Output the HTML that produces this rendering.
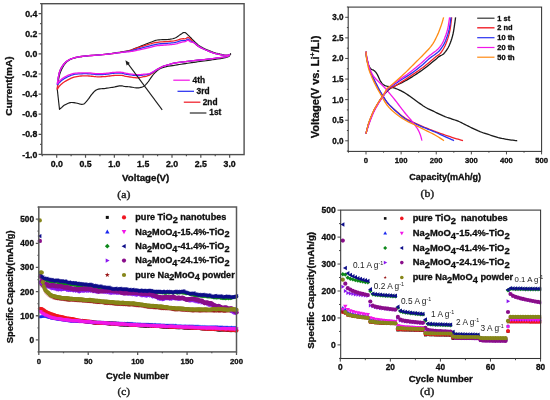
<!DOCTYPE html>
<html lang="en"><head><meta charset="utf-8"><title>Electrochemical performance</title>
<style>html,body{margin:0;padding:0;background:#fff;}body{width:550px;height:400px;overflow:hidden;}svg{display:block;}</style>
</head><body>
<svg width="550" height="400" viewBox="0 0 550 400">
<defs><filter id="soft" x="0" y="0" width="550" height="400" filterUnits="userSpaceOnUse"><feGaussianBlur stdDeviation="0.38"/></filter></defs>
<rect width="550" height="400" fill="#ffffff"/>
<g filter="url(#soft)">
<g id="panel-a">
<rect x="41.8" y="3.7" width="202.3" height="150.9" fill="none" stroke="#505050" stroke-width="1.4"/>
<path d="M56.7 154.6v3.2M85.53 154.6v3.2M114.35 154.6v3.2M143.18 154.6v3.2M172 154.6v3.2M200.82 154.6v3.2M229.65 154.6v3.2" stroke="#505050" stroke-width="1.19" fill="none"/>
<path d="M42.29 154.6v1.7M71.11 154.6v1.7M99.94 154.6v1.7M128.76 154.6v1.7M157.59 154.6v1.7M186.41 154.6v1.7M215.24 154.6v1.7" stroke="#505050" stroke-width="1.19" fill="none"/>
<path d="M41.8 13.61h-3.2M41.8 33.73h-3.2M41.8 53.85h-3.2M41.8 73.97h-3.2M41.8 94.09h-3.2M41.8 114.21h-3.2M41.8 134.33h-3.2M41.8 154.45h-3.2" stroke="#505050" stroke-width="1.19" fill="none"/>
<path d="M41.8 3.55h-1.7M41.8 23.67h-1.7M41.8 43.79h-1.7M41.8 63.91h-1.7M41.8 84.03h-1.7M41.8 104.15h-1.7M41.8 124.27h-1.7M41.8 144.39h-1.7" stroke="#505050" stroke-width="1.19" fill="none"/>
<text transform="translate(56.7 166.7) scale(1.03 1)" font-size="8.5" font-weight="bold" text-anchor="middle" fill="#0a0a0a" font-family='"Liberation Sans", Arial, sans-serif'  stroke="#0a0a0a" stroke-width="0.28">0.0</text>
<text transform="translate(85.53 166.7) scale(1.03 1)" font-size="8.5" font-weight="bold" text-anchor="middle" fill="#0a0a0a" font-family='"Liberation Sans", Arial, sans-serif'  stroke="#0a0a0a" stroke-width="0.28">0.5</text>
<text transform="translate(114.35 166.7) scale(1.03 1)" font-size="8.5" font-weight="bold" text-anchor="middle" fill="#0a0a0a" font-family='"Liberation Sans", Arial, sans-serif'  stroke="#0a0a0a" stroke-width="0.28">1.0</text>
<text transform="translate(143.18 166.7) scale(1.03 1)" font-size="8.5" font-weight="bold" text-anchor="middle" fill="#0a0a0a" font-family='"Liberation Sans", Arial, sans-serif'  stroke="#0a0a0a" stroke-width="0.28">1.5</text>
<text transform="translate(172 166.7) scale(1.03 1)" font-size="8.5" font-weight="bold" text-anchor="middle" fill="#0a0a0a" font-family='"Liberation Sans", Arial, sans-serif'  stroke="#0a0a0a" stroke-width="0.28">2.0</text>
<text transform="translate(200.82 166.7) scale(1.03 1)" font-size="8.5" font-weight="bold" text-anchor="middle" fill="#0a0a0a" font-family='"Liberation Sans", Arial, sans-serif'  stroke="#0a0a0a" stroke-width="0.28">2.5</text>
<text transform="translate(229.65 166.7) scale(1.03 1)" font-size="8.5" font-weight="bold" text-anchor="middle" fill="#0a0a0a" font-family='"Liberation Sans", Arial, sans-serif'  stroke="#0a0a0a" stroke-width="0.28">3.0</text>
<text transform="translate(37.3 16.71) scale(1.03 1)" font-size="8.5" font-weight="bold" text-anchor="end" fill="#0a0a0a" font-family='"Liberation Sans", Arial, sans-serif'  stroke="#0a0a0a" stroke-width="0.28">0.4</text>
<text transform="translate(37.3 36.83) scale(1.03 1)" font-size="8.5" font-weight="bold" text-anchor="end" fill="#0a0a0a" font-family='"Liberation Sans", Arial, sans-serif'  stroke="#0a0a0a" stroke-width="0.28">0.2</text>
<text transform="translate(37.3 56.95) scale(1.03 1)" font-size="8.5" font-weight="bold" text-anchor="end" fill="#0a0a0a" font-family='"Liberation Sans", Arial, sans-serif'  stroke="#0a0a0a" stroke-width="0.28">0.0</text>
<text transform="translate(37.3 77.07) scale(1.03 1)" font-size="8.5" font-weight="bold" text-anchor="end" fill="#0a0a0a" font-family='"Liberation Sans", Arial, sans-serif'  stroke="#0a0a0a" stroke-width="0.28">-0.2</text>
<text transform="translate(37.3 97.19) scale(1.03 1)" font-size="8.5" font-weight="bold" text-anchor="end" fill="#0a0a0a" font-family='"Liberation Sans", Arial, sans-serif'  stroke="#0a0a0a" stroke-width="0.28">-0.4</text>
<text transform="translate(37.3 117.31) scale(1.03 1)" font-size="8.5" font-weight="bold" text-anchor="end" fill="#0a0a0a" font-family='"Liberation Sans", Arial, sans-serif'  stroke="#0a0a0a" stroke-width="0.28">-0.6</text>
<text transform="translate(37.3 137.43) scale(1.03 1)" font-size="8.5" font-weight="bold" text-anchor="end" fill="#0a0a0a" font-family='"Liberation Sans", Arial, sans-serif'  stroke="#0a0a0a" stroke-width="0.28">-0.8</text>
<text transform="translate(37.3 157.55) scale(1.03 1)" font-size="8.5" font-weight="bold" text-anchor="end" fill="#0a0a0a" font-family='"Liberation Sans", Arial, sans-serif'  stroke="#0a0a0a" stroke-width="0.28">-1.0</text>
<text transform="translate(12.1 86) rotate(-90) scale(1.04 1)" font-size="9.7" font-weight="bold" text-anchor="middle" fill="#0a0a0a" stroke="#0a0a0a" stroke-width="0.28" font-family='"Liberation Sans", Arial, sans-serif'>Current(mA)</text>
<text transform="translate(145.7 181) scale(1.0 1)" font-size="9.7" font-weight="bold" text-anchor="middle" fill="#0a0a0a" font-family='"Liberation Sans", Arial, sans-serif'  stroke="#0a0a0a" stroke-width="0.28">Voltage(V)</text>
<text transform="translate(123.8 197.5) scale(1.11 1)" font-size="10.6" font-weight="normal" text-anchor="middle" fill="#222" font-family='"Liberation Serif", "DejaVu Serif", serif'  stroke="#222" stroke-width="0.4">(a)</text>
<path d="M57.2 89.5 L57.33 88.45 L57.51 86.98 L57.73 85.25 L57.97 83.41 L58.23 81.61 L58.5 80 L58.77 78.58 L59.04 77.21 L59.33 75.88 L59.66 74.58 L60.04 73.29 L60.5 72 L61.05 70.67 L61.69 69.3 L62.38 67.94 L63.09 66.64 L63.81 65.44 L64.5 64.4 L65.16 63.53 L65.83 62.79 L66.49 62.16 L67.15 61.6 L67.82 61.09 L68.5 60.6 L69.15 60.15 L69.77 59.76 L70.39 59.42 L71.06 59.11 L71.82 58.81 L72.7 58.5 L73.72 58.19 L74.84 57.88 L76.05 57.59 L77.33 57.31 L78.65 57.04 L80 56.8 L81.31 56.59 L82.6 56.4 L83.92 56.24 L85.38 56.07 L87.05 55.9 L89 55.7 L91.32 55.48 L93.95 55.26 L96.79 55.03 L99.74 54.77 L102.67 54.5 L105.5 54.2 L108.32 53.85 L111.25 53.47 L114.17 53.06 L116.97 52.64 L119.55 52.25 L121.8 51.9 L123.64 51.61 L125.16 51.36 L126.45 51.13 L127.62 50.9 L128.77 50.63 L130 50.3 L131.23 49.93 L132.37 49.54 L133.48 49.11 L134.66 48.64 L135.97 48.11 L137.5 47.5 L139.35 46.77 L141.48 45.9 L143.75 44.98 L146.02 44.06 L148.15 43.21 L150 42.5 L151.51 41.92 L152.78 41.41 L153.91 40.97 L155 40.59 L156.16 40.27 L157.5 40 L159.05 39.81 L160.74 39.72 L162.5 39.69 L164.26 39.67 L165.95 39.62 L167.5 39.5 L168.91 39.34 L170.23 39.17 L171.48 38.98 L172.68 38.73 L173.85 38.41 L175 38 L176.16 37.44 L177.3 36.73 L178.42 35.94 L179.47 35.16 L180.44 34.46 L181.3 33.9 L182.01 33.47 L182.59 33.1 L183.09 32.8 L183.54 32.59 L184 32.49 L184.5 32.5 L185 32.62 L185.46 32.83 L185.93 33.14 L186.44 33.56 L187.05 34.11 L187.8 34.8 L188.74 35.69 L189.82 36.79 L191.01 38.02 L192.23 39.29 L193.45 40.51 L194.6 41.6 L195.62 42.56 L196.54 43.44 L197.44 44.28 L198.43 45.1 L199.58 45.93 L201 46.8 L202.73 47.73 L204.71 48.71 L206.87 49.69 L209.11 50.65 L211.35 51.53 L213.5 52.3 L215.68 52.97 L217.97 53.59 L220.27 54.13 L222.45 54.59 L224.4 54.95 L226 55.2 L227.23 55.31 L228.16 55.27 L228.86 55.14 L229.4 54.96 L229.82 54.76 L230.2 54.6 L230.48 54.44 L230.6 54.26 L230.61 54.06 L230.57 53.87 L230.51 53.71 L230.5 53.6 L229.98 54.88 L229.79 55.27 L229.51 55.74 L229.02 56.24 L228.22 56.74 L227 57.2 L225.21 57.64 L222.93 58.1 L220.33 58.56 L217.6 59 L214.93 59.42 L212.5 59.8 L210.3 60.13 L208.19 60.43 L206.12 60.7 L204.09 60.96 L202.06 61.22 L200 61.5 L197.92 61.79 L195.83 62.09 L193.75 62.39 L191.67 62.69 L189.58 62.99 L187.5 63.3 L185.42 63.61 L183.33 63.91 L181.25 64.21 L179.17 64.53 L177.08 64.85 L175 65.2 L172.84 65.56 L170.59 65.91 L168.34 66.29 L166.19 66.69 L164.21 67.12 L162.5 67.6 L161.1 68.13 L159.94 68.71 L158.97 69.33 L158.11 69.97 L157.31 70.63 L156.5 71.3 L155.72 71.96 L155.04 72.61 L154.41 73.28 L153.8 73.99 L153.17 74.75 L152.5 75.6 L151.78 76.57 L151.03 77.66 L150.27 78.8 L149.5 79.94 L148.74 81.03 L148 82 L147.3 82.87 L146.64 83.69 L145.98 84.45 L145.31 85.14 L144.57 85.76 L143.75 86.3 L142.84 86.75 L141.86 87.13 L140.83 87.43 L139.75 87.66 L138.64 87.82 L137.5 87.9 L136.29 87.88 L135 87.74 L133.67 87.53 L132.36 87.29 L131.12 87.06 L130 86.9 L129.02 86.8 L128.14 86.73 L127.33 86.68 L126.56 86.63 L125.79 86.58 L125 86.5 L124.21 86.38 L123.45 86.21 L122.7 86.04 L121.93 85.9 L121.1 85.8 L120.2 85.8 L119.22 85.9 L118.19 86.09 L117.11 86.32 L115.98 86.59 L114.81 86.86 L113.6 87.1 L112.34 87.32 L111.01 87.54 L109.65 87.76 L108.26 87.98 L106.87 88.19 L105.5 88.4 L104.1 88.56 L102.65 88.67 L101.2 88.78 L99.79 88.92 L98.48 89.15 L97.3 89.5 L96.29 89.98 L95.42 90.55 L94.64 91.21 L93.91 91.94 L93.18 92.74 L92.4 93.6 L91.58 94.58 L90.76 95.71 L89.93 96.9 L89.11 98.09 L88.3 99.22 L87.5 100.2 L86.74 101.09 L86.03 101.95 L85.33 102.74 L84.59 103.43 L83.8 103.96 L82.9 104.3 L81.87 104.39 L80.73 104.23 L79.52 103.93 L78.3 103.57 L77.11 103.23 L76 103 L74.98 102.85 L74.01 102.69 L73.08 102.56 L72.16 102.49 L71.24 102.49 L70.3 102.6 L69.31 102.85 L68.27 103.22 L67.23 103.67 L66.23 104.16 L65.31 104.65 L64.5 105.1 L63.83 105.53 L63.26 105.96 L62.76 106.4 L62.32 106.83 L61.91 107.23 L61.5 107.6 L61.09 107.95 L60.69 108.29 L60.31 108.61 L59.98 108.89 L59.71 109.12 L59.5 109.3 L57.3 89.5" fill="none" stroke="#1a1a1a" stroke-width="1.15" stroke-linejoin="round" stroke-linecap="butt" />
<path d="M57.2 89.5 L57.35 87.95 L57.54 85.74 L57.78 83.16 L58.04 80.48 L58.32 78 L58.6 76 L58.86 74.51 L59.12 73.3 L59.39 72.29 L59.69 71.38 L60.06 70.48 L60.5 69.5 L61.05 68.43 L61.68 67.33 L62.37 66.24 L63.09 65.2 L63.81 64.24 L64.5 63.4 L65.16 62.68 L65.83 62.07 L66.49 61.54 L67.15 61.06 L67.82 60.62 L68.5 60.2 L69.15 59.8 L69.77 59.46 L70.39 59.15 L71.06 58.86 L71.82 58.58 L72.7 58.3 L73.72 58.01 L74.84 57.72 L76.05 57.44 L77.33 57.18 L78.65 56.93 L80 56.7 L81.31 56.5 L82.6 56.33 L83.92 56.18 L85.38 56.03 L87.05 55.88 L89 55.7 L91.32 55.51 L93.95 55.32 L96.79 55.12 L99.74 54.91 L102.67 54.67 L105.5 54.4 L108.32 54.08 L111.25 53.73 L114.17 53.35 L116.97 52.96 L119.55 52.58 L121.8 52.23 L123.64 51.91 L125.16 51.6 L126.45 51.31 L127.62 51.02 L128.77 50.71 L130 50.37 L131.23 50.02 L132.37 49.67 L133.48 49.31 L134.66 48.92 L135.97 48.48 L137.5 47.98 L139.35 47.38 L141.48 46.69 L143.75 45.95 L146.02 45.22 L148.15 44.55 L150 44 L151.51 43.57 L152.78 43.23 L153.91 42.95 L155 42.72 L156.16 42.5 L157.5 42.3 L159.05 42.11 L160.74 41.97 L162.5 41.84 L164.26 41.73 L165.95 41.62 L167.5 41.5 L168.91 41.38 L170.23 41.27 L171.48 41.16 L172.68 41.04 L173.85 40.89 L175 40.7 L176.14 40.44 L177.27 40.11 L178.36 39.76 L179.41 39.42 L180.39 39.12 L181.3 38.9 L182.13 38.79 L182.89 38.76 L183.58 38.77 L184.23 38.79 L184.83 38.78 L185.4 38.7 L185.92 38.51 L186.38 38.23 L186.79 37.93 L187.19 37.64 L187.58 37.45 L188 37.4 L188.42 37.5 L188.83 37.7 L189.24 37.99 L189.66 38.35 L190.11 38.76 L190.6 39.2 L191.12 39.69 L191.64 40.24 L192.2 40.84 L192.8 41.47 L193.46 42.13 L194.2 42.8 L194.96 43.48 L195.72 44.17 L196.54 44.89 L197.49 45.63 L198.62 46.4 L200 47.2 L201.7 48.07 L203.67 49.02 L205.83 50 L208.09 50.96 L210.34 51.84 L212.5 52.6 L214.67 53.26 L216.96 53.86 L219.24 54.39 L221.42 54.83 L223.37 55.17 L225 55.4 L226.28 55.47 L227.29 55.37 L228.08 55.17 L228.7 54.94 L229.19 54.73 L229.6 54.6 L229.39 54.82 L229.2 55.12 L228.92 55.48 L228.46 55.86 L227.68 56.24 L226.5 56.6 L224.78 56.94 L222.59 57.29 L220.09 57.64 L217.46 57.98 L214.87 58.3 L212.5 58.6 L210.33 58.87 L208.22 59.11 L206.16 59.34 L204.11 59.56 L202.07 59.78 L200 60 L197.92 60.22 L195.83 60.43 L193.75 60.63 L191.67 60.84 L189.58 61.06 L187.5 61.3 L185.4 61.54 L183.29 61.78 L181.17 62.03 L179.07 62.31 L177.01 62.63 L175 63 L173 63.45 L171 63.96 L169.03 64.51 L167.14 65.08 L165.38 65.65 L163.8 66.2 L162.45 66.71 L161.31 67.19 L160.31 67.66 L159.35 68.17 L158.38 68.74 L157.3 69.4 L156.12 70.21 L154.89 71.17 L153.63 72.18 L152.39 73.17 L151.17 74.07 L150 74.8 L148.9 75.33 L147.84 75.74 L146.81 76.04 L145.79 76.29 L144.78 76.51 L143.75 76.74 L142.72 76.99 L141.71 77.23 L140.7 77.44 L139.68 77.62 L138.61 77.74 L137.5 77.8 L136.29 77.77 L135 77.67 L133.67 77.52 L132.36 77.34 L131.12 77.15 L130 77 L129 76.87 L128.08 76.73 L127.23 76.6 L126.44 76.47 L125.7 76.33 L125 76.2 L124.42 76.06 L123.99 75.9 L123.6 75.74 L123.17 75.6 L122.6 75.48 L121.8 75.4 L120.72 75.35 L119.43 75.33 L118.01 75.34 L116.51 75.37 L115.02 75.42 L113.6 75.5 L112.25 75.62 L110.9 75.79 L109.55 75.99 L108.2 76.19 L106.85 76.36 L105.5 76.5 L104.14 76.6 L102.78 76.69 L101.41 76.76 L100.04 76.81 L98.67 76.82 L97.3 76.8 L95.92 76.72 L94.53 76.59 L93.14 76.42 L91.75 76.25 L90.37 76.1 L89 76 L87.65 75.93 L86.32 75.88 L85 75.85 L83.68 75.85 L82.35 75.9 L81 76 L79.63 76.15 L78.25 76.33 L76.86 76.56 L75.47 76.85 L74.08 77.2 L72.7 77.64 L71.28 78.19 L69.82 78.86 L68.36 79.59 L66.96 80.36 L65.65 81.11 L64.5 81.8 L63.52 82.44 L62.66 83.05 L61.91 83.65 L61.24 84.25 L60.61 84.85 L60 85.48 L59.4 86.18 L58.84 86.94 L58.32 87.72 L57.86 88.45 L57.48 89.06 L57.2 89.5" fill="none" stroke="#f0202a" stroke-width="1.3" stroke-linejoin="round" stroke-linecap="butt" />
<path d="M57.2 85 L57.35 83.99 L57.54 82.57 L57.78 80.91 L58.04 79.15 L58.32 77.46 L58.6 76 L58.86 74.77 L59.12 73.63 L59.39 72.57 L59.69 71.54 L60.06 70.53 L60.5 69.5 L61.05 68.43 L61.68 67.33 L62.37 66.24 L63.09 65.2 L63.81 64.24 L64.5 63.4 L65.16 62.68 L65.83 62.07 L66.49 61.54 L67.15 61.06 L67.82 60.62 L68.5 60.2 L69.15 59.8 L69.77 59.46 L70.39 59.15 L71.06 58.86 L71.82 58.58 L72.7 58.3 L73.72 58.01 L74.84 57.72 L76.05 57.44 L77.33 57.18 L78.65 56.93 L80 56.7 L81.31 56.5 L82.6 56.33 L83.92 56.18 L85.38 56.03 L87.05 55.88 L89 55.7 L91.32 55.51 L93.95 55.32 L96.79 55.12 L99.74 54.9 L102.67 54.67 L105.5 54.4 L108.32 54.08 L111.25 53.72 L114.17 53.34 L116.97 52.96 L119.55 52.6 L121.8 52.28 L123.64 52.03 L125.16 51.82 L126.45 51.64 L127.62 51.45 L128.77 51.25 L130 51.02 L131.23 50.76 L132.37 50.5 L133.48 50.23 L134.66 49.92 L135.97 49.57 L137.5 49.17 L139.35 48.68 L141.48 48.1 L143.75 47.48 L146.02 46.86 L148.15 46.28 L150 45.8 L151.51 45.41 L152.78 45.08 L153.91 44.79 L155 44.54 L156.16 44.31 L157.5 44.1 L159.05 43.91 L160.74 43.77 L162.5 43.64 L164.26 43.53 L165.95 43.42 L167.5 43.3 L168.91 43.18 L170.23 43.07 L171.48 42.96 L172.68 42.84 L173.85 42.69 L175 42.5 L176.14 42.24 L177.27 41.91 L178.36 41.56 L179.41 41.22 L180.39 40.92 L181.3 40.7 L182.13 40.59 L182.89 40.56 L183.58 40.57 L184.23 40.59 L184.83 40.58 L185.4 40.5 L185.92 40.31 L186.38 40.03 L186.79 39.73 L187.19 39.44 L187.58 39.25 L188 39.2 L188.42 39.32 L188.83 39.57 L189.24 39.91 L189.66 40.29 L190.11 40.66 L190.6 41 L191.12 41.27 L191.64 41.5 L192.2 41.74 L192.8 42.01 L193.46 42.35 L194.2 42.8 L194.96 43.37 L195.72 44.04 L196.54 44.77 L197.49 45.56 L198.62 46.38 L200 47.2 L201.7 48.07 L203.67 49.02 L205.83 50 L208.09 50.96 L210.34 51.84 L212.5 52.6 L214.67 53.26 L216.96 53.86 L219.24 54.39 L221.42 54.83 L223.37 55.17 L225 55.4 L226.28 55.47 L227.29 55.37 L228.08 55.17 L228.7 54.94 L229.19 54.73 L229.6 54.6 L229.39 54.82 L229.2 55.12 L228.92 55.48 L228.46 55.86 L227.68 56.24 L226.5 56.6 L224.78 56.94 L222.59 57.29 L220.09 57.64 L217.46 57.98 L214.87 58.3 L212.5 58.6 L210.33 58.87 L208.22 59.11 L206.16 59.34 L204.11 59.56 L202.07 59.78 L200 60 L197.92 60.22 L195.83 60.43 L193.75 60.63 L191.67 60.84 L189.58 61.06 L187.5 61.3 L185.4 61.54 L183.29 61.78 L181.17 62.03 L179.07 62.31 L177.01 62.63 L175 63 L173 63.45 L171 63.96 L169.03 64.51 L167.14 65.08 L165.38 65.65 L163.8 66.2 L162.45 66.72 L161.31 67.23 L160.31 67.73 L159.35 68.25 L158.38 68.8 L157.3 69.4 L156.12 70.09 L154.89 70.86 L153.63 71.67 L152.39 72.45 L151.17 73.15 L150 73.7 L148.9 74.1 L147.84 74.37 L146.81 74.57 L145.79 74.71 L144.78 74.84 L143.75 74.98 L142.72 75.14 L141.71 75.29 L140.7 75.42 L139.68 75.52 L138.61 75.59 L137.5 75.6 L136.29 75.55 L135 75.44 L133.67 75.29 L132.36 75.12 L131.12 74.95 L130 74.8 L129 74.67 L128.08 74.53 L127.23 74.4 L126.44 74.27 L125.7 74.13 L125 74 L124.42 73.86 L123.99 73.7 L123.6 73.54 L123.17 73.4 L122.6 73.28 L121.8 73.2 L120.72 73.15 L119.43 73.13 L118.01 73.14 L116.51 73.17 L115.02 73.22 L113.6 73.3 L112.25 73.42 L110.9 73.59 L109.55 73.79 L108.2 73.99 L106.85 74.16 L105.5 74.3 L104.14 74.4 L102.78 74.49 L101.41 74.56 L100.04 74.61 L98.67 74.62 L97.3 74.6 L95.92 74.52 L94.53 74.39 L93.14 74.22 L91.75 74.05 L90.37 73.9 L89 73.8 L87.65 73.74 L86.32 73.7 L85 73.69 L83.68 73.7 L82.35 73.73 L81 73.8 L79.63 73.87 L78.25 73.95 L76.86 74.06 L75.47 74.21 L74.08 74.45 L72.7 74.78 L71.28 75.24 L69.82 75.83 L68.36 76.48 L66.96 77.18 L65.65 77.86 L64.5 78.5 L63.52 79.1 L62.66 79.69 L61.91 80.27 L61.24 80.85 L60.61 81.41 L60 81.96 L59.4 82.53 L58.84 83.12 L58.32 83.7 L57.86 84.23 L57.48 84.67 L57.2 85" fill="none" stroke="#2a32f0" stroke-width="1.3" stroke-linejoin="round" stroke-linecap="butt" />
<path d="M57.2 84.2 L57.35 83.29 L57.54 82.01 L57.78 80.51 L58.04 78.91 L58.32 77.36 L58.6 76 L58.86 74.81 L59.12 73.69 L59.39 72.62 L59.69 71.57 L60.06 70.54 L60.5 69.5 L61.05 68.43 L61.68 67.33 L62.37 66.24 L63.09 65.2 L63.81 64.24 L64.5 63.4 L65.16 62.68 L65.83 62.07 L66.49 61.54 L67.15 61.06 L67.82 60.62 L68.5 60.2 L69.15 59.8 L69.77 59.46 L70.39 59.15 L71.06 58.86 L71.82 58.58 L72.7 58.3 L73.72 58.01 L74.84 57.72 L76.05 57.44 L77.33 57.18 L78.65 56.93 L80 56.7 L81.31 56.5 L82.6 56.33 L83.92 56.18 L85.38 56.03 L87.05 55.88 L89 55.7 L91.32 55.51 L93.95 55.32 L96.79 55.12 L99.74 54.9 L102.67 54.66 L105.5 54.4 L108.32 54.08 L111.25 53.72 L114.17 53.33 L116.97 52.95 L119.55 52.61 L121.8 52.34 L123.64 52.14 L125.16 52.01 L126.45 51.92 L127.62 51.84 L128.77 51.74 L130 51.6 L131.23 51.42 L132.37 51.24 L133.48 51.04 L134.66 50.81 L135.97 50.55 L137.5 50.23 L139.35 49.83 L141.48 49.35 L143.75 48.83 L146.02 48.31 L148.15 47.82 L150 47.4 L151.51 47.04 L152.78 46.72 L153.91 46.42 L155 46.16 L156.16 45.92 L157.5 45.7 L159.05 45.51 L160.74 45.37 L162.5 45.24 L164.26 45.13 L165.95 45.02 L167.5 44.9 L168.91 44.78 L170.23 44.67 L171.48 44.56 L172.68 44.44 L173.85 44.29 L175 44.1 L176.14 43.85 L177.27 43.54 L178.36 43.2 L179.41 42.86 L180.39 42.55 L181.3 42.3 L182.13 42.11 L182.89 41.98 L183.58 41.87 L184.23 41.77 L184.83 41.65 L185.4 41.5 L185.92 41.28 L186.38 40.99 L186.79 40.69 L187.19 40.42 L187.58 40.24 L188 40.2 L188.42 40.33 L188.83 40.61 L189.24 40.97 L189.66 41.36 L190.11 41.72 L190.6 42 L191.12 42.15 L191.64 42.21 L192.2 42.24 L192.8 42.3 L193.46 42.47 L194.2 42.8 L194.96 43.31 L195.72 43.96 L196.54 44.71 L197.49 45.53 L198.62 46.37 L200 47.2 L201.7 48.07 L203.67 49.02 L205.83 50 L208.09 50.96 L210.34 51.84 L212.5 52.6 L214.67 53.26 L216.96 53.86 L219.24 54.39 L221.42 54.83 L223.37 55.17 L225 55.4 L226.28 55.47 L227.29 55.37 L228.08 55.17 L228.7 54.94 L229.19 54.73 L229.6 54.6 L229.39 54.82 L229.2 55.12 L228.92 55.48 L228.46 55.86 L227.68 56.24 L226.5 56.6 L224.78 56.94 L222.59 57.29 L220.09 57.64 L217.46 57.98 L214.87 58.3 L212.5 58.6 L210.33 58.87 L208.22 59.11 L206.16 59.34 L204.11 59.56 L202.07 59.78 L200 60 L197.92 60.22 L195.83 60.43 L193.75 60.63 L191.67 60.84 L189.58 61.06 L187.5 61.3 L185.4 61.54 L183.29 61.78 L181.17 62.03 L179.07 62.31 L177.01 62.63 L175 63 L173 63.45 L171 63.96 L169.03 64.51 L167.14 65.08 L165.38 65.65 L163.8 66.2 L162.45 66.73 L161.31 67.24 L160.31 67.76 L159.35 68.29 L158.38 68.83 L157.3 69.4 L156.12 70.04 L154.89 70.74 L153.63 71.46 L152.39 72.15 L151.17 72.77 L150 73.25 L148.9 73.59 L147.84 73.82 L146.81 73.97 L145.79 74.07 L144.78 74.16 L143.75 74.26 L142.72 74.38 L141.71 74.49 L140.7 74.59 L139.68 74.67 L138.61 74.71 L137.5 74.7 L136.29 74.64 L135 74.53 L133.67 74.38 L132.36 74.21 L131.12 74.05 L130 73.9 L129 73.77 L128.08 73.63 L127.23 73.5 L126.44 73.37 L125.7 73.23 L125 73.1 L124.42 72.96 L123.99 72.8 L123.6 72.64 L123.17 72.5 L122.6 72.38 L121.8 72.3 L120.72 72.25 L119.43 72.23 L118.01 72.24 L116.51 72.27 L115.02 72.32 L113.6 72.4 L112.25 72.52 L110.9 72.69 L109.55 72.89 L108.2 73.09 L106.85 73.26 L105.5 73.4 L104.14 73.5 L102.78 73.59 L101.41 73.66 L100.04 73.71 L98.67 73.72 L97.3 73.7 L95.92 73.62 L94.53 73.49 L93.14 73.32 L91.75 73.15 L90.37 73 L89 72.9 L87.65 72.85 L86.32 72.81 L85 72.81 L83.68 72.82 L82.35 72.85 L81 72.9 L79.63 72.94 L78.25 72.98 L76.86 73.03 L75.47 73.14 L74.08 73.32 L72.7 73.61 L71.28 74.04 L69.82 74.59 L68.36 75.21 L66.96 75.88 L65.65 76.54 L64.5 77.15 L63.52 77.72 L62.66 78.27 L61.91 78.83 L61.24 79.38 L60.61 79.94 L60 80.52 L59.4 81.16 L58.84 81.86 L58.32 82.57 L57.86 83.23 L57.48 83.8 L57.2 84.2" fill="none" stroke="#f218e8" stroke-width="1.3" stroke-linejoin="round" stroke-linecap="butt" />
<path d="M162.2 109.8L127 62.4" stroke="#1c1c1c" stroke-width="1.1" fill="none"/>
<polygon points="125.4,60.3 129.9,63.1 126.6,65.5" fill="#1c1c1c"/>
<path d="M173.3 80.2H189.8" stroke="#f218e8" stroke-width="1.25"/>
<text transform="translate(192.5 82.6) scale(0.98 1)" font-size="8.5" font-weight="bold" text-anchor="start" fill="#0a0a0a" font-family='"Liberation Sans", Arial, sans-serif'  stroke="#0a0a0a" stroke-width="0.28">4th</text>
<path d="M177.5 91.3H194" stroke="#2a32f0" stroke-width="1.25"/>
<text transform="translate(196.6 93.6) scale(0.98 1)" font-size="8.5" font-weight="bold" text-anchor="start" fill="#0a0a0a" font-family='"Liberation Sans", Arial, sans-serif'  stroke="#0a0a0a" stroke-width="0.28">3rd</text>
<path d="M183.8 102.2H200.4" stroke="#f0202a" stroke-width="1.25"/>
<text transform="translate(202.7 104.5) scale(0.98 1)" font-size="8.5" font-weight="bold" text-anchor="start" fill="#0a0a0a" font-family='"Liberation Sans", Arial, sans-serif'  stroke="#0a0a0a" stroke-width="0.28">2nd</text>
<path d="M189.8 113H206.4" stroke="#333" stroke-width="1.25"/>
<text transform="translate(209.3 115.4) scale(0.98 1)" font-size="8.5" font-weight="bold" text-anchor="start" fill="#0a0a0a" font-family='"Liberation Sans", Arial, sans-serif'  stroke="#0a0a0a" stroke-width="0.28">1st</text>
</g>
<g id="panel-b">
<rect x="348.2" y="7.1" width="193.4" height="144.3" fill="none" stroke="#333333" stroke-width="1.05"/>
<path d="M366 151.4v3M401.12 151.4v3M436.24 151.4v3M471.36 151.4v3M506.48 151.4v3M541.6 151.4v3" stroke="#333333" stroke-width="0.8925" fill="none"/>
<path d="M348.44 151.4v1.3M383.56 151.4v1.3M418.68 151.4v1.3M453.8 151.4v1.3M488.92 151.4v1.3M524.04 151.4v1.3" stroke="#333333" stroke-width="0.8925" fill="none"/>
<path d="M348.2 140.8h-3M348.2 120.22h-3M348.2 99.63h-3M348.2 79.05h-3M348.2 58.46h-3M348.2 37.88h-3M348.2 17.29h-3" stroke="#333333" stroke-width="0.8925" fill="none"/>
<path d="M348.2 151.09h-1.3M348.2 130.51h-1.3M348.2 109.92h-1.3M348.2 89.34h-1.3M348.2 68.75h-1.3M348.2 48.17h-1.3M348.2 27.58h-1.3M348.2 7h-1.3" stroke="#333333" stroke-width="0.8925" fill="none"/>
<text transform="translate(366 163) scale(0.96 1)" font-size="8.0" font-weight="bold" text-anchor="middle" fill="#0a0a0a" font-family='"Liberation Sans", Arial, sans-serif'  stroke="#0a0a0a" stroke-width="0.28">0</text>
<text transform="translate(401.12 163) scale(0.96 1)" font-size="8.0" font-weight="bold" text-anchor="middle" fill="#0a0a0a" font-family='"Liberation Sans", Arial, sans-serif'  stroke="#0a0a0a" stroke-width="0.28">100</text>
<text transform="translate(436.24 163) scale(0.96 1)" font-size="8.0" font-weight="bold" text-anchor="middle" fill="#0a0a0a" font-family='"Liberation Sans", Arial, sans-serif'  stroke="#0a0a0a" stroke-width="0.28">200</text>
<text transform="translate(471.36 163) scale(0.96 1)" font-size="8.0" font-weight="bold" text-anchor="middle" fill="#0a0a0a" font-family='"Liberation Sans", Arial, sans-serif'  stroke="#0a0a0a" stroke-width="0.28">300</text>
<text transform="translate(506.48 163) scale(0.96 1)" font-size="8.0" font-weight="bold" text-anchor="middle" fill="#0a0a0a" font-family='"Liberation Sans", Arial, sans-serif'  stroke="#0a0a0a" stroke-width="0.28">400</text>
<text transform="translate(541.6 163) scale(0.96 1)" font-size="8.0" font-weight="bold" text-anchor="middle" fill="#0a0a0a" font-family='"Liberation Sans", Arial, sans-serif'  stroke="#0a0a0a" stroke-width="0.28">500</text>
<text transform="translate(343.6 143.7) scale(0.99 1)" font-size="8.2" font-weight="bold" text-anchor="end" fill="#0a0a0a" font-family='"Liberation Sans", Arial, sans-serif'  stroke="#0a0a0a" stroke-width="0.28">0.0</text>
<text transform="translate(343.6 123.12) scale(0.99 1)" font-size="8.2" font-weight="bold" text-anchor="end" fill="#0a0a0a" font-family='"Liberation Sans", Arial, sans-serif'  stroke="#0a0a0a" stroke-width="0.28">0.5</text>
<text transform="translate(343.6 102.53) scale(0.99 1)" font-size="8.2" font-weight="bold" text-anchor="end" fill="#0a0a0a" font-family='"Liberation Sans", Arial, sans-serif'  stroke="#0a0a0a" stroke-width="0.28">1.0</text>
<text transform="translate(343.6 81.95) scale(0.99 1)" font-size="8.2" font-weight="bold" text-anchor="end" fill="#0a0a0a" font-family='"Liberation Sans", Arial, sans-serif'  stroke="#0a0a0a" stroke-width="0.28">1.5</text>
<text transform="translate(343.6 61.36) scale(0.99 1)" font-size="8.2" font-weight="bold" text-anchor="end" fill="#0a0a0a" font-family='"Liberation Sans", Arial, sans-serif'  stroke="#0a0a0a" stroke-width="0.28">2.0</text>
<text transform="translate(343.6 40.77) scale(0.99 1)" font-size="8.2" font-weight="bold" text-anchor="end" fill="#0a0a0a" font-family='"Liberation Sans", Arial, sans-serif'  stroke="#0a0a0a" stroke-width="0.28">2.5</text>
<text transform="translate(343.6 20.19) scale(0.99 1)" font-size="8.2" font-weight="bold" text-anchor="end" fill="#0a0a0a" font-family='"Liberation Sans", Arial, sans-serif'  stroke="#0a0a0a" stroke-width="0.28">3.0</text>
<text transform="translate(319.2 87) rotate(-90) scale(1.012 1)" font-size="11" font-weight="bold" text-anchor="middle" fill="#0a0a0a" stroke="#0a0a0a" stroke-width="0.28" font-family='"Liberation Sans", Arial, sans-serif'>Voltage(V vs. Li<tspan font-size="7" dy="-3.8">+</tspan><tspan dy="3.8">/Li)</tspan></text>
<text transform="translate(445.2 179.6) scale(1.04 1)" font-size="8.7" font-weight="bold" text-anchor="middle" fill="#0a0a0a" font-family='"Liberation Sans", Arial, sans-serif'  stroke="#0a0a0a" stroke-width="0.28">Capacity(mAh/g)</text>
<text transform="translate(427.4 196.5) scale(1.1 1)" font-size="10.6" font-weight="normal" text-anchor="middle" fill="#222" font-family='"Liberation Serif", "DejaVu Serif", serif'  stroke="#222" stroke-width="0.4">(b)</text>
<path d="M366 51.6 L366.06 52.3 L366.13 53.27 L366.21 54.43 L366.32 55.66 L366.45 56.88 L366.6 58 L366.77 59.03 L366.95 60.07 L367.15 61.09 L367.39 62.09 L367.66 63.06 L368 64 L368.41 64.93 L368.88 65.87 L369.4 66.78 L369.94 67.63 L370.48 68.38 L371 69 L371.5 69.43 L372 69.69 L372.5 69.84 L373 69.98 L373.5 70.17 L374 70.5 L374.49 70.92 L374.96 71.35 L375.44 71.84 L375.93 72.43 L376.44 73.13 L377 74 L377.61 75.12 L378.26 76.5 L378.94 77.99 L379.63 79.49 L380.32 80.87 L381 82 L381.64 82.88 L382.26 83.61 L382.88 84.21 L383.52 84.73 L384.22 85.18 L385 85.6 L385.88 85.95 L386.85 86.21 L387.88 86.4 L388.93 86.57 L389.98 86.76 L391 87 L391.98 87.28 L392.93 87.55 L393.88 87.84 L394.85 88.16 L395.88 88.54 L397 89 L398.19 89.52 L399.44 90.07 L400.75 90.69 L402.11 91.37 L403.53 92.14 L405 93 L406.55 93.99 L408.19 95.11 L409.88 96.31 L411.59 97.56 L413.31 98.8 L415 100 L416.67 101.19 L418.33 102.41 L420 103.62 L421.67 104.81 L423.33 105.95 L425 107 L426.67 107.95 L428.33 108.83 L430 109.65 L431.67 110.44 L433.33 111.21 L435 112 L436.67 112.8 L438.33 113.61 L440 114.4 L441.67 115.17 L443.33 115.91 L445 116.6 L446.72 117.25 L448.52 117.87 L450.31 118.46 L452.04 119.01 L453.62 119.53 L455 120 L456.06 120.38 L456.85 120.66 L457.5 120.9 L458.15 121.16 L458.94 121.51 L460 122 L461.38 122.66 L462.96 123.46 L464.69 124.34 L466.48 125.25 L468.28 126.16 L470 127 L471.67 127.8 L473.33 128.61 L475 129.4 L476.67 130.17 L478.33 130.91 L480 131.6 L481.67 132.24 L483.33 132.84 L485 133.4 L486.67 133.94 L488.33 134.47 L490 135 L491.67 135.54 L493.33 136.07 L495 136.6 L496.67 137.1 L498.33 137.57 L500 138 L501.7 138.38 L503.44 138.72 L505.18 139.03 L506.87 139.3 L508.5 139.56 L510 139.8 L511.45 140.02 L512.87 140.23 L514.23 140.41 L515.44 140.57 L516.45 140.7 L517.2 140.8" fill="none" stroke="#1a1a1a" stroke-width="1.3" stroke-linejoin="round" stroke-linecap="butt" />
<path d="M366 51.6 L366.06 52.19 L366.13 53.01 L366.22 53.99 L366.33 55.03 L366.46 56.06 L366.6 57 L366.75 57.8 L366.9 58.51 L367.07 59.21 L367.27 59.98 L367.51 60.88 L367.8 62 L368.14 63.37 L368.5 64.93 L368.91 66.62 L369.37 68.41 L369.89 70.22 L370.5 72 L371.2 73.78 L371.99 75.59 L372.84 77.44 L373.74 79.3 L374.67 81.16 L375.6 83 L376.55 84.86 L377.53 86.74 L378.54 88.62 L379.57 90.48 L380.59 92.28 L381.6 94 L382.58 95.63 L383.53 97.2 L384.48 98.72 L385.46 100.19 L386.49 101.61 L387.6 103 L388.79 104.34 L390.03 105.61 L391.33 106.84 L392.68 108.06 L394.07 109.27 L395.5 110.5 L396.98 111.78 L398.53 113.09 L400.12 114.41 L401.74 115.69 L403.37 116.89 L405 118 L406.64 118.98 L408.3 119.87 L409.97 120.69 L411.65 121.46 L413.33 122.22 L415 123 L416.67 123.79 L418.33 124.56 L420 125.32 L421.67 126.06 L423.33 126.79 L425 127.5 L426.67 128.19 L428.33 128.86 L430 129.51 L431.67 130.14 L433.33 130.77 L435 131.4 L436.67 132.02 L438.33 132.63 L440 133.24 L441.67 133.83 L443.33 134.42 L445 135 L446.69 135.58 L448.41 136.16 L450.12 136.73 L451.81 137.29 L453.45 137.81 L455 138.3 L456.54 138.77 L458.11 139.23 L459.62 139.66 L461 140.04 L462.15 140.36 L463 140.6" fill="none" stroke="#f0202a" stroke-width="1.3" stroke-linejoin="round" stroke-linecap="butt" />
<path d="M366 51.6 L366.06 52.19 L366.13 53.01 L366.22 53.99 L366.33 55.03 L366.46 56.06 L366.6 57 L366.75 57.81 L366.91 58.55 L367.08 59.27 L367.28 60.05 L367.52 60.94 L367.8 62 L368.11 63.23 L368.43 64.59 L368.78 66.06 L369.2 67.63 L369.69 69.28 L370.3 71 L371.04 72.84 L371.89 74.81 L372.83 76.88 L373.82 78.96 L374.82 81.02 L375.8 83 L376.77 84.91 L377.76 86.81 L378.77 88.69 L379.78 90.52 L380.79 92.29 L381.8 94 L382.78 95.63 L383.73 97.19 L384.68 98.69 L385.66 100.15 L386.69 101.58 L387.8 103 L388.99 104.39 L390.23 105.74 L391.52 107.06 L392.86 108.37 L394.26 109.68 L395.7 111 L397.21 112.37 L398.8 113.79 L400.44 115.21 L402.11 116.59 L403.77 117.86 L405.4 119 L407 119.97 L408.59 120.79 L410.18 121.53 L411.77 122.21 L413.38 122.88 L415 123.6 L416.64 124.35 L418.3 125.1 L419.98 125.84 L421.65 126.57 L423.33 127.29 L425 128 L426.67 128.68 L428.33 129.34 L430 129.99 L431.67 130.64 L433.33 131.3 L435 132 L436.68 132.74 L438.37 133.51 L440.06 134.3 L441.74 135.09 L443.39 135.86 L445 136.6 L446.66 137.35 L448.41 138.13 L450.12 138.89 L451.7 139.59 L453.03 140.17 L454 140.6" fill="none" stroke="#2a32f0" stroke-width="1.3" stroke-linejoin="round" stroke-linecap="butt" />
<path d="M366 51.6 L366.07 52.18 L366.16 52.98 L366.27 53.93 L366.4 54.96 L366.54 56 L366.7 57 L366.87 57.95 L367.04 58.9 L367.24 59.87 L367.46 60.87 L367.71 61.91 L368 63 L368.32 64.16 L368.67 65.39 L369.05 66.66 L369.47 67.94 L369.95 69.23 L370.5 70.5 L371.07 71.72 L371.65 72.91 L372.28 74.09 L373.02 75.31 L373.91 76.61 L375 78 L376.35 79.5 L377.93 81.07 L379.66 82.72 L381.46 84.43 L383.27 86.19 L385 88 L386.67 89.87 L388.33 91.81 L390 93.81 L391.67 95.85 L393.33 97.92 L395 100 L396.71 102.18 L398.48 104.48 L400.25 106.81 L401.96 109.07 L403.56 111.17 L405 113 L406.23 114.5 L407.3 115.74 L408.25 116.81 L409.15 117.81 L410.05 118.84 L411 120 L412.03 121.3 L413.11 122.67 L414.19 124.06 L415.22 125.44 L416.17 126.77 L417 128 L417.69 129.11 L418.26 130.13 L418.75 131.09 L419.19 132.03 L419.59 132.99 L420 134 L420.41 135.14 L420.81 136.4 L421.19 137.68 L421.52 138.87 L421.79 139.88 L422 140.6" fill="none" stroke="#f218e8" stroke-width="1.3" stroke-linejoin="round" stroke-linecap="butt" />
<path d="M366 51.6 L366.04 52.19 L366.09 53.01 L366.15 53.99 L366.22 55.03 L366.31 56.06 L366.4 57 L366.49 57.81 L366.59 58.55 L366.69 59.27 L366.81 60.05 L366.98 60.94 L367.2 62 L367.45 63.22 L367.7 64.56 L368 66 L368.36 67.56 L368.82 69.22 L369.4 71 L370.13 72.96 L371 75.11 L371.96 77.38 L372.98 79.67 L374 81.9 L375 84 L375.98 85.96 L376.97 87.85 L377.98 89.69 L378.99 91.48 L380 93.25 L381 95 L381.98 96.75 L382.93 98.48 L383.88 100.19 L384.85 101.85 L385.88 103.46 L387 105 L388.19 106.46 L389.44 107.85 L390.75 109.19 L392.11 110.48 L393.53 111.75 L395 113 L396.55 114.25 L398.19 115.48 L399.88 116.69 L401.59 117.85 L403.31 118.96 L405 120 L406.67 120.95 L408.33 121.81 L410 122.62 L411.67 123.41 L413.33 124.19 L415 125 L416.67 125.83 L418.33 126.67 L420 127.5 L421.67 128.33 L423.33 129.17 L425 130 L426.68 130.83 L428.37 131.64 L430.06 132.46 L431.74 133.29 L433.39 134.13 L435 135 L436.66 135.96 L438.41 137.03 L440.12 138.11 L441.7 139.13 L443.03 139.98 L444 140.6" fill="none" stroke="#ff8a12" stroke-width="1.3" stroke-linejoin="round" stroke-linecap="butt" />
<path d="M366 133.6 L366.15 133 L366.36 132.16 L366.61 131.17 L366.89 130.1 L367.18 129.02 L367.46 128 L367.73 127.07 L367.98 126.18 L368.24 125.28 L368.54 124.31 L368.9 123.24 L369.34 122 L369.87 120.55 L370.48 118.93 L371.15 117.19 L371.86 115.41 L372.6 113.66 L373.35 112 L374.13 110.42 L374.94 108.87 L375.79 107.34 L376.65 105.85 L377.51 104.4 L378.35 103 L379.18 101.65 L379.99 100.33 L380.81 99.06 L381.64 97.83 L382.48 96.65 L383.35 95.5 L384.25 94.38 L385.17 93.3 L386.11 92.25 L387.07 91.26 L388.03 90.34 L389 89.5 L389.93 88.79 L390.83 88.2 L391.73 87.69 L392.69 87.19 L393.76 86.64 L395 86 L396.44 85.27 L398.04 84.48 L399.75 83.66 L401.52 82.8 L403.29 81.91 L405 81 L406.67 80.07 L408.33 79.11 L410 78.12 L411.67 77.11 L413.33 76.07 L415 75 L416.67 73.9 L418.33 72.78 L420 71.62 L421.67 70.44 L423.33 69.24 L425 68 L426.74 66.67 L428.56 65.24 L430.38 63.77 L432.11 62.36 L433.68 61.08 L435 60 L436 59.16 L436.74 58.52 L437.31 58 L437.81 57.55 L438.34 57.1 L439 56.6 L439.78 56.1 L440.59 55.67 L441.44 55.25 L442.3 54.77 L443.16 54.17 L444 53.4 L444.84 52.46 L445.7 51.41 L446.56 50.25 L447.41 48.96 L448.22 47.55 L449 46 L449.74 44.32 L450.46 42.51 L451.15 40.57 L451.81 38.51 L452.43 36.32 L453 34 L453.54 31.31 L454.07 28.19 L454.55 24.95 L454.98 21.87 L455.33 19.26 L455.6 17.4" fill="none" stroke="#1a1a1a" stroke-width="1.3" stroke-linejoin="round" stroke-linecap="butt" />
<path d="M366 133.6 L366.15 133 L366.35 132.16 L366.59 131.17 L366.86 130.1 L367.14 129.02 L367.42 128 L367.67 127.07 L367.91 126.18 L368.17 125.28 L368.46 124.31 L368.81 123.24 L369.24 122 L369.77 120.55 L370.38 118.93 L371.05 117.19 L371.76 115.41 L372.5 113.66 L373.25 112 L374.03 110.42 L374.84 108.87 L375.69 107.34 L376.55 105.85 L377.41 104.4 L378.25 103 L379.07 101.66 L379.89 100.37 L380.7 99.12 L381.53 97.9 L382.37 96.7 L383.25 95.5 L384.19 94.25 L385.18 92.96 L386.19 91.68 L387.19 90.49 L388.13 89.44 L389 88.6 L389.7 88.08 L390.24 87.84 L390.73 87.74 L391.29 87.66 L392.01 87.46 L393 87 L394.32 86.26 L395.89 85.35 L397.62 84.31 L399.44 83.21 L401.26 82.09 L403 81 L404.67 79.94 L406.33 78.86 L408 77.76 L409.67 76.65 L411.33 75.53 L413 74.4 L414.68 73.26 L416.37 72.11 L418.06 70.95 L419.74 69.78 L421.39 68.59 L423 67.4 L424.62 66.14 L426.26 64.81 L427.88 63.48 L429.41 62.19 L430.8 61.01 L432 60 L432.94 59.21 L433.67 58.6 L434.25 58.09 L434.78 57.64 L435.33 57.16 L436 56.6 L436.78 56.01 L437.6 55.45 L438.45 54.87 L439.31 54.22 L440.17 53.45 L441 52.5 L441.82 51.38 L442.65 50.12 L443.47 48.74 L444.28 47.26 L445.06 45.67 L445.8 44 L446.51 42.23 L447.2 40.36 L447.87 38.38 L448.5 36.32 L449.08 34.19 L449.6 32 L450.07 29.55 L450.5 26.79 L450.89 23.95 L451.22 21.28 L451.49 19.02 L451.7 17.4" fill="none" stroke="#f0202a" stroke-width="1.3" stroke-linejoin="round" stroke-linecap="butt" />
<path d="M366 133.6 L366.15 133 L366.36 132.16 L366.6 131.17 L366.88 130.1 L367.16 129.02 L367.44 128 L367.7 127.07 L367.95 126.18 L368.2 125.28 L368.5 124.31 L368.85 123.24 L369.29 122 L369.82 120.55 L370.43 118.93 L371.1 117.19 L371.81 115.41 L372.55 113.66 L373.3 112 L374.08 110.42 L374.89 108.87 L375.74 107.34 L376.6 105.85 L377.46 104.4 L378.3 103 L379.13 101.66 L379.94 100.39 L380.76 99.16 L381.58 97.94 L382.43 96.73 L383.3 95.5 L384.24 94.19 L385.25 92.8 L386.28 91.41 L387.27 90.09 L388.2 88.93 L389 88 L389.59 87.39 L389.98 87.07 L390.29 86.91 L390.66 86.76 L391.18 86.5 L392 86 L393.14 85.24 L394.52 84.31 L396.06 83.27 L397.7 82.18 L399.37 81.07 L401 80 L402.61 78.97 L404.26 77.94 L405.94 76.9 L407.63 75.84 L409.32 74.74 L411 73.6 L412.68 72.41 L414.37 71.17 L416.06 69.9 L417.74 68.61 L419.39 67.3 L421 66 L422.6 64.64 L424.22 63.2 L425.81 61.75 L427.33 60.36 L428.74 59.08 L430 58 L431.06 57.15 L431.96 56.5 L432.75 55.97 L433.48 55.5 L434.21 55 L435 54.4 L435.83 53.75 L436.67 53.13 L437.5 52.47 L438.33 51.76 L439.17 50.95 L440 50 L440.84 48.92 L441.7 47.75 L442.56 46.48 L443.41 45.1 L444.22 43.61 L445 42 L445.75 40.24 L446.48 38.32 L447.19 36.29 L447.85 34.19 L448.46 32.08 L449 30 L449.47 27.79 L449.89 25.38 L450.25 22.95 L450.56 20.69 L450.81 18.78 L451 17.4" fill="none" stroke="#2a32f0" stroke-width="1.3" stroke-linejoin="round" stroke-linecap="butt" />
<path d="M366 133.6 L366.17 133 L366.41 132.16 L366.7 131.17 L367.01 130.1 L367.33 129.02 L367.65 128 L367.95 127.07 L368.24 126.18 L368.54 125.28 L368.87 124.31 L369.26 123.24 L369.73 122 L370.27 120.55 L370.89 118.93 L371.55 117.19 L372.26 115.41 L373 113.66 L373.75 112 L374.53 110.42 L375.34 108.87 L376.19 107.34 L377.05 105.85 L377.91 104.4 L378.75 103 L379.59 101.66 L380.44 100.39 L381.3 99.16 L382.14 97.94 L382.96 96.73 L383.75 95.5 L384.52 94.19 L385.27 92.8 L386 91.41 L386.7 90.09 L387.37 88.93 L388 88 L388.51 87.39 L388.91 87.07 L389.27 86.91 L389.68 86.76 L390.23 86.5 L391 86 L392.02 85.24 L393.22 84.33 L394.56 83.31 L396 82.22 L397.49 81.1 L399 80 L400.55 78.9 L402.19 77.78 L403.88 76.62 L405.59 75.44 L407.31 74.24 L409 73 L410.68 71.72 L412.37 70.41 L414.06 69.06 L415.74 67.7 L417.39 66.34 L419 65 L420.6 63.62 L422.22 62.19 L423.81 60.75 L425.33 59.37 L426.74 58.1 L428 57 L429.06 56.1 L429.96 55.37 L430.75 54.75 L431.48 54.19 L432.21 53.62 L433 53 L433.83 52.37 L434.67 51.78 L435.5 51.19 L436.33 50.56 L437.17 49.84 L438 49 L438.84 48.06 L439.69 47.07 L440.54 46 L441.38 44.81 L442.2 43.49 L443 42 L443.79 40.3 L444.59 38.39 L445.38 36.35 L446.12 34.23 L446.8 32.09 L447.4 30 L447.92 27.79 L448.38 25.38 L448.77 22.95 L449.11 20.69 L449.39 18.78 L449.6 17.4" fill="none" stroke="#f218e8" stroke-width="1.3" stroke-linejoin="round" stroke-linecap="butt" />
<path d="M366 133.6 L366.14 133 L366.32 132.16 L366.54 131.17 L366.79 130.1 L367.05 129.02 L367.3 128 L367.53 127.07 L367.75 126.18 L367.98 125.28 L368.25 124.31 L368.58 123.24 L369 122 L369.52 120.55 L370.13 118.93 L370.79 117.19 L371.51 115.41 L372.25 113.66 L373 112 L373.78 110.42 L374.59 108.87 L375.44 107.34 L376.3 105.85 L377.16 104.4 L378 103 L378.84 101.66 L379.7 100.37 L380.56 99.12 L381.41 97.91 L382.22 96.7 L383 95.5 L383.76 94.23 L384.52 92.89 L385.25 91.56 L385.93 90.33 L386.52 89.28 L387 88.5 L387.27 88.1 L387.33 88.06 L387.31 88.19 L387.33 88.33 L387.52 88.33 L388 88 L388.78 87.35 L389.78 86.52 L390.94 85.53 L392.22 84.43 L393.59 83.24 L395 82 L396.49 80.69 L398.11 79.26 L399.81 77.75 L401.56 76.19 L403.3 74.59 L405 73 L406.67 71.39 L408.33 69.74 L410 68.06 L411.67 66.37 L413.33 64.68 L415 63 L416.7 61.31 L418.44 59.59 L420.19 57.88 L421.89 56.19 L423.51 54.55 L425 53 L426.36 51.56 L427.63 50.22 L428.81 48.94 L429.93 47.67 L430.98 46.37 L432 45 L432.96 43.57 L433.85 42.11 L434.69 40.62 L435.48 39.11 L436.25 37.57 L437 36 L437.74 34.37 L438.46 32.69 L439.15 30.97 L439.81 29.27 L440.43 27.6 L441 26 L441.54 24.39 L442.07 22.71 L442.55 21.07 L442.98 19.58 L443.33 18.32 L443.6 17.4" fill="none" stroke="#ff8a12" stroke-width="1.3" stroke-linejoin="round" stroke-linecap="butt" />
<path d="M477.2 18.2H494.5" stroke="#333" stroke-width="1.2"/>
<text transform="translate(497.3 20.8) scale(1.08 1)" font-size="6.9" font-weight="bold" text-anchor="start" fill="#0a0a0a" font-family='"Liberation Sans", Arial, sans-serif'  stroke="#0a0a0a" stroke-width="0.28">1 st</text>
<path d="M477.2 27.8H494.5" stroke="#f0202a" stroke-width="1.4"/>
<text transform="translate(497.3 30.4) scale(1.08 1)" font-size="6.9" font-weight="bold" text-anchor="start" fill="#0a0a0a" font-family='"Liberation Sans", Arial, sans-serif'  stroke="#0a0a0a" stroke-width="0.28">2 nd</text>
<path d="M477.2 37.7H494.5" stroke="#2a32f0" stroke-width="1.2"/>
<text transform="translate(497.3 40.3) scale(1.08 1)" font-size="6.9" font-weight="bold" text-anchor="start" fill="#0a0a0a" font-family='"Liberation Sans", Arial, sans-serif'  stroke="#0a0a0a" stroke-width="0.28">10 th</text>
<path d="M477.2 47.5H494.5" stroke="#f218e8" stroke-width="1.2"/>
<text transform="translate(497.3 50.1) scale(1.08 1)" font-size="6.9" font-weight="bold" text-anchor="start" fill="#0a0a0a" font-family='"Liberation Sans", Arial, sans-serif'  stroke="#0a0a0a" stroke-width="0.28">20 th</text>
<path d="M477.2 57.2H494.5" stroke="#ff8a12" stroke-width="1.2"/>
<text transform="translate(497.3 59.8) scale(1.08 1)" font-size="6.9" font-weight="bold" text-anchor="start" fill="#0a0a0a" font-family='"Liberation Sans", Arial, sans-serif'  stroke="#0a0a0a" stroke-width="0.28">50 th</text>
</g>
<g id="panel-c">
<g fill="#111111"><rect x="38.4" y="308.1" width="2.7" height="2.7"/><rect x="39.4" y="308.4" width="2.7" height="2.7"/><rect x="40.4" y="308.6" width="2.7" height="2.7"/><rect x="41.4" y="309.4" width="2.7" height="2.7"/><rect x="42.4" y="310" width="2.7" height="2.7"/><rect x="43.4" y="310.6" width="2.7" height="2.7"/><rect x="44.4" y="311.3" width="2.7" height="2.7"/><rect x="45.3" y="311.8" width="2.7" height="2.7"/><rect x="46.3" y="312.4" width="2.7" height="2.7"/><rect x="47.3" y="312.9" width="2.7" height="2.7"/><rect x="48.3" y="313.3" width="2.7" height="2.7"/><rect x="49.3" y="313.7" width="2.7" height="2.7"/><rect x="50.3" y="314" width="2.7" height="2.7"/><rect x="51.3" y="314.2" width="2.7" height="2.7"/><rect x="52.3" y="314.6" width="2.7" height="2.7"/><rect x="53.3" y="314.9" width="2.7" height="2.7"/><rect x="54.2" y="315.1" width="2.7" height="2.7"/><rect x="55.2" y="315.2" width="2.7" height="2.7"/><rect x="56.2" y="315.5" width="2.7" height="2.7"/><rect x="57.2" y="315.8" width="2.7" height="2.7"/><rect x="58.2" y="315.9" width="2.7" height="2.7"/><rect x="59.2" y="316.3" width="2.7" height="2.7"/><rect x="60.2" y="316.4" width="2.7" height="2.7"/><rect x="61.2" y="316.7" width="2.7" height="2.7"/><rect x="62.2" y="317" width="2.7" height="2.7"/><rect x="63.1" y="317.3" width="2.7" height="2.7"/><rect x="64.1" y="317.5" width="2.7" height="2.7"/><rect x="65.1" y="317.6" width="2.7" height="2.7"/><rect x="66.1" y="317.9" width="2.7" height="2.7"/><rect x="67.1" y="318.1" width="2.7" height="2.7"/><rect x="68.1" y="318.2" width="2.7" height="2.7"/><rect x="69.1" y="318.4" width="2.7" height="2.7"/><rect x="70.1" y="318.5" width="2.7" height="2.7"/><rect x="71" y="318.8" width="2.7" height="2.7"/><rect x="72" y="319.1" width="2.7" height="2.7"/><rect x="73" y="319.3" width="2.7" height="2.7"/><rect x="74" y="319.3" width="2.7" height="2.7"/><rect x="75" y="319.5" width="2.7" height="2.7"/><rect x="76" y="319.7" width="2.7" height="2.7"/><rect x="77" y="319.8" width="2.7" height="2.7"/><rect x="78" y="319.9" width="2.7" height="2.7"/><rect x="79" y="320" width="2.7" height="2.7"/><rect x="79.9" y="320.1" width="2.7" height="2.7"/><rect x="80.9" y="320.1" width="2.7" height="2.7"/><rect x="81.9" y="320.3" width="2.7" height="2.7"/><rect x="82.9" y="320.4" width="2.7" height="2.7"/><rect x="83.9" y="320.5" width="2.7" height="2.7"/><rect x="84.9" y="320.6" width="2.7" height="2.7"/><rect x="85.9" y="320.6" width="2.7" height="2.7"/><rect x="86.9" y="320.9" width="2.7" height="2.7"/><rect x="87.9" y="320.9" width="2.7" height="2.7"/><rect x="88.8" y="321.1" width="2.7" height="2.7"/><rect x="89.8" y="321.3" width="2.7" height="2.7"/><rect x="90.8" y="321.3" width="2.7" height="2.7"/><rect x="91.8" y="321.6" width="2.7" height="2.7"/><rect x="92.8" y="321.7" width="2.7" height="2.7"/><rect x="93.8" y="321.9" width="2.7" height="2.7"/><rect x="94.8" y="321.9" width="2.7" height="2.7"/><rect x="95.8" y="321.9" width="2.7" height="2.7"/><rect x="96.8" y="321.9" width="2.7" height="2.7"/><rect x="97.7" y="321.9" width="2.7" height="2.7"/><rect x="98.7" y="322" width="2.7" height="2.7"/><rect x="99.7" y="322" width="2.7" height="2.7"/><rect x="100.7" y="322.1" width="2.7" height="2.7"/><rect x="101.7" y="322.2" width="2.7" height="2.7"/><rect x="102.7" y="322.3" width="2.7" height="2.7"/><rect x="103.7" y="322.3" width="2.7" height="2.7"/><rect x="104.7" y="322.2" width="2.7" height="2.7"/><rect x="105.6" y="322.4" width="2.7" height="2.7"/><rect x="106.6" y="322.4" width="2.7" height="2.7"/><rect x="107.6" y="322.7" width="2.7" height="2.7"/><rect x="108.6" y="322.7" width="2.7" height="2.7"/><rect x="109.6" y="322.7" width="2.7" height="2.7"/><rect x="110.6" y="322.6" width="2.7" height="2.7"/><rect x="111.6" y="322.7" width="2.7" height="2.7"/><rect x="112.6" y="322.8" width="2.7" height="2.7"/><rect x="113.6" y="323" width="2.7" height="2.7"/><rect x="114.5" y="323" width="2.7" height="2.7"/><rect x="115.5" y="323.2" width="2.7" height="2.7"/><rect x="116.5" y="323.3" width="2.7" height="2.7"/><rect x="117.5" y="323.4" width="2.7" height="2.7"/><rect x="118.5" y="323.5" width="2.7" height="2.7"/><rect x="119.5" y="323.7" width="2.7" height="2.7"/><rect x="120.5" y="323.5" width="2.7" height="2.7"/><rect x="121.5" y="323.7" width="2.7" height="2.7"/><rect x="122.5" y="323.7" width="2.7" height="2.7"/><rect x="123.4" y="323.8" width="2.7" height="2.7"/><rect x="124.4" y="323.7" width="2.7" height="2.7"/><rect x="125.4" y="323.8" width="2.7" height="2.7"/><rect x="126.4" y="323.9" width="2.7" height="2.7"/><rect x="127.4" y="323.9" width="2.7" height="2.7"/><rect x="128.4" y="323.8" width="2.7" height="2.7"/><rect x="129.4" y="323.8" width="2.7" height="2.7"/><rect x="130.4" y="323.8" width="2.7" height="2.7"/><rect x="131.3" y="323.9" width="2.7" height="2.7"/><rect x="132.3" y="324" width="2.7" height="2.7"/><rect x="133.3" y="324.1" width="2.7" height="2.7"/><rect x="134.3" y="324.1" width="2.7" height="2.7"/><rect x="135.3" y="324" width="2.7" height="2.7"/><rect x="136.3" y="324.2" width="2.7" height="2.7"/><rect x="137.3" y="324.4" width="2.7" height="2.7"/><rect x="138.3" y="324.5" width="2.7" height="2.7"/><rect x="139.3" y="324.6" width="2.7" height="2.7"/><rect x="140.2" y="324.6" width="2.7" height="2.7"/><rect x="141.2" y="324.6" width="2.7" height="2.7"/><rect x="142.2" y="324.7" width="2.7" height="2.7"/><rect x="143.2" y="324.9" width="2.7" height="2.7"/><rect x="144.2" y="324.9" width="2.7" height="2.7"/><rect x="145.2" y="324.9" width="2.7" height="2.7"/><rect x="146.2" y="324.9" width="2.7" height="2.7"/><rect x="147.2" y="324.8" width="2.7" height="2.7"/><rect x="148.2" y="324.8" width="2.7" height="2.7"/><rect x="149.1" y="324.8" width="2.7" height="2.7"/><rect x="150.1" y="324.9" width="2.7" height="2.7"/><rect x="151.1" y="324.9" width="2.7" height="2.7"/><rect x="152.1" y="325.1" width="2.7" height="2.7"/><rect x="153.1" y="325" width="2.7" height="2.7"/><rect x="154.1" y="325" width="2.7" height="2.7"/><rect x="155.1" y="325" width="2.7" height="2.7"/><rect x="156.1" y="325" width="2.7" height="2.7"/><rect x="157" y="325.2" width="2.7" height="2.7"/><rect x="158" y="325.3" width="2.7" height="2.7"/><rect x="159" y="325.5" width="2.7" height="2.7"/><rect x="160" y="325.5" width="2.7" height="2.7"/><rect x="161" y="325.6" width="2.7" height="2.7"/><rect x="162" y="325.8" width="2.7" height="2.7"/><rect x="163" y="325.8" width="2.7" height="2.7"/><rect x="164" y="325.9" width="2.7" height="2.7"/><rect x="165" y="325.9" width="2.7" height="2.7"/><rect x="165.9" y="326" width="2.7" height="2.7"/><rect x="166.9" y="326.2" width="2.7" height="2.7"/><rect x="167.9" y="326.2" width="2.7" height="2.7"/><rect x="168.9" y="326.3" width="2.7" height="2.7"/><rect x="169.9" y="326.2" width="2.7" height="2.7"/><rect x="170.9" y="326.3" width="2.7" height="2.7"/><rect x="171.9" y="326.2" width="2.7" height="2.7"/><rect x="172.9" y="326.2" width="2.7" height="2.7"/><rect x="173.9" y="326.3" width="2.7" height="2.7"/><rect x="174.8" y="326.4" width="2.7" height="2.7"/><rect x="175.8" y="326.4" width="2.7" height="2.7"/><rect x="176.8" y="326.4" width="2.7" height="2.7"/><rect x="177.8" y="326.5" width="2.7" height="2.7"/><rect x="178.8" y="326.4" width="2.7" height="2.7"/><rect x="179.8" y="326.3" width="2.7" height="2.7"/><rect x="180.8" y="326.4" width="2.7" height="2.7"/><rect x="181.8" y="326.5" width="2.7" height="2.7"/><rect x="182.7" y="326.7" width="2.7" height="2.7"/><rect x="183.7" y="326.8" width="2.7" height="2.7"/><rect x="184.7" y="326.8" width="2.7" height="2.7"/><rect x="185.7" y="326.9" width="2.7" height="2.7"/><rect x="186.7" y="326.8" width="2.7" height="2.7"/><rect x="187.7" y="326.9" width="2.7" height="2.7"/><rect x="188.7" y="327.1" width="2.7" height="2.7"/><rect x="189.7" y="326.9" width="2.7" height="2.7"/><rect x="190.7" y="327" width="2.7" height="2.7"/><rect x="191.6" y="327.1" width="2.7" height="2.7"/><rect x="192.6" y="327.1" width="2.7" height="2.7"/><rect x="193.6" y="327.3" width="2.7" height="2.7"/><rect x="194.6" y="327.3" width="2.7" height="2.7"/><rect x="195.6" y="327.1" width="2.7" height="2.7"/><rect x="196.6" y="327.1" width="2.7" height="2.7"/><rect x="197.6" y="327.1" width="2.7" height="2.7"/><rect x="198.6" y="327.3" width="2.7" height="2.7"/><rect x="199.6" y="327.4" width="2.7" height="2.7"/><rect x="200.5" y="327.6" width="2.7" height="2.7"/><rect x="201.5" y="327.5" width="2.7" height="2.7"/><rect x="202.5" y="327.6" width="2.7" height="2.7"/><rect x="203.5" y="327.6" width="2.7" height="2.7"/><rect x="204.5" y="327.7" width="2.7" height="2.7"/><rect x="205.5" y="327.8" width="2.7" height="2.7"/><rect x="206.5" y="327.8" width="2.7" height="2.7"/><rect x="207.5" y="327.7" width="2.7" height="2.7"/><rect x="208.5" y="327.7" width="2.7" height="2.7"/><rect x="209.4" y="327.8" width="2.7" height="2.7"/><rect x="210.4" y="327.8" width="2.7" height="2.7"/><rect x="211.4" y="327.9" width="2.7" height="2.7"/><rect x="212.4" y="328.1" width="2.7" height="2.7"/><rect x="213.4" y="328.1" width="2.7" height="2.7"/><rect x="214.4" y="328.3" width="2.7" height="2.7"/><rect x="215.4" y="328.5" width="2.7" height="2.7"/><rect x="216.4" y="328.6" width="2.7" height="2.7"/><rect x="217.3" y="328.7" width="2.7" height="2.7"/><rect x="218.3" y="328.8" width="2.7" height="2.7"/><rect x="219.3" y="328.7" width="2.7" height="2.7"/><rect x="220.3" y="328.6" width="2.7" height="2.7"/><rect x="221.3" y="328.7" width="2.7" height="2.7"/><rect x="222.3" y="328.6" width="2.7" height="2.7"/><rect x="223.3" y="328.6" width="2.7" height="2.7"/><rect x="224.3" y="328.6" width="2.7" height="2.7"/><rect x="225.3" y="328.8" width="2.7" height="2.7"/><rect x="226.2" y="329" width="2.7" height="2.7"/><rect x="227.2" y="329.1" width="2.7" height="2.7"/><rect x="228.2" y="329.3" width="2.7" height="2.7"/><rect x="229.2" y="329.4" width="2.7" height="2.7"/><rect x="230.2" y="329.4" width="2.7" height="2.7"/><rect x="231.2" y="329.3" width="2.7" height="2.7"/><rect x="232.2" y="329.3" width="2.7" height="2.7"/><rect x="233.2" y="329.4" width="2.7" height="2.7"/><rect x="234.2" y="329.4" width="2.7" height="2.7"/><rect x="235.1" y="329.4" width="2.7" height="2.7"/></g>
<g fill="#f01820"><circle cx="39.8" cy="308.7" r="2"/><circle cx="40.8" cy="309" r="2"/><circle cx="41.8" cy="309.1" r="2"/><circle cx="42.8" cy="309.7" r="2"/><circle cx="43.7" cy="310.3" r="2"/><circle cx="44.7" cy="311" r="2"/><circle cx="45.7" cy="311.7" r="2"/><circle cx="46.7" cy="312.2" r="2"/><circle cx="47.7" cy="312.8" r="2"/><circle cx="48.7" cy="313.2" r="2"/><circle cx="49.7" cy="313.5" r="2"/><circle cx="50.7" cy="313.9" r="2"/><circle cx="51.7" cy="314.4" r="2"/><circle cx="52.6" cy="314.6" r="2"/><circle cx="53.6" cy="314.9" r="2"/><circle cx="54.6" cy="315.3" r="2"/><circle cx="55.6" cy="315.7" r="2"/><circle cx="56.6" cy="316.1" r="2"/><circle cx="57.6" cy="316.2" r="2"/><circle cx="58.6" cy="316.4" r="2"/><circle cx="59.6" cy="316.7" r="2"/><circle cx="60.5" cy="316.8" r="2"/><circle cx="61.5" cy="316.9" r="2"/><circle cx="62.5" cy="317.2" r="2"/><circle cx="63.5" cy="317.5" r="2"/><circle cx="64.5" cy="317.7" r="2"/><circle cx="65.5" cy="318" r="2"/><circle cx="66.5" cy="318.4" r="2"/><circle cx="67.5" cy="318.4" r="2"/><circle cx="68.5" cy="318.6" r="2"/><circle cx="69.4" cy="318.8" r="2"/><circle cx="70.4" cy="318.8" r="2"/><circle cx="71.4" cy="319.1" r="2"/><circle cx="72.4" cy="319.1" r="2"/><circle cx="73.4" cy="319.3" r="2"/><circle cx="74.4" cy="319.6" r="2"/><circle cx="75.4" cy="319.8" r="2"/><circle cx="76.4" cy="320.1" r="2"/><circle cx="77.4" cy="320.3" r="2"/><circle cx="78.3" cy="320.4" r="2"/><circle cx="79.3" cy="320.6" r="2"/><circle cx="80.3" cy="320.7" r="2"/><circle cx="81.3" cy="320.9" r="2"/><circle cx="82.3" cy="320.8" r="2"/><circle cx="83.3" cy="321" r="2"/><circle cx="84.3" cy="321.1" r="2"/><circle cx="85.3" cy="321.2" r="2"/><circle cx="86.2" cy="321.2" r="2"/><circle cx="87.2" cy="321.4" r="2"/><circle cx="88.2" cy="321.4" r="2"/><circle cx="89.2" cy="321.6" r="2"/><circle cx="90.2" cy="321.7" r="2"/><circle cx="91.2" cy="321.8" r="2"/><circle cx="92.2" cy="322.1" r="2"/><circle cx="93.2" cy="322.2" r="2"/><circle cx="94.2" cy="322.4" r="2"/><circle cx="95.1" cy="322.6" r="2"/><circle cx="96.1" cy="322.5" r="2"/><circle cx="97.1" cy="322.7" r="2"/><circle cx="98.1" cy="322.7" r="2"/><circle cx="99.1" cy="322.7" r="2"/><circle cx="100.1" cy="322.7" r="2"/><circle cx="101.1" cy="322.8" r="2"/><circle cx="102.1" cy="322.9" r="2"/><circle cx="103.1" cy="322.9" r="2"/><circle cx="104" cy="322.9" r="2"/><circle cx="105" cy="323.1" r="2"/><circle cx="106" cy="323.1" r="2"/><circle cx="107" cy="323.2" r="2"/><circle cx="108" cy="323.3" r="2"/><circle cx="109" cy="323.3" r="2"/><circle cx="110" cy="323.3" r="2"/><circle cx="111" cy="323.4" r="2"/><circle cx="111.9" cy="323.4" r="2"/><circle cx="112.9" cy="323.3" r="2"/><circle cx="113.9" cy="323.5" r="2"/><circle cx="114.9" cy="323.5" r="2"/><circle cx="115.9" cy="323.6" r="2"/><circle cx="116.9" cy="323.7" r="2"/><circle cx="117.9" cy="323.7" r="2"/><circle cx="118.9" cy="323.8" r="2"/><circle cx="119.9" cy="323.9" r="2"/><circle cx="120.8" cy="324" r="2"/><circle cx="121.8" cy="323.9" r="2"/><circle cx="122.8" cy="323.9" r="2"/><circle cx="123.8" cy="323.9" r="2"/><circle cx="124.8" cy="323.9" r="2"/><circle cx="125.8" cy="324.1" r="2"/><circle cx="126.8" cy="324.2" r="2"/><circle cx="127.8" cy="324.2" r="2"/><circle cx="128.8" cy="324.2" r="2"/><circle cx="129.7" cy="324.4" r="2"/><circle cx="130.7" cy="324.6" r="2"/><circle cx="131.7" cy="324.7" r="2"/><circle cx="132.7" cy="324.8" r="2"/><circle cx="133.7" cy="324.9" r="2"/><circle cx="134.7" cy="325" r="2"/><circle cx="135.7" cy="325" r="2"/><circle cx="136.7" cy="324.9" r="2"/><circle cx="137.7" cy="324.8" r="2"/><circle cx="138.6" cy="325" r="2"/><circle cx="139.6" cy="325" r="2"/><circle cx="140.6" cy="325" r="2"/><circle cx="141.6" cy="325.2" r="2"/><circle cx="142.6" cy="325.1" r="2"/><circle cx="143.6" cy="325" r="2"/><circle cx="144.6" cy="325.2" r="2"/><circle cx="145.6" cy="325.1" r="2"/><circle cx="146.5" cy="325.3" r="2"/><circle cx="147.5" cy="325.3" r="2"/><circle cx="148.5" cy="325.3" r="2"/><circle cx="149.5" cy="325.3" r="2"/><circle cx="150.5" cy="325.5" r="2"/><circle cx="151.5" cy="325.6" r="2"/><circle cx="152.5" cy="325.6" r="2"/><circle cx="153.5" cy="325.7" r="2"/><circle cx="154.5" cy="325.9" r="2"/><circle cx="155.4" cy="325.9" r="2"/><circle cx="156.4" cy="325.9" r="2"/><circle cx="157.4" cy="326.1" r="2"/><circle cx="158.4" cy="326" r="2"/><circle cx="159.4" cy="326.1" r="2"/><circle cx="160.4" cy="326.2" r="2"/><circle cx="161.4" cy="326.3" r="2"/><circle cx="162.4" cy="326.2" r="2"/><circle cx="163.4" cy="326.3" r="2"/><circle cx="164.3" cy="326.4" r="2"/><circle cx="165.3" cy="326.3" r="2"/><circle cx="166.3" cy="326.2" r="2"/><circle cx="167.3" cy="326.2" r="2"/><circle cx="168.3" cy="326.4" r="2"/><circle cx="169.3" cy="326.5" r="2"/><circle cx="170.3" cy="326.7" r="2"/><circle cx="171.3" cy="326.6" r="2"/><circle cx="172.2" cy="326.7" r="2"/><circle cx="173.2" cy="326.8" r="2"/><circle cx="174.2" cy="326.9" r="2"/><circle cx="175.2" cy="326.8" r="2"/><circle cx="176.2" cy="326.7" r="2"/><circle cx="177.2" cy="326.9" r="2"/><circle cx="178.2" cy="327" r="2"/><circle cx="179.2" cy="326.9" r="2"/><circle cx="180.2" cy="326.9" r="2"/><circle cx="181.1" cy="327" r="2"/><circle cx="182.1" cy="327.1" r="2"/><circle cx="183.1" cy="327.3" r="2"/><circle cx="184.1" cy="327.3" r="2"/><circle cx="185.1" cy="327.3" r="2"/><circle cx="186.1" cy="327.5" r="2"/><circle cx="187.1" cy="327.3" r="2"/><circle cx="188.1" cy="327.3" r="2"/><circle cx="189.1" cy="327.3" r="2"/><circle cx="190" cy="327.5" r="2"/><circle cx="191" cy="327.5" r="2"/><circle cx="192" cy="327.7" r="2"/><circle cx="193" cy="327.6" r="2"/><circle cx="194" cy="327.7" r="2"/><circle cx="195" cy="327.8" r="2"/><circle cx="196" cy="327.8" r="2"/><circle cx="197" cy="327.7" r="2"/><circle cx="197.9" cy="327.9" r="2"/><circle cx="198.9" cy="328" r="2"/><circle cx="199.9" cy="328.1" r="2"/><circle cx="200.9" cy="328.2" r="2"/><circle cx="201.9" cy="328.3" r="2"/><circle cx="202.9" cy="328.4" r="2"/><circle cx="203.9" cy="328.5" r="2"/><circle cx="204.9" cy="328.6" r="2"/><circle cx="205.9" cy="328.6" r="2"/><circle cx="206.8" cy="328.7" r="2"/><circle cx="207.8" cy="328.6" r="2"/><circle cx="208.8" cy="328.7" r="2"/><circle cx="209.8" cy="328.7" r="2"/><circle cx="210.8" cy="328.8" r="2"/><circle cx="211.8" cy="328.9" r="2"/><circle cx="212.8" cy="329" r="2"/><circle cx="213.8" cy="329.1" r="2"/><circle cx="214.8" cy="329.2" r="2"/><circle cx="215.7" cy="329.1" r="2"/><circle cx="216.7" cy="329.1" r="2"/><circle cx="217.7" cy="329.2" r="2"/><circle cx="218.7" cy="329.2" r="2"/><circle cx="219.7" cy="329.1" r="2"/><circle cx="220.7" cy="329.3" r="2"/><circle cx="221.7" cy="329.2" r="2"/><circle cx="222.7" cy="329.3" r="2"/><circle cx="223.6" cy="329.4" r="2"/><circle cx="224.6" cy="329.4" r="2"/><circle cx="225.6" cy="329.5" r="2"/><circle cx="226.6" cy="329.6" r="2"/><circle cx="227.6" cy="329.6" r="2"/><circle cx="228.6" cy="329.5" r="2"/><circle cx="229.6" cy="329.7" r="2"/><circle cx="230.6" cy="329.7" r="2"/><circle cx="231.6" cy="329.7" r="2"/><circle cx="232.5" cy="329.8" r="2"/><circle cx="233.5" cy="330" r="2"/><circle cx="234.5" cy="330.1" r="2"/><circle cx="235.5" cy="330.3" r="2"/><circle cx="236.5" cy="330.4" r="2"/></g>
<g fill="#1a28f0"><polygon points="39.8,315 37.9,318.3 41.7,318.3"/><polygon points="40.8,314.8 38.9,318.1 42.6,318.1"/><polygon points="41.8,314.5 39.9,317.8 43.6,317.8"/><polygon points="42.8,314.2 40.9,317.5 44.6,317.5"/><polygon points="43.7,314.1 41.9,317.4 45.6,317.4"/><polygon points="44.7,313.8 42.9,317.2 46.6,317.2"/><polygon points="45.7,314.1 43.8,317.4 47.6,317.4"/><polygon points="46.7,314.5 44.8,317.8 48.6,317.8"/><polygon points="47.7,314.9 45.8,318.2 49.6,318.2"/><polygon points="48.7,315.3 46.8,318.6 50.6,318.6"/><polygon points="49.7,315.6 47.8,318.9 51.5,318.9"/><polygon points="50.7,315.8 48.8,319.1 52.5,319.1"/><polygon points="51.7,316.1 49.8,319.4 53.5,319.4"/><polygon points="52.6,316.3 50.8,319.6 54.5,319.6"/><polygon points="53.6,316.5 51.8,319.8 55.5,319.8"/><polygon points="54.6,316.6 52.7,319.9 56.5,319.9"/><polygon points="55.6,316.6 53.7,320 57.5,320"/><polygon points="56.6,316.8 54.7,320.2 58.5,320.2"/><polygon points="57.6,317.1 55.7,320.4 59.5,320.4"/><polygon points="58.6,317.2 56.7,320.5 60.4,320.5"/><polygon points="59.6,317.4 57.7,320.7 61.4,320.7"/><polygon points="60.5,317.5 58.7,320.9 62.4,320.9"/><polygon points="61.5,317.8 59.7,321.1 63.4,321.1"/><polygon points="62.5,317.9 60.7,321.2 64.4,321.2"/><polygon points="63.5,318 61.6,321.3 65.4,321.3"/><polygon points="64.5,318.1 62.6,321.4 66.4,321.4"/><polygon points="65.5,318.2 63.6,321.6 67.4,321.6"/><polygon points="66.5,318.3 64.6,321.7 68.3,321.7"/><polygon points="67.5,318.5 65.6,321.9 69.3,321.9"/><polygon points="68.5,318.7 66.6,322 70.3,322"/><polygon points="69.4,318.8 67.6,322.2 71.3,322.2"/><polygon points="70.4,318.9 68.6,322.2 72.3,322.2"/><polygon points="71.4,319.1 69.6,322.4 73.3,322.4"/><polygon points="72.4,319.2 70.5,322.5 74.3,322.5"/><polygon points="73.4,319.2 71.5,322.5 75.3,322.5"/><polygon points="74.4,319.3 72.5,322.6 76.3,322.6"/><polygon points="75.4,319.3 73.5,322.6 77.2,322.6"/><polygon points="76.4,319.3 74.5,322.6 78.2,322.6"/><polygon points="77.4,319.2 75.5,322.6 79.2,322.6"/><polygon points="78.3,319.3 76.5,322.6 80.2,322.6"/><polygon points="79.3,319.3 77.5,322.6 81.2,322.6"/><polygon points="80.3,319.3 78.4,322.6 82.2,322.6"/><polygon points="81.3,319.4 79.4,322.7 83.2,322.7"/><polygon points="82.3,319.5 80.4,322.8 84.2,322.8"/><polygon points="83.3,319.5 81.4,322.8 85.2,322.8"/><polygon points="84.3,319.6 82.4,323 86.1,323"/><polygon points="85.3,319.7 83.4,323 87.1,323"/><polygon points="86.2,319.7 84.4,323 88.1,323"/><polygon points="87.2,319.9 85.4,323.2 89.1,323.2"/><polygon points="88.2,319.9 86.4,323.2 90.1,323.2"/><polygon points="89.2,319.8 87.3,323.2 91.1,323.2"/><polygon points="90.2,319.9 88.3,323.2 92.1,323.2"/><polygon points="91.2,319.9 89.3,323.3 93.1,323.3"/><polygon points="92.2,320 90.3,323.3 94,323.3"/><polygon points="93.2,320.2 91.3,323.5 95,323.5"/><polygon points="94.2,320.2 92.3,323.5 96,323.5"/><polygon points="95.1,320.3 93.3,323.6 97,323.6"/><polygon points="96.1,320.3 94.3,323.6 98,323.6"/><polygon points="97.1,320.3 95.3,323.6 99,323.6"/><polygon points="98.1,320.3 96.2,323.6 100,323.6"/><polygon points="99.1,320.3 97.2,323.7 101,323.7"/><polygon points="100.1,320.3 98.2,323.7 102,323.7"/><polygon points="101.1,320.4 99.2,323.7 102.9,323.7"/><polygon points="102.1,320.4 100.2,323.8 103.9,323.8"/><polygon points="103.1,320.6 101.2,323.9 104.9,323.9"/><polygon points="104,320.8 102.2,324.1 105.9,324.1"/><polygon points="105,320.9 103.2,324.2 106.9,324.2"/><polygon points="106,320.9 104.1,324.2 107.9,324.2"/><polygon points="107,321 105.1,324.3 108.9,324.3"/><polygon points="108,320.9 106.1,324.2 109.9,324.2"/><polygon points="109,320.9 107.1,324.2 110.9,324.2"/><polygon points="110,320.9 108.1,324.2 111.8,324.2"/><polygon points="111,321 109.1,324.3 112.8,324.3"/><polygon points="111.9,321 110.1,324.3 113.8,324.3"/><polygon points="112.9,321 111.1,324.3 114.8,324.3"/><polygon points="113.9,321.2 112.1,324.5 115.8,324.5"/><polygon points="114.9,321.1 113,324.5 116.8,324.5"/><polygon points="115.9,321.1 114,324.5 117.8,324.5"/><polygon points="116.9,321.2 115,324.5 118.8,324.5"/><polygon points="117.9,321.2 116,324.6 119.8,324.6"/><polygon points="118.9,321.3 117,324.6 120.7,324.6"/><polygon points="119.9,321.4 118,324.7 121.7,324.7"/><polygon points="120.8,321.4 119,324.7 122.7,324.7"/><polygon points="121.8,321.5 120,324.8 123.7,324.8"/><polygon points="122.8,321.6 121,324.9 124.7,324.9"/><polygon points="123.8,321.7 121.9,325 125.7,325"/><polygon points="124.8,321.6 122.9,324.9 126.7,324.9"/><polygon points="125.8,321.7 123.9,325 127.7,325"/><polygon points="126.8,321.7 124.9,325 128.6,325"/><polygon points="127.8,321.6 125.9,324.9 129.6,324.9"/><polygon points="128.8,321.7 126.9,325 130.6,325"/><polygon points="129.7,321.8 127.9,325.1 131.6,325.1"/><polygon points="130.7,321.8 128.9,325.1 132.6,325.1"/><polygon points="131.7,321.8 129.8,325.1 133.6,325.1"/><polygon points="132.7,321.8 130.8,325.1 134.6,325.1"/><polygon points="133.7,321.9 131.8,325.2 135.6,325.2"/><polygon points="134.7,321.9 132.8,325.2 136.6,325.2"/><polygon points="135.7,322.1 133.8,325.4 137.5,325.4"/><polygon points="136.7,322.2 134.8,325.5 138.5,325.5"/><polygon points="137.7,322.2 135.8,325.6 139.5,325.6"/><polygon points="138.6,322.2 136.8,325.5 140.5,325.5"/><polygon points="139.6,322.3 137.8,325.6 141.5,325.6"/><polygon points="140.6,322.3 138.7,325.6 142.5,325.6"/><polygon points="141.6,322.4 139.7,325.7 143.5,325.7"/><polygon points="142.6,322.5 140.7,325.9 144.5,325.9"/><polygon points="143.6,322.6 141.7,325.9 145.5,325.9"/><polygon points="144.6,322.5 142.7,325.8 146.4,325.8"/><polygon points="145.6,322.5 143.7,325.8 147.4,325.8"/><polygon points="146.5,322.5 144.7,325.8 148.4,325.8"/><polygon points="147.5,322.6 145.7,325.9 149.4,325.9"/><polygon points="148.5,322.6 146.7,325.9 150.4,325.9"/><polygon points="149.5,322.7 147.6,326 151.4,326"/><polygon points="150.5,322.7 148.6,326 152.4,326"/><polygon points="151.5,322.8 149.6,326.2 153.4,326.2"/><polygon points="152.5,322.8 150.6,326.1 154.3,326.1"/><polygon points="153.5,322.9 151.6,326.2 155.3,326.2"/><polygon points="154.5,322.8 152.6,326.1 156.3,326.1"/><polygon points="155.4,322.8 153.6,326.1 157.3,326.1"/><polygon points="156.4,323 154.6,326.3 158.3,326.3"/><polygon points="157.4,323 155.6,326.3 159.3,326.3"/><polygon points="158.4,323 156.5,326.3 160.3,326.3"/><polygon points="159.4,323 157.5,326.3 161.3,326.3"/><polygon points="160.4,323.1 158.5,326.4 162.3,326.4"/><polygon points="161.4,323.2 159.5,326.5 163.2,326.5"/><polygon points="162.4,323.3 160.5,326.6 164.2,326.6"/><polygon points="163.4,323.2 161.5,326.5 165.2,326.5"/><polygon points="164.3,323.3 162.5,326.7 166.2,326.7"/><polygon points="165.3,323.4 163.5,326.7 167.2,326.7"/><polygon points="166.3,323.5 164.4,326.8 168.2,326.8"/><polygon points="167.3,323.5 165.4,326.8 169.2,326.8"/><polygon points="168.3,323.4 166.4,326.7 170.2,326.7"/><polygon points="169.3,323.6 167.4,326.9 171.2,326.9"/><polygon points="170.3,323.5 168.4,326.8 172.1,326.8"/><polygon points="171.3,323.6 169.4,326.9 173.1,326.9"/><polygon points="172.2,323.5 170.4,326.8 174.1,326.8"/><polygon points="173.2,323.5 171.4,326.9 175.1,326.9"/><polygon points="174.2,323.7 172.4,327 176.1,327"/><polygon points="175.2,323.6 173.3,327 177.1,327"/><polygon points="176.2,323.7 174.3,327 178.1,327"/><polygon points="177.2,323.9 175.3,327.2 179.1,327.2"/><polygon points="178.2,324 176.3,327.3 180,327.3"/><polygon points="179.2,324 177.3,327.3 181,327.3"/><polygon points="180.2,324 178.3,327.3 182,327.3"/><polygon points="181.1,324.1 179.3,327.4 183,327.4"/><polygon points="182.1,324.2 180.3,327.5 184,327.5"/><polygon points="183.1,324.2 181.3,327.5 185,327.5"/><polygon points="184.1,324.2 182.2,327.5 186,327.5"/><polygon points="185.1,324.1 183.2,327.5 187,327.5"/><polygon points="186.1,324.3 184.2,327.6 188,327.6"/><polygon points="187.1,324.2 185.2,327.5 188.9,327.5"/><polygon points="188.1,324.2 186.2,327.5 189.9,327.5"/><polygon points="189.1,324.3 187.2,327.6 190.9,327.6"/><polygon points="190,324.2 188.2,327.5 191.9,327.5"/><polygon points="191,324.2 189.2,327.6 192.9,327.6"/><polygon points="192,324.2 190.1,327.5 193.9,327.5"/><polygon points="193,324.3 191.1,327.6 194.9,327.6"/><polygon points="194,324.4 192.1,327.7 195.9,327.7"/><polygon points="195,324.5 193.1,327.8 196.9,327.8"/><polygon points="196,324.4 194.1,327.7 197.8,327.7"/><polygon points="197,324.4 195.1,327.8 198.8,327.8"/><polygon points="197.9,324.5 196.1,327.9 199.8,327.9"/><polygon points="198.9,324.6 197.1,327.9 200.8,327.9"/><polygon points="199.9,324.7 198.1,328 201.8,328"/><polygon points="200.9,324.8 199,328.1 202.8,328.1"/><polygon points="201.9,324.9 200,328.2 203.8,328.2"/><polygon points="202.9,324.8 201,328.1 204.8,328.1"/><polygon points="203.9,324.9 202,328.2 205.7,328.2"/><polygon points="204.9,324.8 203,328.1 206.7,328.1"/><polygon points="205.9,324.9 204,328.2 207.7,328.2"/><polygon points="206.8,324.9 205,328.3 208.7,328.3"/><polygon points="207.8,325 206,328.3 209.7,328.3"/><polygon points="208.8,325 207,328.4 210.7,328.4"/><polygon points="209.8,325.1 207.9,328.4 211.7,328.4"/><polygon points="210.8,325 208.9,328.3 212.7,328.3"/><polygon points="211.8,324.9 209.9,328.3 213.7,328.3"/><polygon points="212.8,324.9 210.9,328.2 214.6,328.2"/><polygon points="213.8,325 211.9,328.3 215.6,328.3"/><polygon points="214.8,325 212.9,328.3 216.6,328.3"/><polygon points="215.7,324.9 213.9,328.3 217.6,328.3"/><polygon points="216.7,325 214.9,328.3 218.6,328.3"/><polygon points="217.7,325.1 215.8,328.4 219.6,328.4"/><polygon points="218.7,325.2 216.8,328.6 220.6,328.6"/><polygon points="219.7,325.2 217.8,328.6 221.6,328.6"/><polygon points="220.7,325.3 218.8,328.6 222.6,328.6"/><polygon points="221.7,325.3 219.8,328.6 223.5,328.6"/><polygon points="222.7,325.3 220.8,328.6 224.5,328.6"/><polygon points="223.6,325.4 221.8,328.7 225.5,328.7"/><polygon points="224.6,325.6 222.8,328.9 226.5,328.9"/><polygon points="225.6,325.5 223.8,328.8 227.5,328.8"/><polygon points="226.6,325.6 224.7,328.9 228.5,328.9"/><polygon points="227.6,325.6 225.7,328.9 229.5,328.9"/><polygon points="228.6,325.7 226.7,329 230.5,329"/><polygon points="229.6,325.7 227.7,329 231.5,329"/><polygon points="230.6,325.7 228.7,329 232.4,329"/><polygon points="231.6,325.6 229.7,328.9 233.4,328.9"/><polygon points="232.5,325.7 230.7,329 234.4,329"/><polygon points="233.5,325.7 231.7,329 235.4,329"/><polygon points="234.5,325.8 232.7,329.1 236.4,329.1"/><polygon points="235.5,325.8 233.6,329.1 237.4,329.1"/><polygon points="236.5,325.9 234.6,329.2 238.4,329.2"/></g>
<g fill="#f218e8"><polygon points="39.8,313.8 37.7,310.1 41.9,310.1"/><polygon points="40.8,314.3 38.7,310.6 42.9,310.6"/><polygon points="41.8,315.2 39.7,311.5 43.9,311.5"/><polygon points="42.8,315.7 40.7,312 44.8,312"/><polygon points="43.7,316.3 41.7,312.6 45.8,312.6"/><polygon points="44.7,317.1 42.6,313.4 46.8,313.4"/><polygon points="45.7,317.3 43.6,313.6 47.8,313.6"/><polygon points="46.7,317.6 44.6,313.9 48.8,313.9"/><polygon points="47.7,318.1 45.6,314.4 49.8,314.4"/><polygon points="48.7,318.7 46.6,315 50.8,315"/><polygon points="49.7,319.1 47.6,315.4 51.8,315.4"/><polygon points="50.7,319.5 48.6,315.8 52.8,315.8"/><polygon points="51.7,319.8 49.6,316 53.7,316"/><polygon points="52.6,320.1 50.5,316.4 54.7,316.4"/><polygon points="53.6,320.3 51.5,316.6 55.7,316.6"/><polygon points="54.6,320.5 52.5,316.8 56.7,316.8"/><polygon points="55.6,320.6 53.5,316.9 57.7,316.9"/><polygon points="56.6,320.7 54.5,317 58.7,317"/><polygon points="57.6,320.8 55.5,317.1 59.7,317.1"/><polygon points="58.6,321.1 56.5,317.3 60.7,317.3"/><polygon points="59.6,321.2 57.5,317.5 61.6,317.5"/><polygon points="60.5,321.3 58.5,317.6 62.6,317.6"/><polygon points="61.5,321.5 59.4,317.8 63.6,317.8"/><polygon points="62.5,321.7 60.4,318 64.6,318"/><polygon points="63.5,321.9 61.4,318.2 65.6,318.2"/><polygon points="64.5,322 62.4,318.3 66.6,318.3"/><polygon points="65.5,322 63.4,318.3 67.6,318.3"/><polygon points="66.5,322.2 64.4,318.5 68.6,318.5"/><polygon points="67.5,322.3 65.4,318.6 69.6,318.6"/><polygon points="68.5,322.4 66.4,318.7 70.5,318.7"/><polygon points="69.4,322.4 67.4,318.7 71.5,318.7"/><polygon points="70.4,322.7 68.3,318.9 72.5,318.9"/><polygon points="71.4,322.8 69.3,319.1 73.5,319.1"/><polygon points="72.4,323 70.3,319.3 74.5,319.3"/><polygon points="73.4,323 71.3,319.3 75.5,319.3"/><polygon points="74.4,323.1 72.3,319.4 76.5,319.4"/><polygon points="75.4,323 73.3,319.3 77.5,319.3"/><polygon points="76.4,323 74.3,319.3 78.5,319.3"/><polygon points="77.4,323 75.3,319.3 79.4,319.3"/><polygon points="78.3,323.3 76.2,319.6 80.4,319.6"/><polygon points="79.3,323.5 77.2,319.8 81.4,319.8"/><polygon points="80.3,323.5 78.2,319.8 82.4,319.8"/><polygon points="81.3,323.5 79.2,319.8 83.4,319.8"/><polygon points="82.3,323.6 80.2,319.9 84.4,319.9"/><polygon points="83.3,323.7 81.2,320 85.4,320"/><polygon points="84.3,323.9 82.2,320.2 86.4,320.2"/><polygon points="85.3,324 83.2,320.3 87.3,320.3"/><polygon points="86.2,323.9 84.2,320.2 88.3,320.2"/><polygon points="87.2,323.9 85.1,320.2 89.3,320.2"/><polygon points="88.2,323.9 86.1,320.2 90.3,320.2"/><polygon points="89.2,323.9 87.1,320.2 91.3,320.2"/><polygon points="90.2,324.2 88.1,320.5 92.3,320.5"/><polygon points="91.2,324.4 89.1,320.7 93.3,320.7"/><polygon points="92.2,324.6 90.1,320.9 94.3,320.9"/><polygon points="93.2,324.6 91.1,320.9 95.3,320.9"/><polygon points="94.2,324.6 92.1,320.9 96.2,320.9"/><polygon points="95.1,324.6 93.1,320.9 97.2,320.9"/><polygon points="96.1,324.6 94,320.9 98.2,320.9"/><polygon points="97.1,324.7 95,321 99.2,321"/><polygon points="98.1,324.7 96,321 100.2,321"/><polygon points="99.1,324.8 97,321.1 101.2,321.1"/><polygon points="100.1,324.9 98,321.2 102.2,321.2"/><polygon points="101.1,325.1 99,321.4 103.2,321.4"/><polygon points="102.1,325.1 100,321.4 104.2,321.4"/><polygon points="103.1,325.3 101,321.5 105.1,321.5"/><polygon points="104,325.2 102,321.5 106.1,321.5"/><polygon points="105,325.2 102.9,321.5 107.1,321.5"/><polygon points="106,325.4 103.9,321.7 108.1,321.7"/><polygon points="107,325.5 104.9,321.8 109.1,321.8"/><polygon points="108,325.7 105.9,322 110.1,322"/><polygon points="109,325.6 106.9,321.9 111.1,321.9"/><polygon points="110,325.6 107.9,321.9 112.1,321.9"/><polygon points="111,325.8 108.9,322.1 113.1,322.1"/><polygon points="111.9,326 109.9,322.3 114,322.3"/><polygon points="112.9,326 110.8,322.3 115,322.3"/><polygon points="113.9,326 111.8,322.3 116,322.3"/><polygon points="114.9,326 112.8,322.3 117,322.3"/><polygon points="115.9,326.2 113.8,322.5 118,322.5"/><polygon points="116.9,326.2 114.8,322.5 119,322.5"/><polygon points="117.9,326.3 115.8,322.6 120,322.6"/><polygon points="118.9,326.4 116.8,322.7 121,322.7"/><polygon points="119.9,326.4 117.8,322.7 121.9,322.7"/><polygon points="120.8,326.3 118.8,322.6 122.9,322.6"/><polygon points="121.8,326.3 119.7,322.6 123.9,322.6"/><polygon points="122.8,326.3 120.7,322.6 124.9,322.6"/><polygon points="123.8,326.4 121.7,322.7 125.9,322.7"/><polygon points="124.8,326.5 122.7,322.8 126.9,322.8"/><polygon points="125.8,326.7 123.7,323 127.9,323"/><polygon points="126.8,326.6 124.7,322.9 128.9,322.9"/><polygon points="127.8,326.6 125.7,322.9 129.9,322.9"/><polygon points="128.8,326.7 126.7,323 130.8,323"/><polygon points="129.7,326.9 127.7,323.2 131.8,323.2"/><polygon points="130.7,327 128.6,323.3 132.8,323.3"/><polygon points="131.7,327 129.6,323.2 133.8,323.2"/><polygon points="132.7,327 130.6,323.3 134.8,323.3"/><polygon points="133.7,327.1 131.6,323.4 135.8,323.4"/><polygon points="134.7,327.1 132.6,323.4 136.8,323.4"/><polygon points="135.7,327 133.6,323.3 137.8,323.3"/><polygon points="136.7,327.2 134.6,323.5 138.8,323.5"/><polygon points="137.7,327.4 135.6,323.7 139.7,323.7"/><polygon points="138.6,327.4 136.5,323.7 140.7,323.7"/><polygon points="139.6,327.5 137.5,323.8 141.7,323.8"/><polygon points="140.6,327.4 138.5,323.7 142.7,323.7"/><polygon points="141.6,327.5 139.5,323.8 143.7,323.8"/><polygon points="142.6,327.5 140.5,323.8 144.7,323.8"/><polygon points="143.6,327.4 141.5,323.7 145.7,323.7"/><polygon points="144.6,327.5 142.5,323.8 146.7,323.8"/><polygon points="145.6,327.6 143.5,323.9 147.6,323.9"/><polygon points="146.5,327.5 144.5,323.8 148.6,323.8"/><polygon points="147.5,327.7 145.4,324 149.6,324"/><polygon points="148.5,327.6 146.4,323.9 150.6,323.9"/><polygon points="149.5,327.8 147.4,324.1 151.6,324.1"/><polygon points="150.5,327.9 148.4,324.2 152.6,324.2"/><polygon points="151.5,327.8 149.4,324.1 153.6,324.1"/><polygon points="152.5,327.9 150.4,324.2 154.6,324.2"/><polygon points="153.5,327.8 151.4,324.1 155.6,324.1"/><polygon points="154.5,327.9 152.4,324.2 156.5,324.2"/><polygon points="155.4,328.1 153.4,324.4 157.5,324.4"/><polygon points="156.4,328.2 154.3,324.5 158.5,324.5"/><polygon points="157.4,328.2 155.3,324.5 159.5,324.5"/><polygon points="158.4,328.2 156.3,324.5 160.5,324.5"/><polygon points="159.4,328.1 157.3,324.4 161.5,324.4"/><polygon points="160.4,328.3 158.3,324.6 162.5,324.6"/><polygon points="161.4,328.3 159.3,324.6 163.5,324.6"/><polygon points="162.4,328.5 160.3,324.8 164.5,324.8"/><polygon points="163.4,328.3 161.3,324.6 165.4,324.6"/><polygon points="164.3,328.5 162.2,324.8 166.4,324.8"/><polygon points="165.3,328.7 163.2,324.9 167.4,324.9"/><polygon points="166.3,328.8 164.2,325.1 168.4,325.1"/><polygon points="167.3,328.8 165.2,325.1 169.4,325.1"/><polygon points="168.3,328.6 166.2,324.9 170.4,324.9"/><polygon points="169.3,328.6 167.2,324.9 171.4,324.9"/><polygon points="170.3,328.6 168.2,324.8 172.4,324.8"/><polygon points="171.3,328.5 169.2,324.8 173.3,324.8"/><polygon points="172.2,328.5 170.2,324.8 174.3,324.8"/><polygon points="173.2,328.6 171.1,324.9 175.3,324.9"/><polygon points="174.2,328.8 172.1,325.1 176.3,325.1"/><polygon points="175.2,328.7 173.1,325 177.3,325"/><polygon points="176.2,328.7 174.1,325 178.3,325"/><polygon points="177.2,329 175.1,325.3 179.3,325.3"/><polygon points="178.2,329 176.1,325.3 180.3,325.3"/><polygon points="179.2,329 177.1,325.3 181.3,325.3"/><polygon points="180.2,329.1 178.1,325.4 182.2,325.4"/><polygon points="181.1,329.2 179.1,325.5 183.2,325.5"/><polygon points="182.1,329.3 180,325.6 184.2,325.6"/><polygon points="183.1,329.5 181,325.8 185.2,325.8"/><polygon points="184.1,329.5 182,325.8 186.2,325.8"/><polygon points="185.1,329.5 183,325.8 187.2,325.8"/><polygon points="186.1,329.4 184,325.6 188.2,325.6"/><polygon points="187.1,329.5 185,325.8 189.2,325.8"/><polygon points="188.1,329.4 186,325.7 190.2,325.7"/><polygon points="189.1,329.5 187,325.8 191.1,325.8"/><polygon points="190,329.6 188,325.9 192.1,325.9"/><polygon points="191,329.5 188.9,325.8 193.1,325.8"/><polygon points="192,329.4 189.9,325.7 194.1,325.7"/><polygon points="193,329.5 190.9,325.8 195.1,325.8"/><polygon points="194,329.7 191.9,326 196.1,326"/><polygon points="195,329.8 192.9,326.1 197.1,326.1"/><polygon points="196,329.8 193.9,326.1 198.1,326.1"/><polygon points="197,329.7 194.9,326 199,326"/><polygon points="197.9,329.9 195.9,326.1 200,326.1"/><polygon points="198.9,329.9 196.8,326.2 201,326.2"/><polygon points="199.9,329.8 197.8,326.1 202,326.1"/><polygon points="200.9,330 198.8,326.3 203,326.3"/><polygon points="201.9,330 199.8,326.3 204,326.3"/><polygon points="202.9,330 200.8,326.3 205,326.3"/><polygon points="203.9,329.9 201.8,326.2 206,326.2"/><polygon points="204.9,330.1 202.8,326.4 207,326.4"/><polygon points="205.9,330.3 203.8,326.6 207.9,326.6"/><polygon points="206.8,330.4 204.8,326.7 208.9,326.7"/><polygon points="207.8,330.2 205.7,326.5 209.9,326.5"/><polygon points="208.8,330.3 206.7,326.6 210.9,326.6"/><polygon points="209.8,330.3 207.7,326.5 211.9,326.5"/><polygon points="210.8,330.2 208.7,326.5 212.9,326.5"/><polygon points="211.8,330.3 209.7,326.6 213.9,326.6"/><polygon points="212.8,330.4 210.7,326.7 214.9,326.7"/><polygon points="213.8,330.3 211.7,326.6 215.9,326.6"/><polygon points="214.8,330.3 212.7,326.6 216.8,326.6"/><polygon points="215.7,330.4 213.7,326.7 217.8,326.7"/><polygon points="216.7,330.4 214.6,326.7 218.8,326.7"/><polygon points="217.7,330.5 215.6,326.8 219.8,326.8"/><polygon points="218.7,330.6 216.6,326.9 220.8,326.9"/><polygon points="219.7,330.8 217.6,327.1 221.8,327.1"/><polygon points="220.7,330.7 218.6,327 222.8,327"/><polygon points="221.7,330.6 219.6,326.9 223.8,326.9"/><polygon points="222.7,330.6 220.6,326.9 224.8,326.9"/><polygon points="223.6,330.6 221.6,326.8 225.7,326.8"/><polygon points="224.6,330.8 222.5,327.1 226.7,327.1"/><polygon points="225.6,330.9 223.5,327.2 227.7,327.2"/><polygon points="226.6,330.9 224.5,327.2 228.7,327.2"/><polygon points="227.6,330.8 225.5,327.1 229.7,327.1"/><polygon points="228.6,330.7 226.5,327 230.7,327"/><polygon points="229.6,330.9 227.5,327.2 231.7,327.2"/><polygon points="230.6,331 228.5,327.3 232.7,327.3"/><polygon points="231.6,331.1 229.5,327.3 233.6,327.3"/><polygon points="232.5,331.1 230.5,327.4 234.6,327.4"/><polygon points="233.5,331 231.4,327.3 235.6,327.3"/><polygon points="234.5,331.2 232.4,327.4 236.6,327.4"/><polygon points="235.5,331.1 233.4,327.4 237.6,327.4"/><polygon points="236.5,331.1 234.4,327.4 238.6,327.4"/></g>
<g fill="#10881a"><polygon points="39.8,274.6 41.8,276.6 39.8,278.7 37.7,276.6"/><polygon points="40.8,275.1 42.8,277.1 40.8,279.1 38.7,277.1"/><polygon points="41.8,275.2 43.8,277.3 41.8,279.3 39.7,277.3"/><polygon points="42.8,276.1 44.8,278.1 42.8,280.2 40.7,278.1"/><polygon points="43.7,276.9 45.8,279 43.7,281 41.7,279"/><polygon points="44.7,277.4 46.8,279.5 44.7,281.5 42.7,279.5"/><polygon points="45.7,277.6 47.8,279.6 45.7,281.7 43.7,279.6"/><polygon points="46.7,278.3 48.7,280.4 46.7,282.4 44.7,280.4"/><polygon points="47.7,278.9 49.7,280.9 47.7,283 45.7,280.9"/><polygon points="48.7,279 50.7,281.1 48.7,283.1 46.6,281.1"/><polygon points="49.7,279.4 51.7,281.4 49.7,283.4 47.6,281.4"/><polygon points="50.7,279.8 52.7,281.8 50.7,283.8 48.6,281.8"/><polygon points="51.7,280.1 53.7,282.2 51.7,284.2 49.6,282.2"/><polygon points="52.6,280.1 54.7,282.1 52.6,284.2 50.6,282.1"/><polygon points="53.6,280.2 55.7,282.3 53.6,284.3 51.6,282.3"/><polygon points="54.6,279.9 56.7,282 54.6,284 52.6,282"/><polygon points="55.6,279.8 57.6,281.9 55.6,283.9 53.6,281.9"/><polygon points="56.6,279.7 58.6,281.8 56.6,283.8 54.6,281.8"/><polygon points="57.6,280.2 59.6,282.3 57.6,284.3 55.5,282.3"/><polygon points="58.6,280.8 60.6,282.8 58.6,284.8 56.5,282.8"/><polygon points="59.6,281.2 61.6,283.2 59.6,285.2 57.5,283.2"/><polygon points="60.5,281.2 62.6,283.2 60.5,285.3 58.5,283.2"/><polygon points="61.5,281.1 63.6,283.1 61.5,285.2 59.5,283.1"/><polygon points="62.5,281.3 64.6,283.3 62.5,285.4 60.5,283.3"/><polygon points="63.5,281.6 65.6,283.6 63.5,285.7 61.5,283.6"/><polygon points="64.5,281.7 66.5,283.8 64.5,285.8 62.5,283.8"/><polygon points="65.5,281.7 67.5,283.8 65.5,285.8 63.4,283.8"/><polygon points="66.5,281.7 68.5,283.8 66.5,285.8 64.4,283.8"/><polygon points="67.5,281.7 69.5,283.7 67.5,285.8 65.4,283.7"/><polygon points="68.5,281.7 70.5,283.7 68.5,285.7 66.4,283.7"/><polygon points="69.4,281.8 71.5,283.8 69.4,285.9 67.4,283.8"/><polygon points="70.4,282.3 72.5,284.3 70.4,286.4 68.4,284.3"/><polygon points="71.4,282.2 73.5,284.2 71.4,286.2 69.4,284.2"/><polygon points="72.4,282.5 74.4,284.6 72.4,286.6 70.4,284.6"/><polygon points="73.4,282.6 75.4,284.6 73.4,286.7 71.4,284.6"/><polygon points="74.4,282.8 76.4,284.9 74.4,286.9 72.3,284.9"/><polygon points="75.4,282.8 77.4,284.8 75.4,286.9 73.3,284.8"/><polygon points="76.4,283.2 78.4,285.2 76.4,287.2 74.3,285.2"/><polygon points="77.4,283.4 79.4,285.5 77.4,287.5 75.3,285.5"/><polygon points="78.3,283.7 80.4,285.7 78.3,287.7 76.3,285.7"/><polygon points="79.3,283.9 81.4,286 79.3,288 77.3,286"/><polygon points="80.3,283.6 82.4,285.7 80.3,287.7 78.3,285.7"/><polygon points="81.3,283.7 83.3,285.7 81.3,287.8 79.3,285.7"/><polygon points="82.3,283.9 84.3,286 82.3,288 80.3,286"/><polygon points="83.3,284.1 85.3,286.2 83.3,288.2 81.2,286.2"/><polygon points="84.3,283.8 86.3,285.9 84.3,287.9 82.2,285.9"/><polygon points="85.3,284 87.3,286.1 85.3,288.1 83.2,286.1"/><polygon points="86.2,284.4 88.3,286.4 86.2,288.5 84.2,286.4"/><polygon points="87.2,284.3 89.3,286.3 87.2,288.4 85.2,286.3"/><polygon points="88.2,284.4 90.3,286.4 88.2,288.4 86.2,286.4"/><polygon points="89.2,284.2 91.3,286.2 89.2,288.3 87.2,286.2"/><polygon points="90.2,284.8 92.2,286.9 90.2,288.9 88.2,286.9"/><polygon points="91.2,285.1 93.2,287.1 91.2,289.1 89.2,287.1"/><polygon points="92.2,285 94.2,287.1 92.2,289.1 90.1,287.1"/><polygon points="93.2,285 95.2,287.1 93.2,289.1 91.1,287.1"/><polygon points="94.2,285.1 96.2,287.1 94.2,289.1 92.1,287.1"/><polygon points="95.1,285.7 97.2,287.8 95.1,289.8 93.1,287.8"/><polygon points="96.1,286.1 98.2,288.2 96.1,290.2 94.1,288.2"/><polygon points="97.1,286.6 99.2,288.6 97.1,290.6 95.1,288.6"/><polygon points="98.1,286.9 100.2,288.9 98.1,291 96.1,288.9"/><polygon points="99.1,286.5 101.1,288.6 99.1,290.6 97.1,288.6"/><polygon points="100.1,286.6 102.1,288.7 100.1,290.7 98,288.7"/><polygon points="101.1,286.5 103.1,288.5 101.1,290.6 99,288.5"/><polygon points="102.1,286.8 104.1,288.9 102.1,290.9 100,288.9"/><polygon points="103.1,286.7 105.1,288.8 103.1,290.8 101,288.8"/><polygon points="104,287 106.1,289.1 104,291.1 102,289.1"/><polygon points="105,287.4 107.1,289.4 105,291.5 103,289.4"/><polygon points="106,287.3 108.1,289.4 106,291.4 104,289.4"/><polygon points="107,287.2 109,289.3 107,291.3 105,289.3"/><polygon points="108,287.8 110,289.8 108,291.9 106,289.8"/><polygon points="109,287.9 111,289.9 109,291.9 106.9,289.9"/><polygon points="110,287.9 112,290 110,292 107.9,290"/><polygon points="111,288.2 113,290.2 111,292.3 108.9,290.2"/><polygon points="111.9,288.2 114,290.3 111.9,292.3 109.9,290.3"/><polygon points="112.9,288.4 115,290.5 112.9,292.5 110.9,290.5"/><polygon points="113.9,288.5 116,290.6 113.9,292.6 111.9,290.6"/><polygon points="114.9,288.6 117,290.6 114.9,292.6 112.9,290.6"/><polygon points="115.9,288.3 117.9,290.4 115.9,292.4 113.9,290.4"/><polygon points="116.9,288.1 118.9,290.2 116.9,292.2 114.9,290.2"/><polygon points="117.9,288.3 119.9,290.3 117.9,292.4 115.8,290.3"/><polygon points="118.9,288.6 120.9,290.7 118.9,292.7 116.8,290.7"/><polygon points="119.9,288.7 121.9,290.7 119.9,292.7 117.8,290.7"/><polygon points="120.8,288.5 122.9,290.5 120.8,292.5 118.8,290.5"/><polygon points="121.8,288.7 123.9,290.7 121.8,292.8 119.8,290.7"/><polygon points="122.8,288.8 124.9,290.8 122.8,292.9 120.8,290.8"/><polygon points="123.8,288.9 125.9,291 123.8,293 121.8,291"/><polygon points="124.8,288.7 126.8,290.7 124.8,292.7 122.8,290.7"/><polygon points="125.8,288.6 127.8,290.7 125.8,292.7 123.7,290.7"/><polygon points="126.8,289 128.8,291 126.8,293.1 124.7,291"/><polygon points="127.8,289.3 129.8,291.3 127.8,293.3 125.7,291.3"/><polygon points="128.8,289.3 130.8,291.3 128.8,293.3 126.7,291.3"/><polygon points="129.7,289.2 131.8,291.2 129.7,293.2 127.7,291.2"/><polygon points="130.7,289 132.8,291.1 130.7,293.1 128.7,291.1"/><polygon points="131.7,289.4 133.8,291.4 131.7,293.4 129.7,291.4"/><polygon points="132.7,289.6 134.7,291.6 132.7,293.7 130.7,291.6"/><polygon points="133.7,289.4 135.7,291.4 133.7,293.4 131.7,291.4"/><polygon points="134.7,289.4 136.7,291.5 134.7,293.5 132.6,291.5"/><polygon points="135.7,289.6 137.7,291.6 135.7,293.7 133.6,291.6"/><polygon points="136.7,289.7 138.7,291.7 136.7,293.8 134.6,291.7"/><polygon points="137.7,289.3 139.7,291.3 137.7,293.4 135.6,291.3"/><polygon points="138.6,289.5 140.7,291.6 138.6,293.6 136.6,291.6"/><polygon points="139.6,289.5 141.7,291.5 139.6,293.6 137.6,291.5"/><polygon points="140.6,289.6 142.7,291.7 140.6,293.7 138.6,291.7"/><polygon points="141.6,289.7 143.6,291.8 141.6,293.8 139.6,291.8"/><polygon points="142.6,289.5 144.6,291.5 142.6,293.6 140.6,291.5"/><polygon points="143.6,289.2 145.6,291.3 143.6,293.3 141.5,291.3"/><polygon points="144.6,289.5 146.6,291.6 144.6,293.6 142.5,291.6"/><polygon points="145.6,289.9 147.6,291.9 145.6,293.9 143.5,291.9"/><polygon points="146.5,289.7 148.6,291.8 146.5,293.8 144.5,291.8"/><polygon points="147.5,290 149.6,292.1 147.5,294.1 145.5,292.1"/><polygon points="148.5,290.4 150.6,292.4 148.5,294.5 146.5,292.4"/><polygon points="149.5,290 151.6,292.1 149.5,294.1 147.5,292.1"/><polygon points="150.5,290.1 152.5,292.2 150.5,294.2 148.5,292.2"/><polygon points="151.5,289.9 153.5,292 151.5,294 149.4,292"/><polygon points="152.5,290.1 154.5,292.1 152.5,294.2 150.4,292.1"/><polygon points="153.5,289.9 155.5,291.9 153.5,293.9 151.4,291.9"/><polygon points="154.5,290 156.5,292.1 154.5,294.1 152.4,292.1"/><polygon points="155.4,290.4 157.5,292.4 155.4,294.4 153.4,292.4"/><polygon points="156.4,290.7 158.5,292.8 156.4,294.8 154.4,292.8"/><polygon points="157.4,290.6 159.5,292.6 157.4,294.7 155.4,292.6"/><polygon points="158.4,290.5 160.4,292.5 158.4,294.6 156.4,292.5"/><polygon points="159.4,290.2 161.4,292.2 159.4,294.3 157.4,292.2"/><polygon points="160.4,290.6 162.4,292.6 160.4,294.6 158.3,292.6"/><polygon points="161.4,290.5 163.4,292.5 161.4,294.5 159.3,292.5"/><polygon points="162.4,290.6 164.4,292.6 162.4,294.6 160.3,292.6"/><polygon points="163.4,290.6 165.4,292.6 163.4,294.6 161.3,292.6"/><polygon points="164.3,290.8 166.4,292.8 164.3,294.9 162.3,292.8"/><polygon points="165.3,290.9 167.4,292.9 165.3,295 163.3,292.9"/><polygon points="166.3,290.8 168.4,292.8 166.3,294.9 164.3,292.8"/><polygon points="167.3,290.4 169.3,292.5 167.3,294.5 165.3,292.5"/><polygon points="168.3,290.8 170.3,292.8 168.3,294.8 166.3,292.8"/><polygon points="169.3,290.7 171.3,292.8 169.3,294.8 167.2,292.8"/><polygon points="170.3,290.5 172.3,292.5 170.3,294.6 168.2,292.5"/><polygon points="171.3,290.2 173.3,292.2 171.3,294.3 169.2,292.2"/><polygon points="172.2,290.6 174.3,292.6 172.2,294.6 170.2,292.6"/><polygon points="173.2,290.9 175.3,292.9 173.2,295 171.2,292.9"/><polygon points="174.2,290.5 176.3,292.6 174.2,294.6 172.2,292.6"/><polygon points="175.2,290.2 177.3,292.3 175.2,294.3 173.2,292.3"/><polygon points="176.2,290.4 178.2,292.4 176.2,294.5 174.2,292.4"/><polygon points="177.2,290.8 179.2,292.9 177.2,294.9 175.2,292.9"/><polygon points="178.2,290.5 180.2,292.6 178.2,294.6 176.1,292.6"/><polygon points="179.2,290.7 181.2,292.7 179.2,294.8 177.1,292.7"/><polygon points="180.2,290.5 182.2,292.5 180.2,294.5 178.1,292.5"/><polygon points="181.1,290.5 183.2,292.5 181.1,294.6 179.1,292.5"/><polygon points="182.1,290.4 184.2,292.4 182.1,294.5 180.1,292.4"/><polygon points="183.1,290.8 185.2,292.8 183.1,294.9 181.1,292.8"/><polygon points="184.1,290.7 186.1,292.7 184.1,294.7 182.1,292.7"/><polygon points="185.1,291.1 187.1,293.1 185.1,295.2 183.1,293.1"/><polygon points="186.1,291.3 188.1,293.4 186.1,295.4 184,293.4"/><polygon points="187.1,291.2 189.1,293.2 187.1,295.3 185,293.2"/><polygon points="188.1,291.2 190.1,293.2 188.1,295.2 186,293.2"/><polygon points="189.1,291.7 191.1,293.7 189.1,295.7 187,293.7"/><polygon points="190,292 192.1,294.1 190,296.1 188,294.1"/><polygon points="191,292.3 193.1,294.3 191,296.4 189,294.3"/><polygon points="192,292.5 194.1,294.5 192,296.5 190,294.5"/><polygon points="193,292.8 195,294.8 193,296.8 191,294.8"/><polygon points="194,293.2 196,295.3 194,297.3 192,295.3"/><polygon points="195,293.5 197,295.6 195,297.6 192.9,295.6"/><polygon points="196,293.5 198,295.5 196,297.6 193.9,295.5"/><polygon points="197,293.2 199,295.3 197,297.3 194.9,295.3"/><polygon points="197.9,293.7 200,295.8 197.9,297.8 195.9,295.8"/><polygon points="198.9,293.7 201,295.7 198.9,297.8 196.9,295.7"/><polygon points="199.9,293.6 202,295.6 199.9,297.7 197.9,295.6"/><polygon points="200.9,294 203,296.1 200.9,298.1 198.9,296.1"/><polygon points="201.9,293.8 203.9,295.9 201.9,297.9 199.9,295.9"/><polygon points="202.9,294.2 204.9,296.3 202.9,298.3 200.9,296.3"/><polygon points="203.9,294.2 205.9,296.2 203.9,298.3 201.8,296.2"/><polygon points="204.9,294.2 206.9,296.2 204.9,298.3 202.8,296.2"/><polygon points="205.9,294.2 207.9,296.2 205.9,298.3 203.8,296.2"/><polygon points="206.8,294.5 208.9,296.5 206.8,298.5 204.8,296.5"/><polygon points="207.8,294.6 209.9,296.6 207.8,298.7 205.8,296.6"/><polygon points="208.8,294.6 210.9,296.6 208.8,298.7 206.8,296.6"/><polygon points="209.8,294.7 211.9,296.8 209.8,298.8 207.8,296.8"/><polygon points="210.8,294.7 212.8,296.7 210.8,298.8 208.8,296.7"/><polygon points="211.8,294.8 213.8,296.9 211.8,298.9 209.7,296.9"/><polygon points="212.8,295 214.8,297 212.8,299.1 210.7,297"/><polygon points="213.8,295.4 215.8,297.5 213.8,299.5 211.7,297.5"/><polygon points="214.8,295.3 216.8,297.4 214.8,299.4 212.7,297.4"/><polygon points="215.7,295.4 217.8,297.4 215.7,299.5 213.7,297.4"/><polygon points="216.7,295.6 218.8,297.7 216.7,299.7 214.7,297.7"/><polygon points="217.7,295.4 219.8,297.5 217.7,299.5 215.7,297.5"/><polygon points="218.7,295.3 220.7,297.4 218.7,299.4 216.7,297.4"/><polygon points="219.7,295.5 221.7,297.6 219.7,299.6 217.7,297.6"/><polygon points="220.7,295.9 222.7,297.9 220.7,300 218.6,297.9"/><polygon points="221.7,295.9 223.7,297.9 221.7,299.9 219.6,297.9"/><polygon points="222.7,296.1 224.7,298.1 222.7,300.2 220.6,298.1"/><polygon points="223.6,296.3 225.7,298.3 223.6,300.3 221.6,298.3"/><polygon points="224.6,296.2 226.7,298.2 224.6,300.2 222.6,298.2"/><polygon points="225.6,296.3 227.7,298.4 225.6,300.4 223.6,298.4"/><polygon points="226.6,296.2 228.7,298.2 226.6,300.3 224.6,298.2"/><polygon points="227.6,296.1 229.6,298.1 227.6,300.1 225.6,298.1"/><polygon points="228.6,296.3 230.6,298.3 228.6,300.4 226.6,298.3"/><polygon points="229.6,296 231.6,298.1 229.6,300.1 227.5,298.1"/><polygon points="230.6,296.2 232.6,298.3 230.6,300.3 228.5,298.3"/><polygon points="231.6,295.8 233.6,297.8 231.6,299.9 229.5,297.8"/><polygon points="232.5,295.3 234.6,297.4 232.5,299.4 230.5,297.4"/><polygon points="233.5,295.2 235.6,297.2 233.5,299.3 231.5,297.2"/><polygon points="234.5,295.2 236.6,297.2 234.5,299.3 232.5,297.2"/><polygon points="235.5,294.8 237.6,296.8 235.5,298.9 233.5,296.8"/><polygon points="236.5,294.5 238.5,296.5 236.5,298.6 234.5,296.5"/></g>
<g fill="#9a1818"><polygon points="39.8,280.7 40.3,282.1 41.9,282.2 40.7,283.2 41.1,284.7 39.8,283.8 38.5,284.7 38.9,283.2 37.7,282.2 39.2,282.1"/><polygon points="40.8,281.7 41.3,283.1 42.9,283.2 41.7,284.2 42.1,285.7 40.8,284.8 39.5,285.7 39.9,284.2 38.7,283.2 40.2,283.1"/><polygon points="41.8,283.5 42.3,284.9 43.9,285 42.7,285.9 43.1,287.4 41.8,286.6 40.5,287.4 40.9,285.9 39.7,285 41.2,284.9"/><polygon points="42.8,284 43.3,285.5 44.9,285.5 43.6,286.5 44.1,288 42.8,287.1 41.5,288 41.9,286.5 40.7,285.5 42.2,285.5"/><polygon points="43.7,284.7 44.3,286.2 45.8,286.2 44.6,287.2 45,288.7 43.7,287.9 42.4,288.7 42.9,287.2 41.6,286.2 43.2,286.2"/><polygon points="44.7,287.6 45.3,289 46.8,289.1 45.6,290.1 46,291.6 44.7,290.7 43.4,291.6 43.8,290.1 42.6,289.1 44.2,289"/><polygon points="45.7,289.4 46.3,290.9 47.8,290.9 46.6,291.9 47,293.4 45.7,292.6 44.4,293.4 44.8,291.9 43.6,290.9 45.2,290.9"/><polygon points="46.7,290.5 47.3,292 48.8,292.1 47.6,293 48,294.5 46.7,293.7 45.4,294.5 45.8,293 44.6,292.1 46.2,292"/><polygon points="47.7,291.6 48.2,293 49.8,293.1 48.6,294.1 49,295.6 47.7,294.7 46.4,295.6 46.8,294.1 45.6,293.1 47.1,293"/><polygon points="48.7,292.4 49.2,293.9 50.8,293.9 49.6,294.9 50,296.4 48.7,295.6 47.4,296.4 47.8,294.9 46.6,293.9 48.1,293.9"/><polygon points="49.7,293.3 50.2,294.8 51.8,294.8 50.6,295.8 51,297.3 49.7,296.4 48.4,297.3 48.8,295.8 47.6,294.8 49.1,294.8"/><polygon points="50.7,294.1 51.2,295.5 52.8,295.6 51.6,296.5 52,298 50.7,297.2 49.4,298 49.8,296.5 48.6,295.6 50.1,295.5"/><polygon points="51.7,294.5 52.2,295.9 53.8,296 52.5,297 52.9,298.5 51.7,297.6 50.4,298.5 50.8,297 49.5,296 51.1,295.9"/><polygon points="52.6,294.8 53.2,296.3 54.7,296.3 53.5,297.3 53.9,298.8 52.6,298 51.3,298.8 51.7,297.3 50.5,296.3 52.1,296.3"/><polygon points="53.6,295.5 54.2,296.9 55.7,297 54.5,298 54.9,299.5 53.6,298.6 52.3,299.5 52.7,298 51.5,297 53.1,296.9"/><polygon points="54.6,295.8 55.2,297.2 56.7,297.3 55.5,298.3 55.9,299.8 54.6,298.9 53.3,299.8 53.7,298.3 52.5,297.3 54.1,297.2"/><polygon points="55.6,295.9 56.2,297.3 57.7,297.4 56.5,298.4 56.9,299.9 55.6,299 54.3,299.9 54.7,298.4 53.5,297.4 55.1,297.3"/><polygon points="56.6,296.3 57.1,297.7 58.7,297.8 57.5,298.8 57.9,300.3 56.6,299.4 55.3,300.3 55.7,298.8 54.5,297.8 56,297.7"/><polygon points="57.6,296.3 58.1,297.8 59.7,297.8 58.5,298.8 58.9,300.3 57.6,299.4 56.3,300.3 56.7,298.8 55.5,297.8 57,297.8"/><polygon points="58.6,296.6 59.1,298.1 60.7,298.2 59.5,299.1 59.9,300.6 58.6,299.8 57.3,300.6 57.7,299.1 56.5,298.2 58,298.1"/><polygon points="59.6,296.6 60.1,298.1 61.7,298.1 60.4,299.1 60.9,300.6 59.6,299.7 58.3,300.6 58.7,299.1 57.5,298.1 59,298.1"/><polygon points="60.5,296.9 61.1,298.3 62.6,298.4 61.4,299.4 61.8,300.9 60.5,300 59.2,300.9 59.7,299.4 58.4,298.4 60,298.3"/><polygon points="61.5,297 62.1,298.4 63.6,298.5 62.4,299.5 62.8,301 61.5,300.1 60.2,301 60.6,299.5 59.4,298.5 61,298.4"/><polygon points="62.5,296.9 63.1,298.3 64.6,298.4 63.4,299.4 63.8,300.9 62.5,300 61.2,300.9 61.6,299.4 60.4,298.4 62,298.3"/><polygon points="63.5,297.1 64.1,298.6 65.6,298.6 64.4,299.6 64.8,301.1 63.5,300.3 62.2,301.1 62.6,299.6 61.4,298.6 63,298.6"/><polygon points="64.5,297.3 65.1,298.8 66.6,298.8 65.4,299.8 65.8,301.3 64.5,300.5 63.2,301.3 63.6,299.8 62.4,298.8 64,298.8"/><polygon points="65.5,297.4 66,298.8 67.6,298.9 66.4,299.9 66.8,301.4 65.5,300.5 64.2,301.4 64.6,299.9 63.4,298.9 64.9,298.8"/><polygon points="66.5,297.5 67,299 68.6,299 67.4,300 67.8,301.5 66.5,300.7 65.2,301.5 65.6,300 64.4,299 65.9,299"/><polygon points="67.5,297.8 68,299.2 69.6,299.3 68.4,300.3 68.8,301.8 67.5,300.9 66.2,301.8 66.6,300.3 65.4,299.3 66.9,299.2"/><polygon points="68.5,297.9 69,299.4 70.6,299.4 69.3,300.4 69.8,301.9 68.5,301.1 67.2,301.9 67.6,300.4 66.4,299.4 67.9,299.4"/><polygon points="69.4,298.1 70,299.5 71.5,299.6 70.3,300.6 70.7,302.1 69.4,301.2 68.1,302.1 68.6,300.6 67.3,299.6 68.9,299.5"/><polygon points="70.4,297.8 71,299.3 72.5,299.4 71.3,300.3 71.7,301.8 70.4,301 69.1,301.8 69.5,300.3 68.3,299.4 69.9,299.3"/><polygon points="71.4,297.8 72,299.3 73.5,299.4 72.3,300.3 72.7,301.8 71.4,301 70.1,301.8 70.5,300.3 69.3,299.4 70.9,299.3"/><polygon points="72.4,297.8 73,299.2 74.5,299.3 73.3,300.3 73.7,301.7 72.4,300.9 71.1,301.7 71.5,300.3 70.3,299.3 71.9,299.2"/><polygon points="73.4,298 73.9,299.5 75.5,299.6 74.3,300.5 74.7,302 73.4,301.2 72.1,302 72.5,300.5 71.3,299.6 72.8,299.5"/><polygon points="74.4,298 74.9,299.4 76.5,299.5 75.3,300.5 75.7,302 74.4,301.1 73.1,302 73.5,300.5 72.3,299.5 73.8,299.4"/><polygon points="75.4,298.3 75.9,299.7 77.5,299.8 76.3,300.8 76.7,302.3 75.4,301.4 74.1,302.3 74.5,300.8 73.3,299.8 74.8,299.7"/><polygon points="76.4,298.3 76.9,299.8 78.5,299.8 77.3,300.8 77.7,302.3 76.4,301.5 75.1,302.3 75.5,300.8 74.3,299.8 75.8,299.8"/><polygon points="77.4,298.3 77.9,299.8 79.5,299.9 78.2,300.8 78.7,302.3 77.4,301.5 76.1,302.3 76.5,300.8 75.2,299.9 76.8,299.8"/><polygon points="78.3,298.5 78.9,299.9 80.4,300 79.2,301 79.6,302.5 78.3,301.6 77,302.5 77.5,301 76.2,300 77.8,299.9"/><polygon points="79.3,298.4 79.9,299.8 81.4,299.9 80.2,300.9 80.6,302.4 79.3,301.5 78,302.4 78.4,300.9 77.2,299.9 78.8,299.8"/><polygon points="80.3,298.5 80.9,299.9 82.4,300 81.2,301 81.6,302.5 80.3,301.6 79,302.5 79.4,301 78.2,300 79.8,299.9"/><polygon points="81.3,298.6 81.9,300 83.4,300.1 82.2,301.1 82.6,302.6 81.3,301.7 80,302.6 80.4,301.1 79.2,300.1 80.8,300"/><polygon points="82.3,298.5 82.8,300 84.4,300.1 83.2,301 83.6,302.5 82.3,301.7 81,302.5 81.4,301 80.2,300.1 81.7,300"/><polygon points="83.3,298.9 83.8,300.3 85.4,300.4 84.2,301.4 84.6,302.9 83.3,302 82,302.9 82.4,301.4 81.2,300.4 82.7,300.3"/><polygon points="84.3,298.7 84.8,300.2 86.4,300.3 85.2,301.2 85.6,302.7 84.3,301.9 83,302.7 83.4,301.2 82.2,300.3 83.7,300.2"/><polygon points="85.3,298.8 85.8,300.3 87.4,300.3 86.1,301.3 86.6,302.8 85.3,302 84,302.8 84.4,301.3 83.2,300.3 84.7,300.3"/><polygon points="86.2,299 86.8,300.5 88.3,300.5 87.1,301.5 87.5,303 86.2,302.2 84.9,303 85.4,301.5 84.1,300.5 85.7,300.5"/><polygon points="87.2,299 87.8,300.5 89.3,300.5 88.1,301.5 88.5,303 87.2,302.1 85.9,303 86.3,301.5 85.1,300.5 86.7,300.5"/><polygon points="88.2,299.2 88.8,300.7 90.3,300.8 89.1,301.7 89.5,303.2 88.2,302.4 86.9,303.2 87.3,301.7 86.1,300.8 87.7,300.7"/><polygon points="89.2,299.1 89.8,300.6 91.3,300.7 90.1,301.6 90.5,303.1 89.2,302.3 87.9,303.1 88.3,301.6 87.1,300.7 88.7,300.6"/><polygon points="90.2,299.2 90.8,300.7 92.3,300.8 91.1,301.7 91.5,303.2 90.2,302.4 88.9,303.2 89.3,301.7 88.1,300.8 89.7,300.7"/><polygon points="91.2,299.5 91.7,300.9 93.3,301 92.1,302 92.5,303.5 91.2,302.6 89.9,303.5 90.3,302 89.1,301 90.6,300.9"/><polygon points="92.2,299.4 92.7,300.9 94.3,301 93.1,301.9 93.5,303.4 92.2,302.6 90.9,303.4 91.3,301.9 90.1,301 91.6,300.9"/><polygon points="93.2,299.6 93.7,301.1 95.3,301.1 94.1,302.1 94.5,303.6 93.2,302.8 91.9,303.6 92.3,302.1 91.1,301.1 92.6,301.1"/><polygon points="94.2,299.9 94.7,301.3 96.3,301.4 95,302.4 95.5,303.9 94.2,303 92.9,303.9 93.3,302.4 92.1,301.4 93.6,301.3"/><polygon points="95.1,299.8 95.7,301.3 97.2,301.4 96,302.3 96.4,303.8 95.1,303 93.8,303.8 94.3,302.3 93,301.4 94.6,301.3"/><polygon points="96.1,300.1 96.7,301.6 98.2,301.6 97,302.6 97.4,304.1 96.1,303.3 94.8,304.1 95.2,302.6 94,301.6 95.6,301.6"/><polygon points="97.1,300 97.7,301.5 99.2,301.6 98,302.5 98.4,304 97.1,303.2 95.8,304 96.2,302.5 95,301.6 96.6,301.5"/><polygon points="98.1,300.2 98.7,301.7 100.2,301.8 99,302.7 99.4,304.2 98.1,303.4 96.8,304.2 97.2,302.7 96,301.8 97.6,301.7"/><polygon points="99.1,300.2 99.6,301.7 101.2,301.8 100,302.7 100.4,304.2 99.1,303.4 97.8,304.2 98.2,302.7 97,301.8 98.5,301.7"/><polygon points="100.1,300.1 100.6,301.6 102.2,301.6 101,302.6 101.4,304.1 100.1,303.2 98.8,304.1 99.2,302.6 98,301.6 99.5,301.6"/><polygon points="101.1,300.2 101.6,301.7 103.2,301.7 102,302.7 102.4,304.2 101.1,303.3 99.8,304.2 100.2,302.7 99,301.7 100.5,301.7"/><polygon points="102.1,300.3 102.6,301.7 104.2,301.8 103,302.8 103.4,304.3 102.1,303.4 100.8,304.3 101.2,302.8 100,301.8 101.5,301.7"/><polygon points="103.1,300.5 103.6,301.9 105.2,302 103.9,303 104.4,304.5 103.1,303.6 101.8,304.5 102.2,303 101,302 102.5,301.9"/><polygon points="104,300.8 104.6,302.3 106.1,302.3 104.9,303.3 105.3,304.8 104,304 102.7,304.8 103.2,303.3 101.9,302.3 103.5,302.3"/><polygon points="105,301.1 105.6,302.5 107.1,302.6 105.9,303.6 106.3,305.1 105,304.2 103.7,305.1 104.1,303.6 102.9,302.6 104.5,302.5"/><polygon points="106,301.2 106.6,302.7 108.1,302.7 106.9,303.7 107.3,305.2 106,304.3 104.7,305.2 105.1,303.7 103.9,302.7 105.5,302.7"/><polygon points="107,301.1 107.6,302.6 109.1,302.7 107.9,303.6 108.3,305.1 107,304.3 105.7,305.1 106.1,303.6 104.9,302.7 106.5,302.6"/><polygon points="108,301.2 108.5,302.6 110.1,302.7 108.9,303.7 109.3,305.2 108,304.3 106.7,305.2 107.1,303.7 105.9,302.7 107.4,302.6"/><polygon points="109,301.2 109.5,302.6 111.1,302.7 109.9,303.7 110.3,305.2 109,304.3 107.7,305.2 108.1,303.7 106.9,302.7 108.4,302.6"/><polygon points="110,301 110.5,302.5 112.1,302.6 110.9,303.5 111.3,305 110,304.2 108.7,305 109.1,303.5 107.9,302.6 109.4,302.5"/><polygon points="111,301.3 111.5,302.8 113.1,302.8 111.8,303.8 112.3,305.3 111,304.4 109.7,305.3 110.1,303.8 108.9,302.8 110.4,302.8"/><polygon points="111.9,301.5 112.5,302.9 114.1,303 112.8,304 113.2,305.5 111.9,304.6 110.6,305.5 111.1,304 109.8,303 111.4,302.9"/><polygon points="112.9,301.4 113.5,302.9 115,302.9 113.8,303.9 114.2,305.4 112.9,304.6 111.6,305.4 112,303.9 110.8,302.9 112.4,302.9"/><polygon points="113.9,301.7 114.5,303.1 116,303.2 114.8,304.2 115.2,305.7 113.9,304.8 112.6,305.7 113,304.2 111.8,303.2 113.4,303.1"/><polygon points="114.9,301.9 115.5,303.3 117,303.4 115.8,304.4 116.2,305.9 114.9,305 113.6,305.9 114,304.4 112.8,303.4 114.4,303.3"/><polygon points="115.9,301.9 116.5,303.4 118,303.4 116.8,304.4 117.2,305.9 115.9,305.1 114.6,305.9 115,304.4 113.8,303.4 115.4,303.4"/><polygon points="116.9,302.1 117.4,303.5 119,303.6 117.8,304.6 118.2,306 116.9,305.2 115.6,306 116,304.6 114.8,303.6 116.3,303.5"/><polygon points="117.9,302.1 118.4,303.5 120,303.6 118.8,304.6 119.2,306.1 117.9,305.2 116.6,306.1 117,304.6 115.8,303.6 117.3,303.5"/><polygon points="118.9,302.2 119.4,303.6 121,303.7 119.8,304.7 120.2,306.2 118.9,305.3 117.6,306.2 118,304.7 116.8,303.7 118.3,303.6"/><polygon points="119.9,302.1 120.4,303.5 122,303.6 120.7,304.6 121.2,306.1 119.9,305.2 118.6,306.1 119,304.6 117.8,303.6 119.3,303.5"/><polygon points="120.8,302 121.4,303.5 122.9,303.6 121.7,304.5 122.1,306 120.8,305.2 119.5,306 120,304.5 118.7,303.6 120.3,303.5"/><polygon points="121.8,302.2 122.4,303.7 123.9,303.7 122.7,304.7 123.1,306.2 121.8,305.4 120.5,306.2 120.9,304.7 119.7,303.7 121.3,303.7"/><polygon points="122.8,302.2 123.4,303.6 124.9,303.7 123.7,304.7 124.1,306.2 122.8,305.3 121.5,306.2 121.9,304.7 120.7,303.7 122.3,303.6"/><polygon points="123.8,302.2 124.4,303.7 125.9,303.7 124.7,304.7 125.1,306.2 123.8,305.4 122.5,306.2 122.9,304.7 121.7,303.7 123.3,303.7"/><polygon points="124.8,302.4 125.3,303.9 126.9,303.9 125.7,304.9 126.1,306.4 124.8,305.6 123.5,306.4 123.9,304.9 122.7,303.9 124.2,303.9"/><polygon points="125.8,302.2 126.3,303.7 127.9,303.8 126.7,304.7 127.1,306.2 125.8,305.4 124.5,306.2 124.9,304.7 123.7,303.8 125.2,303.7"/><polygon points="126.8,302.4 127.3,303.9 128.9,304 127.7,304.9 128.1,306.4 126.8,305.6 125.5,306.4 125.9,304.9 124.7,304 126.2,303.9"/><polygon points="127.8,302.6 128.3,304.1 129.9,304.2 128.7,305.1 129.1,306.6 127.8,305.8 126.5,306.6 126.9,305.1 125.7,304.2 127.2,304.1"/><polygon points="128.8,302.8 129.3,304.3 130.9,304.3 129.6,305.3 130.1,306.8 128.8,306 127.5,306.8 127.9,305.3 126.7,304.3 128.2,304.3"/><polygon points="129.7,302.7 130.3,304.2 131.8,304.3 130.6,305.2 131,306.7 129.7,305.9 128.4,306.7 128.9,305.2 127.6,304.3 129.2,304.2"/><polygon points="130.7,302.6 131.3,304 132.8,304.1 131.6,305.1 132,306.6 130.7,305.7 129.4,306.6 129.8,305.1 128.6,304.1 130.2,304"/><polygon points="131.7,302.6 132.3,304 133.8,304.1 132.6,305.1 133,306.6 131.7,305.7 130.4,306.6 130.8,305.1 129.6,304.1 131.2,304"/><polygon points="132.7,302.7 133.3,304.2 134.8,304.2 133.6,305.2 134,306.7 132.7,305.9 131.4,306.7 131.8,305.2 130.6,304.2 132.2,304.2"/><polygon points="133.7,302.9 134.2,304.4 135.8,304.4 134.6,305.4 135,306.9 133.7,306 132.4,306.9 132.8,305.4 131.6,304.4 133.1,304.4"/><polygon points="134.7,303.2 135.2,304.6 136.8,304.7 135.6,305.7 136,307.2 134.7,306.3 133.4,307.2 133.8,305.7 132.6,304.7 134.1,304.6"/><polygon points="135.7,303.2 136.2,304.6 137.8,304.7 136.6,305.7 137,307.2 135.7,306.3 134.4,307.2 134.8,305.7 133.6,304.7 135.1,304.6"/><polygon points="136.7,303.2 137.2,304.7 138.8,304.8 137.6,305.7 138,307.2 136.7,306.4 135.4,307.2 135.8,305.7 134.6,304.8 136.1,304.7"/><polygon points="137.7,303.4 138.2,304.9 139.8,304.9 138.5,305.9 138.9,307.4 137.7,306.6 136.4,307.4 136.8,305.9 135.5,304.9 137.1,304.9"/><polygon points="138.6,303.4 139.2,304.9 140.7,305 139.5,305.9 139.9,307.4 138.6,306.6 137.3,307.4 137.7,305.9 136.5,305 138.1,304.9"/><polygon points="139.6,303.6 140.2,305.1 141.7,305.1 140.5,306.1 140.9,307.6 139.6,306.7 138.3,307.6 138.7,306.1 137.5,305.1 139.1,305.1"/><polygon points="140.6,303.5 141.2,305 142.7,305.1 141.5,306 141.9,307.5 140.6,306.7 139.3,307.5 139.7,306 138.5,305.1 140.1,305"/><polygon points="141.6,303.6 142.2,305.1 143.7,305.1 142.5,306.1 142.9,307.6 141.6,306.7 140.3,307.6 140.7,306.1 139.5,305.1 141.1,305.1"/><polygon points="142.6,303.9 143.1,305.4 144.7,305.4 143.5,306.4 143.9,307.9 142.6,307 141.3,307.9 141.7,306.4 140.5,305.4 142,305.4"/><polygon points="143.6,303.9 144.1,305.3 145.7,305.4 144.5,306.4 144.9,307.9 143.6,307 142.3,307.9 142.7,306.4 141.5,305.4 143,305.3"/><polygon points="144.6,304.3 145.1,305.7 146.7,305.8 145.5,306.8 145.9,308.3 144.6,307.4 143.3,308.3 143.7,306.8 142.5,305.8 144,305.7"/><polygon points="145.6,304.4 146.1,305.8 147.7,305.9 146.4,306.9 146.9,308.4 145.6,307.5 144.3,308.4 144.7,306.9 143.5,305.9 145,305.8"/><polygon points="146.5,304.5 147.1,306 148.6,306.1 147.4,307 147.8,308.5 146.5,307.7 145.2,308.5 145.7,307 144.4,306.1 146,306"/><polygon points="147.5,304.8 148.1,306.2 149.6,306.3 148.4,307.3 148.8,308.8 147.5,307.9 146.2,308.8 146.6,307.3 145.4,306.3 147,306.2"/><polygon points="148.5,305 149.1,306.5 150.6,306.5 149.4,307.5 149.8,309 148.5,308.2 147.2,309 147.6,307.5 146.4,306.5 148,306.5"/><polygon points="149.5,304.9 150.1,306.4 151.6,306.4 150.4,307.4 150.8,308.9 149.5,308.1 148.2,308.9 148.6,307.4 147.4,306.4 149,306.4"/><polygon points="150.5,305.2 151.1,306.7 152.6,306.7 151.4,307.7 151.8,309.2 150.5,308.3 149.2,309.2 149.6,307.7 148.4,306.7 150,306.7"/><polygon points="151.5,305.2 152,306.7 153.6,306.7 152.4,307.7 152.8,309.2 151.5,308.3 150.2,309.2 150.6,307.7 149.4,306.7 150.9,306.7"/><polygon points="152.5,305.1 153,306.5 154.6,306.6 153.4,307.6 153.8,309.1 152.5,308.2 151.2,309.1 151.6,307.6 150.4,306.6 151.9,306.5"/><polygon points="153.5,305.3 154,306.8 155.6,306.9 154.4,307.8 154.8,309.3 153.5,308.5 152.2,309.3 152.6,307.8 151.4,306.9 152.9,306.8"/><polygon points="154.5,305.5 155,307 156.6,307.1 155.3,308 155.8,309.5 154.5,308.7 153.2,309.5 153.6,308 152.4,307.1 153.9,307"/><polygon points="155.4,305.5 156,307 157.5,307.1 156.3,308 156.7,309.5 155.4,308.7 154.1,309.5 154.6,308 153.3,307.1 154.9,307"/><polygon points="156.4,305.6 157,307.1 158.5,307.1 157.3,308.1 157.7,309.6 156.4,308.8 155.1,309.6 155.5,308.1 154.3,307.1 155.9,307.1"/><polygon points="157.4,305.6 158,307.1 159.5,307.2 158.3,308.1 158.7,309.6 157.4,308.8 156.1,309.6 156.5,308.1 155.3,307.2 156.9,307.1"/><polygon points="158.4,305.6 159,307.1 160.5,307.1 159.3,308.1 159.7,309.6 158.4,308.8 157.1,309.6 157.5,308.1 156.3,307.1 157.9,307.1"/><polygon points="159.4,305.9 159.9,307.3 161.5,307.4 160.3,308.4 160.7,309.9 159.4,309 158.1,309.9 158.5,308.4 157.3,307.4 158.8,307.3"/><polygon points="160.4,306 160.9,307.5 162.5,307.6 161.3,308.5 161.7,310 160.4,309.2 159.1,310 159.5,308.5 158.3,307.6 159.8,307.5"/><polygon points="161.4,306.2 161.9,307.6 163.5,307.7 162.3,308.7 162.7,310.2 161.4,309.3 160.1,310.2 160.5,308.7 159.3,307.7 160.8,307.6"/><polygon points="162.4,306.4 162.9,307.9 164.5,308 163.3,308.9 163.7,310.4 162.4,309.6 161.1,310.4 161.5,308.9 160.3,308 161.8,307.9"/><polygon points="163.4,306.3 163.9,307.7 165.5,307.8 164.2,308.8 164.7,310.3 163.4,309.4 162.1,310.3 162.5,308.8 161.2,307.8 162.8,307.7"/><polygon points="164.3,306.2 164.9,307.7 166.4,307.7 165.2,308.7 165.6,310.2 164.3,309.4 163,310.2 163.5,308.7 162.2,307.7 163.8,307.7"/><polygon points="165.3,306.2 165.9,307.7 167.4,307.8 166.2,308.7 166.6,310.2 165.3,309.4 164,310.2 164.4,308.7 163.2,307.8 164.8,307.7"/><polygon points="166.3,306.6 166.9,308 168.4,308.1 167.2,309.1 167.6,310.6 166.3,309.7 165,310.6 165.4,309.1 164.2,308.1 165.8,308"/><polygon points="167.3,306.5 167.9,307.9 169.4,308 168.2,309 168.6,310.5 167.3,309.6 166,310.5 166.4,309 165.2,308 166.8,307.9"/><polygon points="168.3,306.5 168.8,308 170.4,308 169.2,309 169.6,310.5 168.3,309.6 167,310.5 167.4,309 166.2,308 167.7,308"/><polygon points="169.3,306.6 169.8,308.1 171.4,308.2 170.2,309.1 170.6,310.6 169.3,309.8 168,310.6 168.4,309.1 167.2,308.2 168.7,308.1"/><polygon points="170.3,306.7 170.8,308.1 172.4,308.2 171.2,309.2 171.6,310.7 170.3,309.8 169,310.7 169.4,309.2 168.2,308.2 169.7,308.1"/><polygon points="171.3,306.8 171.8,308.3 173.4,308.3 172.1,309.3 172.6,310.8 171.3,310 170,310.8 170.4,309.3 169.2,308.3 170.7,308.3"/><polygon points="172.2,307.1 172.8,308.5 174.3,308.6 173.1,309.6 173.5,311.1 172.2,310.2 170.9,311.1 171.4,309.6 170.1,308.6 171.7,308.5"/><polygon points="173.2,307.3 173.8,308.8 175.3,308.8 174.1,309.8 174.5,311.3 173.2,310.4 171.9,311.3 172.3,309.8 171.1,308.8 172.7,308.8"/><polygon points="174.2,307.4 174.8,308.9 176.3,309 175.1,309.9 175.5,311.4 174.2,310.6 172.9,311.4 173.3,309.9 172.1,309 173.7,308.9"/><polygon points="175.2,307.7 175.8,309.1 177.3,309.2 176.1,310.2 176.5,311.7 175.2,310.8 173.9,311.7 174.3,310.2 173.1,309.2 174.7,309.1"/><polygon points="176.2,307.7 176.8,309.2 178.3,309.2 177.1,310.2 177.5,311.7 176.2,310.8 174.9,311.7 175.3,310.2 174.1,309.2 175.7,309.2"/><polygon points="177.2,307.6 177.7,309 179.3,309.1 178.1,310.1 178.5,311.6 177.2,310.7 175.9,311.6 176.3,310.1 175.1,309.1 176.6,309"/><polygon points="178.2,307.5 178.7,309 180.3,309.1 179.1,310 179.5,311.5 178.2,310.7 176.9,311.5 177.3,310 176.1,309.1 177.6,309"/><polygon points="179.2,307.5 179.7,308.9 181.3,309 180.1,310 180.5,311.5 179.2,310.6 177.9,311.5 178.3,310 177.1,309 178.6,308.9"/><polygon points="180.2,307.5 180.7,308.9 182.3,309 181,310 181.5,311.5 180.2,310.6 178.9,311.5 179.3,310 178.1,309 179.6,308.9"/><polygon points="181.1,307.7 181.7,309.2 183.2,309.3 182,310.2 182.4,311.7 181.1,310.9 179.8,311.7 180.3,310.2 179,309.3 180.6,309.2"/><polygon points="182.1,307.8 182.7,309.3 184.2,309.3 183,310.3 183.4,311.8 182.1,310.9 180.8,311.8 181.2,310.3 180,309.3 181.6,309.3"/><polygon points="183.1,307.9 183.7,309.4 185.2,309.5 184,310.4 184.4,311.9 183.1,311.1 181.8,311.9 182.2,310.4 181,309.5 182.6,309.4"/><polygon points="184.1,307.9 184.7,309.3 186.2,309.4 185,310.4 185.4,311.9 184.1,311 182.8,311.9 183.2,310.4 182,309.4 183.6,309.3"/><polygon points="185.1,308 185.6,309.4 187.2,309.5 186,310.5 186.4,312 185.1,311.1 183.8,312 184.2,310.5 183,309.5 184.5,309.4"/><polygon points="186.1,308.2 186.6,309.6 188.2,309.7 187,310.7 187.4,312.2 186.1,311.3 184.8,312.2 185.2,310.7 184,309.7 185.5,309.6"/><polygon points="187.1,308.1 187.6,309.6 189.2,309.7 188,310.6 188.4,312.1 187.1,311.3 185.8,312.1 186.2,310.6 185,309.7 186.5,309.6"/><polygon points="188.1,308 188.6,309.5 190.2,309.5 189,310.5 189.4,312 188.1,311.2 186.8,312 187.2,310.5 186,309.5 187.5,309.5"/><polygon points="189.1,308.3 189.6,309.7 191.2,309.8 189.9,310.8 190.4,312.3 189.1,311.4 187.8,312.3 188.2,310.8 187,309.8 188.5,309.7"/><polygon points="190,308.2 190.6,309.6 192.1,309.7 190.9,310.7 191.3,312.2 190,311.3 188.7,312.2 189.2,310.7 187.9,309.7 189.5,309.6"/><polygon points="191,308.5 191.6,309.9 193.1,310 191.9,311 192.3,312.5 191,311.6 189.7,312.5 190.1,311 188.9,310 190.5,309.9"/><polygon points="192,308.6 192.6,310.1 194.1,310.2 192.9,311.1 193.3,312.6 192,311.8 190.7,312.6 191.1,311.1 189.9,310.2 191.5,310.1"/><polygon points="193,308.8 193.6,310.2 195.1,310.3 193.9,311.3 194.3,312.8 193,311.9 191.7,312.8 192.1,311.3 190.9,310.3 192.5,310.2"/><polygon points="194,308.6 194.5,310.1 196.1,310.2 194.9,311.1 195.3,312.6 194,311.8 192.7,312.6 193.1,311.1 191.9,310.2 193.4,310.1"/><polygon points="195,308.5 195.5,310 197.1,310 195.9,311 196.3,312.5 195,311.6 193.7,312.5 194.1,311 192.9,310 194.4,310"/><polygon points="196,308.5 196.5,309.9 198.1,310 196.9,311 197.3,312.5 196,311.6 194.7,312.5 195.1,311 193.9,310 195.4,309.9"/><polygon points="197,308.6 197.5,310.1 199.1,310.2 197.8,311.1 198.3,312.6 197,311.8 195.7,312.6 196.1,311.1 194.9,310.2 196.4,310.1"/><polygon points="197.9,308.5 198.5,310 200.1,310.1 198.8,311 199.2,312.5 197.9,311.7 196.6,312.5 197.1,311 195.8,310.1 197.4,310"/><polygon points="198.9,308.7 199.5,310.1 201,310.2 199.8,311.2 200.2,312.7 198.9,311.8 197.6,312.7 198,311.2 196.8,310.2 198.4,310.1"/><polygon points="199.9,308.8 200.5,310.3 202,310.4 200.8,311.3 201.2,312.8 199.9,312 198.6,312.8 199,311.3 197.8,310.4 199.4,310.3"/><polygon points="200.9,308.7 201.5,310.1 203,310.2 201.8,311.2 202.2,312.7 200.9,311.8 199.6,312.7 200,311.2 198.8,310.2 200.4,310.1"/><polygon points="201.9,308.7 202.5,310.1 204,310.2 202.8,311.2 203.2,312.7 201.9,311.8 200.6,312.7 201,311.2 199.8,310.2 201.4,310.1"/><polygon points="202.9,308.6 203.4,310.1 205,310.2 203.8,311.1 204.2,312.6 202.9,311.8 201.6,312.6 202,311.1 200.8,310.2 202.3,310.1"/><polygon points="203.9,308.7 204.4,310.1 206,310.2 204.8,311.1 205.2,312.6 203.9,311.8 202.6,312.6 203,311.1 201.8,310.2 203.3,310.1"/><polygon points="204.9,308.5 205.4,310 207,310 205.8,311 206.2,312.5 204.9,311.7 203.6,312.5 204,311 202.8,310 204.3,310"/><polygon points="205.9,308.7 206.4,310.1 208,310.2 206.7,311.2 207.2,312.7 205.9,311.8 204.6,312.7 205,311.2 203.8,310.2 205.3,310.1"/><polygon points="206.8,308.6 207.4,310.1 208.9,310.1 207.7,311.1 208.1,312.6 206.8,311.7 205.5,312.6 206,311.1 204.7,310.1 206.3,310.1"/><polygon points="207.8,308.6 208.4,310.1 209.9,310.1 208.7,311.1 209.1,312.6 207.8,311.8 206.5,312.6 206.9,311.1 205.7,310.1 207.3,310.1"/><polygon points="208.8,308.5 209.4,310 210.9,310.1 209.7,311 210.1,312.5 208.8,311.7 207.5,312.5 207.9,311 206.7,310.1 208.3,310"/><polygon points="209.8,308.6 210.4,310.1 211.9,310.2 210.7,311.1 211.1,312.6 209.8,311.8 208.5,312.6 208.9,311.1 207.7,310.2 209.3,310.1"/><polygon points="210.8,308.6 211.3,310 212.9,310.1 211.7,311.1 212.1,312.6 210.8,311.7 209.5,312.6 209.9,311.1 208.7,310.1 210.2,310"/><polygon points="211.8,308.6 212.3,310 213.9,310.1 212.7,311.1 213.1,312.6 211.8,311.7 210.5,312.6 210.9,311.1 209.7,310.1 211.2,310"/><polygon points="212.8,308.7 213.3,310.1 214.9,310.2 213.7,311.2 214.1,312.7 212.8,311.8 211.5,312.7 211.9,311.2 210.7,310.2 212.2,310.1"/><polygon points="213.8,308.8 214.3,310.3 215.9,310.3 214.7,311.3 215.1,312.8 213.8,311.9 212.5,312.8 212.9,311.3 211.7,310.3 213.2,310.3"/><polygon points="214.8,308.7 215.3,310.1 216.9,310.2 215.6,311.2 216.1,312.7 214.8,311.8 213.5,312.7 213.9,311.2 212.7,310.2 214.2,310.1"/><polygon points="215.7,308.8 216.3,310.3 217.8,310.4 216.6,311.3 217,312.8 215.7,312 214.4,312.8 214.9,311.3 213.6,310.4 215.2,310.3"/><polygon points="216.7,308.6 217.3,310 218.8,310.1 217.6,311.1 218,312.6 216.7,311.7 215.4,312.6 215.8,311.1 214.6,310.1 216.2,310"/><polygon points="217.7,308.7 218.3,310.2 219.8,310.2 218.6,311.2 219,312.7 217.7,311.8 216.4,312.7 216.8,311.2 215.6,310.2 217.2,310.2"/><polygon points="218.7,308.8 219.3,310.3 220.8,310.4 219.6,311.3 220,312.8 218.7,312 217.4,312.8 217.8,311.3 216.6,310.4 218.2,310.3"/><polygon points="219.7,308.9 220.2,310.3 221.8,310.4 220.6,311.4 221,312.9 219.7,312 218.4,312.9 218.8,311.4 217.6,310.4 219.1,310.3"/><polygon points="220.7,308.6 221.2,310 222.8,310.1 221.6,311.1 222,312.6 220.7,311.7 219.4,312.6 219.8,311.1 218.6,310.1 220.1,310"/><polygon points="221.7,308.6 222.2,310.1 223.8,310.2 222.6,311.1 223,312.6 221.7,311.8 220.4,312.6 220.8,311.1 219.6,310.2 221.1,310.1"/><polygon points="222.7,308.8 223.2,310.2 224.8,310.3 223.6,311.3 224,312.8 222.7,311.9 221.4,312.8 221.8,311.3 220.6,310.3 222.1,310.2"/><polygon points="223.6,308.9 224.2,310.4 225.8,310.5 224.5,311.4 224.9,312.9 223.6,312.1 222.4,312.9 222.8,311.4 221.5,310.5 223.1,310.4"/><polygon points="224.6,309 225.2,310.5 226.7,310.6 225.5,311.5 225.9,313 224.6,312.2 223.3,313 223.7,311.5 222.5,310.6 224.1,310.5"/><polygon points="225.6,308.8 226.2,310.3 227.7,310.4 226.5,311.3 226.9,312.8 225.6,312 224.3,312.8 224.7,311.3 223.5,310.4 225.1,310.3"/><polygon points="226.6,308.7 227.2,310.2 228.7,310.3 227.5,311.2 227.9,312.7 226.6,311.9 225.3,312.7 225.7,311.2 224.5,310.3 226.1,310.2"/><polygon points="227.6,308.6 228.2,310.1 229.7,310.2 228.5,311.1 228.9,312.6 227.6,311.8 226.3,312.6 226.7,311.1 225.5,310.2 227.1,310.1"/><polygon points="228.6,308.6 229.1,310 230.7,310.1 229.5,311.1 229.9,312.6 228.6,311.7 227.3,312.6 227.7,311.1 226.5,310.1 228,310"/><polygon points="229.6,308.8 230.1,310.3 231.7,310.3 230.5,311.3 230.9,312.8 229.6,311.9 228.3,312.8 228.7,311.3 227.5,310.3 229,310.3"/><polygon points="230.6,308.8 231.1,310.2 232.7,310.3 231.5,311.3 231.9,312.8 230.6,311.9 229.3,312.8 229.7,311.3 228.5,310.3 230,310.2"/><polygon points="231.6,308.9 232.1,310.3 233.7,310.4 232.4,311.4 232.9,312.9 231.6,312 230.3,312.9 230.7,311.4 229.5,310.4 231,310.3"/><polygon points="232.5,308.8 233.1,310.3 234.6,310.3 233.4,311.3 233.8,312.8 232.5,311.9 231.2,312.8 231.7,311.3 230.4,310.3 232,310.3"/><polygon points="233.5,308.8 234.1,310.2 235.6,310.3 234.4,311.3 234.8,312.8 233.5,311.9 232.2,312.8 232.6,311.3 231.4,310.3 233,310.2"/><polygon points="234.5,308.7 235.1,310.2 236.6,310.3 235.4,311.2 235.8,312.7 234.5,311.9 233.2,312.7 233.6,311.2 232.4,310.3 234,310.2"/><polygon points="235.5,309.1 236.1,310.5 237.6,310.6 236.4,311.6 236.8,313.1 235.5,312.2 234.2,313.1 234.6,311.6 233.4,310.6 235,310.5"/><polygon points="236.5,309 237,310.5 238.6,310.5 237.4,311.5 237.8,313 236.5,312.2 235.2,313 235.6,311.5 234.4,310.5 236,310.5"/></g>
<g fill="#8a18f0"><polygon points="41.9,281.9 38.3,280 38.3,283.9"/><polygon points="42.8,282.9 39.3,280.9 39.3,284.9"/><polygon points="43.8,283.7 40.3,281.7 40.3,285.7"/><polygon points="44.8,285 41.3,283.1 41.3,287"/><polygon points="45.8,286.4 42.3,284.4 42.3,288.4"/><polygon points="46.8,287 43.3,285 43.3,289"/><polygon points="47.8,286.7 44.3,284.7 44.3,288.6"/><polygon points="48.8,286.5 45.3,284.6 45.3,288.5"/><polygon points="49.8,286.7 46.3,284.7 46.3,288.7"/><polygon points="50.8,286.7 47.2,284.7 47.2,288.7"/><polygon points="51.7,286.9 48.2,284.9 48.2,288.9"/><polygon points="52.7,287.4 49.2,285.4 49.2,289.4"/><polygon points="53.7,288 50.2,286 50.2,290"/><polygon points="54.7,288.5 51.2,286.5 51.2,290.5"/><polygon points="55.7,288.2 52.2,286.2 52.2,290.2"/><polygon points="56.7,288.6 53.2,286.6 53.2,290.6"/><polygon points="57.7,288.8 54.2,286.8 54.2,290.8"/><polygon points="58.7,288.9 55.2,286.9 55.2,290.9"/><polygon points="59.7,289.4 56.1,287.4 56.1,291.4"/><polygon points="60.6,289.6 57.1,287.6 57.1,291.6"/><polygon points="61.6,289.7 58.1,287.7 58.1,291.7"/><polygon points="62.6,289.3 59.1,287.4 59.1,291.3"/><polygon points="63.6,289.5 60.1,287.5 60.1,291.5"/><polygon points="64.6,289.7 61.1,287.7 61.1,291.7"/><polygon points="65.6,289.2 62.1,287.2 62.1,291.1"/><polygon points="66.6,289.3 63.1,287.3 63.1,291.3"/><polygon points="67.6,289.1 64,287.1 64,291.1"/><polygon points="68.5,289.2 65,287.2 65,291.2"/><polygon points="69.5,290 66,288 66,291.9"/><polygon points="70.5,290.1 67,288.2 67,292.1"/><polygon points="71.5,290.2 68,288.3 68,292.2"/><polygon points="72.5,290 69,288 69,292"/><polygon points="73.5,290.3 70,288.3 70,292.3"/><polygon points="74.5,290.1 71,288.1 71,292.1"/><polygon points="75.5,290.2 72,288.2 72,292.2"/><polygon points="76.5,290.7 72.9,288.7 72.9,292.7"/><polygon points="77.4,290.3 73.9,288.3 73.9,292.3"/><polygon points="78.4,290.9 74.9,289 74.9,292.9"/><polygon points="79.4,290.6 75.9,288.6 75.9,292.6"/><polygon points="80.4,291.1 76.9,289.1 76.9,293.1"/><polygon points="81.4,291.6 77.9,289.6 77.9,293.6"/><polygon points="82.4,291.7 78.9,289.7 78.9,293.7"/><polygon points="83.4,291.1 79.9,289.1 79.9,293.1"/><polygon points="84.4,290.5 80.9,288.5 80.9,292.5"/><polygon points="85.4,291.1 81.8,289.1 81.8,293.1"/><polygon points="86.3,291 82.8,289 82.8,293"/><polygon points="87.3,290.9 83.8,288.9 83.8,292.9"/><polygon points="88.3,290.5 84.8,288.5 84.8,292.5"/><polygon points="89.3,290.9 85.8,288.9 85.8,292.9"/><polygon points="90.3,290.8 86.8,288.8 86.8,292.8"/><polygon points="91.3,290.9 87.8,288.9 87.8,292.9"/><polygon points="92.3,290.6 88.8,288.6 88.8,292.6"/><polygon points="93.3,291 89.8,289 89.8,293"/><polygon points="94.2,290.6 90.7,288.6 90.7,292.6"/><polygon points="95.2,291 91.7,289 91.7,293"/><polygon points="96.2,291.5 92.7,289.5 92.7,293.4"/><polygon points="97.2,291.3 93.7,289.3 93.7,293.2"/><polygon points="98.2,291.4 94.7,289.4 94.7,293.4"/><polygon points="99.2,291.9 95.7,289.9 95.7,293.9"/><polygon points="100.2,291.8 96.7,289.8 96.7,293.7"/><polygon points="101.2,292.2 97.7,290.3 97.7,294.2"/><polygon points="102.2,291.8 98.6,289.9 98.6,293.8"/><polygon points="103.1,291.7 99.6,289.7 99.6,293.7"/><polygon points="104.1,291.5 100.6,289.5 100.6,293.5"/><polygon points="105.1,291.5 101.6,289.5 101.6,293.5"/><polygon points="106.1,291.9 102.6,289.9 102.6,293.9"/><polygon points="107.1,292.1 103.6,290.1 103.6,294.1"/><polygon points="108.1,292.3 104.6,290.3 104.6,294.3"/><polygon points="109.1,291.9 105.6,289.9 105.6,293.9"/><polygon points="110.1,292.5 106.6,290.5 106.6,294.5"/><polygon points="111.1,292.1 107.5,290.1 107.5,294.1"/><polygon points="112,292.8 108.5,290.8 108.5,294.8"/><polygon points="113,293.1 109.5,291.1 109.5,295.1"/><polygon points="114,293.3 110.5,291.3 110.5,295.2"/><polygon points="115,292.7 111.5,290.7 111.5,294.7"/><polygon points="116,292.8 112.5,290.8 112.5,294.8"/><polygon points="117,293 113.5,291 113.5,295"/><polygon points="118,292.6 114.5,290.6 114.5,294.6"/><polygon points="119,293 115.5,291.1 115.5,295"/><polygon points="119.9,293.1 116.4,291.2 116.4,295.1"/><polygon points="120.9,293.2 117.4,291.2 117.4,295.1"/><polygon points="121.9,292.9 118.4,291 118.4,294.9"/><polygon points="122.9,292.8 119.4,290.8 119.4,294.8"/><polygon points="123.9,292.8 120.4,290.9 120.4,294.8"/><polygon points="124.9,293.2 121.4,291.2 121.4,295.2"/><polygon points="125.9,293.5 122.4,291.5 122.4,295.5"/><polygon points="126.9,294 123.4,292 123.4,295.9"/><polygon points="127.9,293.5 124.3,291.6 124.3,295.5"/><polygon points="128.8,293.5 125.3,291.5 125.3,295.4"/><polygon points="129.8,293.3 126.3,291.4 126.3,295.3"/><polygon points="130.8,293.9 127.3,291.9 127.3,295.9"/><polygon points="131.8,294 128.3,292 128.3,296"/><polygon points="132.8,293.7 129.3,291.8 129.3,295.7"/><polygon points="133.8,293.8 130.3,291.8 130.3,295.8"/><polygon points="134.8,294.3 131.3,292.4 131.3,296.3"/><polygon points="135.8,294.4 132.3,292.4 132.3,296.4"/><polygon points="136.8,294 133.2,292 133.2,296"/><polygon points="137.7,294.4 134.2,292.4 134.2,296.4"/><polygon points="138.7,294.8 135.2,292.8 135.2,296.8"/><polygon points="139.7,295 136.2,293 136.2,296.9"/><polygon points="140.7,294.7 137.2,292.7 137.2,296.6"/><polygon points="141.7,294.3 138.2,292.3 138.2,296.3"/><polygon points="142.7,294.8 139.2,292.9 139.2,296.8"/><polygon points="143.7,295.2 140.2,293.2 140.2,297.2"/><polygon points="144.7,295.4 141.2,293.4 141.2,297.4"/><polygon points="145.7,295.5 142.1,293.5 142.1,297.5"/><polygon points="146.6,295.4 143.1,293.4 143.1,297.3"/><polygon points="147.6,295.7 144.1,293.7 144.1,297.6"/><polygon points="148.6,295.8 145.1,293.8 145.1,297.8"/><polygon points="149.6,296 146.1,294.1 146.1,298"/><polygon points="150.6,295.4 147.1,293.4 147.1,297.4"/><polygon points="151.6,295.2 148.1,293.3 148.1,297.2"/><polygon points="152.6,295.9 149.1,293.9 149.1,297.8"/><polygon points="153.6,295.4 150,293.4 150,297.4"/><polygon points="154.5,296.2 151,294.3 151,298.2"/><polygon points="155.5,296.8 152,294.8 152,298.7"/><polygon points="156.5,296.6 153,294.6 153,298.6"/><polygon points="157.5,296.8 154,294.9 154,298.8"/><polygon points="158.5,297.1 155,295.1 155,299.1"/><polygon points="159.5,297.7 156,295.7 156,299.6"/><polygon points="160.5,298.4 157,296.5 157,300.4"/><polygon points="161.5,298.5 158,296.5 158,300.5"/><polygon points="162.5,298.9 158.9,297 158.9,300.9"/><polygon points="163.4,299.2 159.9,297.2 159.9,301.1"/><polygon points="164.4,299.1 160.9,297.2 160.9,301.1"/><polygon points="165.4,299.5 161.9,297.5 161.9,301.5"/><polygon points="166.4,299.4 162.9,297.4 162.9,301.3"/><polygon points="167.4,298.8 163.9,296.8 163.9,300.8"/><polygon points="168.4,298.6 164.9,296.6 164.9,300.5"/><polygon points="169.4,298.6 165.9,296.6 165.9,300.5"/><polygon points="170.4,298.4 166.9,296.5 166.9,300.4"/><polygon points="171.4,298.5 167.8,296.5 167.8,300.5"/><polygon points="172.3,298.9 168.8,297 168.8,300.9"/><polygon points="173.3,298.7 169.8,296.7 169.8,300.7"/><polygon points="174.3,298.9 170.8,296.9 170.8,300.9"/><polygon points="175.3,298.6 171.8,296.7 171.8,300.6"/><polygon points="176.3,298.3 172.8,296.3 172.8,300.3"/><polygon points="177.3,298.6 173.8,296.6 173.8,300.6"/><polygon points="178.3,298.7 174.8,296.7 174.8,300.7"/><polygon points="179.3,298.6 175.8,296.6 175.8,300.6"/><polygon points="180.2,298.9 176.7,296.9 176.7,300.9"/><polygon points="181.2,299.3 177.7,297.3 177.7,301.3"/><polygon points="182.2,299.1 178.7,297.1 178.7,301.1"/><polygon points="183.2,298.8 179.7,296.9 179.7,300.8"/><polygon points="184.2,298.8 180.7,296.8 180.7,300.7"/><polygon points="185.2,298.8 181.7,296.8 181.7,300.8"/><polygon points="186.2,298.7 182.7,296.8 182.7,300.7"/><polygon points="187.2,298.9 183.7,296.9 183.7,300.9"/><polygon points="188.2,299.1 184.6,297.2 184.6,301.1"/><polygon points="189.1,299.5 185.6,297.6 185.6,301.5"/><polygon points="190.1,300 186.6,298 186.6,302"/><polygon points="191.1,300.1 187.6,298.1 187.6,302"/><polygon points="192.1,300.7 188.6,298.7 188.6,302.7"/><polygon points="193.1,300.9 189.6,298.9 189.6,302.8"/><polygon points="194.1,300.6 190.6,298.6 190.6,302.6"/><polygon points="195.1,300.5 191.6,298.6 191.6,302.5"/><polygon points="196.1,300.6 192.6,298.6 192.6,302.6"/><polygon points="197.1,301.1 193.5,299.2 193.5,303.1"/><polygon points="198,301.3 194.5,299.4 194.5,303.3"/><polygon points="199,301.6 195.5,299.6 195.5,303.6"/><polygon points="200,301.6 196.5,299.6 196.5,303.6"/><polygon points="201,301.9 197.5,299.9 197.5,303.9"/><polygon points="202,301.9 198.5,299.9 198.5,303.9"/><polygon points="203,301.7 199.5,299.7 199.5,303.7"/><polygon points="204,302.4 200.5,300.4 200.5,304.4"/><polygon points="205,302.5 201.5,300.6 201.5,304.5"/><polygon points="205.9,302.6 202.4,300.6 202.4,304.6"/><polygon points="206.9,303.2 203.4,301.2 203.4,305.1"/><polygon points="207.9,303.5 204.4,301.5 204.4,305.5"/><polygon points="208.9,303.3 205.4,301.4 205.4,305.3"/><polygon points="209.9,304.3 206.4,302.3 206.4,306.3"/><polygon points="210.9,304.6 207.4,302.6 207.4,306.5"/><polygon points="211.9,305.2 208.4,303.3 208.4,307.2"/><polygon points="212.9,305.2 209.4,303.2 209.4,307.1"/><polygon points="213.9,305 210.3,303 210.3,307"/><polygon points="214.8,305.5 211.3,303.5 211.3,307.4"/><polygon points="215.8,306.3 212.3,304.3 212.3,308.3"/><polygon points="216.8,306.5 213.3,304.5 213.3,308.5"/><polygon points="217.8,306.8 214.3,304.8 214.3,308.8"/><polygon points="218.8,306.8 215.3,304.8 215.3,308.8"/><polygon points="219.8,307.1 216.3,305.1 216.3,309.1"/><polygon points="220.8,307.2 217.3,305.3 217.3,309.2"/><polygon points="221.8,307.2 218.3,305.2 218.3,309.2"/><polygon points="222.8,307.6 219.2,305.6 219.2,309.6"/><polygon points="223.7,308 220.2,306 220.2,310"/><polygon points="224.7,307.8 221.2,305.8 221.2,309.7"/><polygon points="225.7,308.5 222.2,306.5 222.2,310.4"/><polygon points="226.7,308.5 223.2,306.5 223.2,310.5"/><polygon points="227.7,308.9 224.2,306.9 224.2,310.9"/><polygon points="228.7,308.8 225.2,306.8 225.2,310.8"/><polygon points="229.7,309.5 226.2,307.5 226.2,311.5"/><polygon points="230.7,309.2 227.2,307.2 227.2,311.1"/><polygon points="231.7,309.6 228.1,307.6 228.1,311.6"/><polygon points="232.6,310.3 229.1,308.4 229.1,312.3"/><polygon points="233.6,311 230.1,309 230.1,312.9"/><polygon points="234.6,311.4 231.1,309.4 231.1,313.4"/><polygon points="235.6,312.3 232.1,310.3 232.1,314.3"/><polygon points="236.6,312.7 233.1,310.7 233.1,314.7"/><polygon points="237.6,313.1 234.1,311.2 234.1,315.1"/><polygon points="238.6,313.3 235.1,311.3 235.1,315.3"/></g>
<g fill="#8a0f8a"><circle cx="39.8" cy="240.9" r="2.2"/><circle cx="40.8" cy="276.6" r="2.2"/><circle cx="41.8" cy="280.9" r="2.2"/><circle cx="42.8" cy="282.1" r="2.2"/><circle cx="43.7" cy="283.2" r="2.2"/><circle cx="44.7" cy="283.6" r="2.2"/><circle cx="45.7" cy="284.3" r="2.2"/><circle cx="46.7" cy="284.2" r="2.2"/><circle cx="47.7" cy="284.7" r="2.2"/><circle cx="48.7" cy="285.4" r="2.2"/><circle cx="49.7" cy="285.9" r="2.2"/><circle cx="50.7" cy="285.5" r="2.2"/><circle cx="51.7" cy="285.3" r="2.2"/><circle cx="52.6" cy="285.3" r="2.2"/><circle cx="53.6" cy="285.6" r="2.2"/><circle cx="54.6" cy="285.7" r="2.2"/><circle cx="55.6" cy="286.2" r="2.2"/><circle cx="56.6" cy="285.8" r="2.2"/><circle cx="57.6" cy="286.2" r="2.2"/><circle cx="58.6" cy="286.3" r="2.2"/><circle cx="59.6" cy="286.1" r="2.2"/><circle cx="60.5" cy="286" r="2.2"/><circle cx="61.5" cy="286.4" r="2.2"/><circle cx="62.5" cy="286.9" r="2.2"/><circle cx="63.5" cy="287" r="2.2"/><circle cx="64.5" cy="287.6" r="2.2"/><circle cx="65.5" cy="287.2" r="2.2"/><circle cx="66.5" cy="287.6" r="2.2"/><circle cx="67.5" cy="287.3" r="2.2"/><circle cx="68.5" cy="287.7" r="2.2"/><circle cx="69.4" cy="288" r="2.2"/><circle cx="70.4" cy="288.3" r="2.2"/><circle cx="71.4" cy="288.4" r="2.2"/><circle cx="72.4" cy="288.8" r="2.2"/><circle cx="73.4" cy="289.2" r="2.2"/><circle cx="74.4" cy="288.8" r="2.2"/><circle cx="75.4" cy="289" r="2.2"/><circle cx="76.4" cy="289.2" r="2.2"/><circle cx="77.4" cy="289.4" r="2.2"/><circle cx="78.3" cy="289.3" r="2.2"/><circle cx="79.3" cy="289.3" r="2.2"/><circle cx="80.3" cy="289" r="2.2"/><circle cx="81.3" cy="288.9" r="2.2"/><circle cx="82.3" cy="289.1" r="2.2"/><circle cx="83.3" cy="288.6" r="2.2"/><circle cx="84.3" cy="288.4" r="2.2"/><circle cx="85.3" cy="289.2" r="2.2"/><circle cx="86.2" cy="288.9" r="2.2"/><circle cx="87.2" cy="288.6" r="2.2"/><circle cx="88.2" cy="288.5" r="2.2"/><circle cx="89.2" cy="289.2" r="2.2"/><circle cx="90.2" cy="289" r="2.2"/><circle cx="91.2" cy="289.1" r="2.2"/><circle cx="92.2" cy="289.9" r="2.2"/><circle cx="93.2" cy="290.5" r="2.2"/><circle cx="94.2" cy="289.9" r="2.2"/><circle cx="95.1" cy="289.9" r="2.2"/><circle cx="96.1" cy="290.3" r="2.2"/><circle cx="97.1" cy="290.9" r="2.2"/><circle cx="98.1" cy="291.2" r="2.2"/><circle cx="99.1" cy="291.4" r="2.2"/><circle cx="100.1" cy="290.9" r="2.2"/><circle cx="101.1" cy="291" r="2.2"/><circle cx="102.1" cy="291.4" r="2.2"/><circle cx="103.1" cy="290.8" r="2.2"/><circle cx="104" cy="290.5" r="2.2"/><circle cx="105" cy="291.1" r="2.2"/><circle cx="106" cy="290.6" r="2.2"/><circle cx="107" cy="290.7" r="2.2"/><circle cx="108" cy="290.5" r="2.2"/><circle cx="109" cy="290.6" r="2.2"/><circle cx="110" cy="290.4" r="2.2"/><circle cx="111" cy="290.3" r="2.2"/><circle cx="111.9" cy="290.3" r="2.2"/><circle cx="112.9" cy="291" r="2.2"/><circle cx="113.9" cy="291" r="2.2"/><circle cx="114.9" cy="291.2" r="2.2"/><circle cx="115.9" cy="291.1" r="2.2"/><circle cx="116.9" cy="291.4" r="2.2"/><circle cx="117.9" cy="291.1" r="2.2"/><circle cx="118.9" cy="291.3" r="2.2"/><circle cx="119.9" cy="291.8" r="2.2"/><circle cx="120.8" cy="292.3" r="2.2"/><circle cx="121.8" cy="292.7" r="2.2"/><circle cx="122.8" cy="292.6" r="2.2"/><circle cx="123.8" cy="293.1" r="2.2"/><circle cx="124.8" cy="293" r="2.2"/><circle cx="125.8" cy="293.3" r="2.2"/><circle cx="126.8" cy="293.1" r="2.2"/><circle cx="127.8" cy="293" r="2.2"/><circle cx="128.8" cy="292.9" r="2.2"/><circle cx="129.7" cy="292.5" r="2.2"/><circle cx="130.7" cy="293.2" r="2.2"/><circle cx="131.7" cy="292.7" r="2.2"/><circle cx="132.7" cy="292.9" r="2.2"/><circle cx="133.7" cy="292.9" r="2.2"/><circle cx="134.7" cy="292.8" r="2.2"/><circle cx="135.7" cy="292.5" r="2.2"/><circle cx="136.7" cy="292.9" r="2.2"/><circle cx="137.7" cy="293.1" r="2.2"/><circle cx="138.6" cy="292.7" r="2.2"/><circle cx="139.6" cy="293.4" r="2.2"/><circle cx="140.6" cy="293.3" r="2.2"/><circle cx="141.6" cy="293.3" r="2.2"/><circle cx="142.6" cy="293.9" r="2.2"/><circle cx="143.6" cy="293.8" r="2.2"/><circle cx="144.6" cy="293.6" r="2.2"/><circle cx="145.6" cy="293.2" r="2.2"/><circle cx="146.5" cy="293.7" r="2.2"/><circle cx="147.5" cy="293.3" r="2.2"/><circle cx="148.5" cy="293.6" r="2.2"/><circle cx="149.5" cy="293.9" r="2.2"/><circle cx="150.5" cy="293.6" r="2.2"/><circle cx="151.5" cy="294.5" r="2.2"/><circle cx="152.5" cy="294.6" r="2.2"/><circle cx="153.5" cy="295" r="2.2"/><circle cx="154.5" cy="295.7" r="2.2"/><circle cx="155.4" cy="295.7" r="2.2"/><circle cx="156.4" cy="296.4" r="2.2"/><circle cx="157.4" cy="296.8" r="2.2"/><circle cx="158.4" cy="297.1" r="2.2"/><circle cx="159.4" cy="297" r="2.2"/><circle cx="160.4" cy="297.5" r="2.2"/><circle cx="161.4" cy="297.5" r="2.2"/><circle cx="162.4" cy="297.6" r="2.2"/><circle cx="163.4" cy="297.5" r="2.2"/><circle cx="164.3" cy="297.1" r="2.2"/><circle cx="165.3" cy="297.4" r="2.2"/><circle cx="166.3" cy="297" r="2.2"/><circle cx="167.3" cy="297.2" r="2.2"/><circle cx="168.3" cy="297.3" r="2.2"/><circle cx="169.3" cy="297.6" r="2.2"/><circle cx="170.3" cy="297.5" r="2.2"/><circle cx="171.3" cy="296.9" r="2.2"/><circle cx="172.2" cy="297" r="2.2"/><circle cx="173.2" cy="296.8" r="2.2"/><circle cx="174.2" cy="297.3" r="2.2"/><circle cx="175.2" cy="297.7" r="2.2"/><circle cx="176.2" cy="298" r="2.2"/><circle cx="177.2" cy="297.9" r="2.2"/><circle cx="178.2" cy="297.8" r="2.2"/><circle cx="179.2" cy="297.6" r="2.2"/><circle cx="180.2" cy="298.3" r="2.2"/><circle cx="181.1" cy="298.1" r="2.2"/><circle cx="182.1" cy="297.7" r="2.2"/><circle cx="183.1" cy="297.9" r="2.2"/><circle cx="184.1" cy="298.6" r="2.2"/><circle cx="185.1" cy="298.9" r="2.2"/><circle cx="186.1" cy="299.5" r="2.2"/><circle cx="187.1" cy="299.8" r="2.2"/><circle cx="188.1" cy="299.2" r="2.2"/><circle cx="189.1" cy="299.1" r="2.2"/><circle cx="190" cy="299.1" r="2.2"/><circle cx="191" cy="298.9" r="2.2"/><circle cx="192" cy="298.7" r="2.2"/><circle cx="193" cy="298.9" r="2.2"/><circle cx="194" cy="299.1" r="2.2"/><circle cx="195" cy="299.3" r="2.2"/><circle cx="196" cy="299.4" r="2.2"/><circle cx="197" cy="299.7" r="2.2"/><circle cx="197.9" cy="299.8" r="2.2"/><circle cx="198.9" cy="300.5" r="2.2"/><circle cx="199.9" cy="300.6" r="2.2"/><circle cx="200.9" cy="300.9" r="2.2"/><circle cx="201.9" cy="300.8" r="2.2"/><circle cx="202.9" cy="301.7" r="2.2"/><circle cx="203.9" cy="302.3" r="2.2"/><circle cx="204.9" cy="303" r="2.2"/><circle cx="205.9" cy="302.8" r="2.2"/><circle cx="206.8" cy="302.5" r="2.2"/><circle cx="207.8" cy="302.7" r="2.2"/><circle cx="208.8" cy="303.2" r="2.2"/><circle cx="209.8" cy="303.2" r="2.2"/><circle cx="210.8" cy="303.3" r="2.2"/><circle cx="211.8" cy="303.8" r="2.2"/><circle cx="212.8" cy="304.5" r="2.2"/><circle cx="213.8" cy="305.1" r="2.2"/><circle cx="214.8" cy="305.5" r="2.2"/><circle cx="215.7" cy="306" r="2.2"/><circle cx="216.7" cy="306.2" r="2.2"/><circle cx="217.7" cy="306.2" r="2.2"/><circle cx="218.7" cy="305.9" r="2.2"/><circle cx="219.7" cy="306.8" r="2.2"/><circle cx="220.7" cy="306.9" r="2.2"/><circle cx="221.7" cy="307.6" r="2.2"/><circle cx="222.7" cy="308.1" r="2.2"/><circle cx="223.6" cy="307.7" r="2.2"/><circle cx="224.6" cy="307.7" r="2.2"/><circle cx="225.6" cy="307.4" r="2.2"/><circle cx="226.6" cy="307.7" r="2.2"/><circle cx="227.6" cy="308.6" r="2.2"/><circle cx="228.6" cy="308.8" r="2.2"/><circle cx="229.6" cy="308.7" r="2.2"/><circle cx="230.6" cy="308.4" r="2.2"/><circle cx="231.6" cy="308.4" r="2.2"/><circle cx="232.5" cy="309.1" r="2.2"/><circle cx="233.5" cy="309.9" r="2.2"/><circle cx="234.5" cy="311" r="2.2"/><circle cx="235.5" cy="311.3" r="2.2"/><circle cx="236.5" cy="312.2" r="2.2"/></g>
<g fill="#10108a"><polygon points="37.5,236.1 41.4,233.9 41.4,238.3"/><polygon points="38.5,274.2 42.4,272 42.4,276.4"/><polygon points="39.5,276.9 43.4,274.7 43.4,279.1"/><polygon points="40.5,277.5 44.4,275.3 44.4,279.7"/><polygon points="41.4,278.6 45.3,276.4 45.3,280.8"/><polygon points="42.4,278.4 46.3,276.2 46.3,280.6"/><polygon points="43.4,278.9 47.3,276.7 47.3,281.1"/><polygon points="44.4,278.8 48.3,276.6 48.3,281"/><polygon points="45.4,279.3 49.3,277.1 49.3,281.5"/><polygon points="46.4,279.8 50.3,277.6 50.3,282"/><polygon points="47.4,279.7 51.3,277.5 51.3,281.9"/><polygon points="48.4,280 52.3,277.8 52.3,282.2"/><polygon points="49.4,279.9 53.3,277.7 53.3,282.1"/><polygon points="50.3,280.2 54.2,278 54.2,282.4"/><polygon points="51.3,280.7 55.2,278.5 55.2,282.9"/><polygon points="52.3,280.5 56.2,278.3 56.2,282.7"/><polygon points="53.3,280.4 57.2,278.2 57.2,282.6"/><polygon points="54.3,280.4 58.2,278.2 58.2,282.6"/><polygon points="55.3,280.4 59.2,278.2 59.2,282.6"/><polygon points="56.3,281 60.2,278.8 60.2,283.2"/><polygon points="57.3,281.1 61.2,278.9 61.2,283.3"/><polygon points="58.2,281.1 62.1,278.9 62.1,283.3"/><polygon points="59.2,281.3 63.1,279.1 63.1,283.5"/><polygon points="60.2,281.2 64.1,279 64.1,283.4"/><polygon points="61.2,281.6 65.1,279.4 65.1,283.8"/><polygon points="62.2,281.4 66.1,279.2 66.1,283.6"/><polygon points="63.2,281.5 67.1,279.3 67.1,283.7"/><polygon points="64.2,282.2 68.1,280 68.1,284.4"/><polygon points="65.2,282.6 69.1,280.4 69.1,284.8"/><polygon points="66.2,282.6 70.1,280.4 70.1,284.8"/><polygon points="67.1,282.4 71,280.2 71,284.6"/><polygon points="68.1,282.9 72,280.7 72,285.1"/><polygon points="69.1,283.1 73,280.9 73,285.3"/><polygon points="70.1,283 74,280.8 74,285.2"/><polygon points="71.1,283.3 75,281.1 75,285.5"/><polygon points="72.1,283.1 76,280.9 76,285.3"/><polygon points="73.1,283.2 77,281 77,285.4"/><polygon points="74.1,283.7 78,281.5 78,285.9"/><polygon points="75.1,283.8 79,281.6 79,286"/><polygon points="76,283.8 79.9,281.6 79.9,286"/><polygon points="77,283.9 80.9,281.7 80.9,286.1"/><polygon points="78,283.9 81.9,281.7 81.9,286.1"/><polygon points="79,284.3 82.9,282.1 82.9,286.5"/><polygon points="80,284.1 83.9,281.9 83.9,286.3"/><polygon points="81,284.4 84.9,282.2 84.9,286.6"/><polygon points="82,284.4 85.9,282.2 85.9,286.6"/><polygon points="83,284.4 86.9,282.2 86.9,286.6"/><polygon points="83.9,284.6 87.8,282.4 87.8,286.8"/><polygon points="84.9,284.9 88.8,282.7 88.8,287.1"/><polygon points="85.9,284.8 89.8,282.6 89.8,287"/><polygon points="86.9,284.6 90.8,282.4 90.8,286.8"/><polygon points="87.9,284.7 91.8,282.5 91.8,286.9"/><polygon points="88.9,285 92.8,282.8 92.8,287.2"/><polygon points="89.9,285.5 93.8,283.3 93.8,287.7"/><polygon points="90.9,286 94.8,283.8 94.8,288.2"/><polygon points="91.9,285.8 95.8,283.6 95.8,288"/><polygon points="92.8,285.9 96.7,283.7 96.7,288.1"/><polygon points="93.8,285.9 97.7,283.7 97.7,288.1"/><polygon points="94.8,286.4 98.7,284.2 98.7,288.6"/><polygon points="95.8,286.6 99.7,284.4 99.7,288.8"/><polygon points="96.8,286.4 100.7,284.2 100.7,288.6"/><polygon points="97.8,286.4 101.7,284.2 101.7,288.6"/><polygon points="98.8,286.7 102.7,284.5 102.7,288.9"/><polygon points="99.8,287.1 103.7,284.9 103.7,289.3"/><polygon points="100.8,287.4 104.7,285.2 104.7,289.6"/><polygon points="101.7,287.3 105.6,285.1 105.6,289.5"/><polygon points="102.7,287.6 106.6,285.4 106.6,289.8"/><polygon points="103.7,287.6 107.6,285.4 107.6,289.8"/><polygon points="104.7,287.8 108.6,285.6 108.6,290"/><polygon points="105.7,287.7 109.6,285.5 109.6,289.9"/><polygon points="106.7,287.8 110.6,285.6 110.6,290"/><polygon points="107.7,288.2 111.6,286 111.6,290.4"/><polygon points="108.7,288.7 112.6,286.5 112.6,290.9"/><polygon points="109.6,288.9 113.5,286.7 113.5,291.1"/><polygon points="110.6,289 114.5,286.8 114.5,291.2"/><polygon points="111.6,289 115.5,286.8 115.5,291.2"/><polygon points="112.6,288.8 116.5,286.6 116.5,291"/><polygon points="113.6,288.6 117.5,286.4 117.5,290.8"/><polygon points="114.6,289.2 118.5,287 118.5,291.4"/><polygon points="115.6,289 119.5,286.8 119.5,291.2"/><polygon points="116.6,288.9 120.5,286.7 120.5,291.1"/><polygon points="117.6,288.8 121.5,286.6 121.5,291"/><polygon points="118.5,289 122.4,286.8 122.4,291.2"/><polygon points="119.5,289.3 123.4,287.1 123.4,291.5"/><polygon points="120.5,289.2 124.4,287 124.4,291.4"/><polygon points="121.5,289.1 125.4,286.9 125.4,291.3"/><polygon points="122.5,289.2 126.4,287 126.4,291.4"/><polygon points="123.5,289.1 127.4,286.9 127.4,291.3"/><polygon points="124.5,289.5 128.4,287.3 128.4,291.7"/><polygon points="125.5,289.9 129.4,287.7 129.4,292.1"/><polygon points="126.5,290 130.4,287.8 130.4,292.2"/><polygon points="127.4,289.8 131.3,287.6 131.3,292"/><polygon points="128.4,290.2 132.3,288 132.3,292.4"/><polygon points="129.4,290 133.3,287.8 133.3,292.2"/><polygon points="130.4,289.8 134.3,287.6 134.3,292"/><polygon points="131.4,290.2 135.3,288 135.3,292.4"/><polygon points="132.4,290.2 136.3,288 136.3,292.4"/><polygon points="133.4,290.2 137.3,288 137.3,292.4"/><polygon points="134.4,290.4 138.3,288.2 138.3,292.6"/><polygon points="135.3,290.7 139.2,288.5 139.2,292.9"/><polygon points="136.3,290.9 140.2,288.7 140.2,293.1"/><polygon points="137.3,290.7 141.2,288.5 141.2,292.9"/><polygon points="138.3,290.5 142.2,288.3 142.2,292.7"/><polygon points="139.3,290.7 143.2,288.5 143.2,292.9"/><polygon points="140.3,291 144.2,288.8 144.2,293.2"/><polygon points="141.3,290.8 145.2,288.6 145.2,293"/><polygon points="142.3,290.7 146.2,288.5 146.2,292.9"/><polygon points="143.3,291 147.2,288.8 147.2,293.2"/><polygon points="144.2,291 148.1,288.8 148.1,293.2"/><polygon points="145.2,290.8 149.1,288.6 149.1,293"/><polygon points="146.2,290.6 150.1,288.4 150.1,292.8"/><polygon points="147.2,290.8 151.1,288.6 151.1,293"/><polygon points="148.2,291 152.1,288.8 152.1,293.2"/><polygon points="149.2,291 153.1,288.8 153.1,293.2"/><polygon points="150.2,291.4 154.1,289.2 154.1,293.6"/><polygon points="151.2,291.6 155.1,289.4 155.1,293.8"/><polygon points="152.2,291.8 156.1,289.6 156.1,294"/><polygon points="153.1,291.6 157,289.4 157,293.8"/><polygon points="154.1,291.7 158,289.5 158,293.9"/><polygon points="155.1,291.6 159,289.4 159,293.8"/><polygon points="156.1,291.7 160,289.5 160,293.9"/><polygon points="157.1,291.7 161,289.5 161,293.9"/><polygon points="158.1,291.9 162,289.7 162,294.1"/><polygon points="159.1,292.2 163,290 163,294.4"/><polygon points="160.1,291.7 164,289.5 164,293.9"/><polygon points="161.1,291.8 165,289.6 165,294"/><polygon points="162,292.1 165.9,289.9 165.9,294.3"/><polygon points="163,291.9 166.9,289.7 166.9,294.1"/><polygon points="164,291.6 167.9,289.4 167.9,293.8"/><polygon points="165,291.9 168.9,289.7 168.9,294.1"/><polygon points="166,291.8 169.9,289.6 169.9,294"/><polygon points="167,291.9 170.9,289.7 170.9,294.1"/><polygon points="168,291.9 171.9,289.7 171.9,294.1"/><polygon points="169,292.2 172.9,290 172.9,294.4"/><polygon points="169.9,292.5 173.8,290.3 173.8,294.7"/><polygon points="170.9,292 174.8,289.8 174.8,294.2"/><polygon points="171.9,291.7 175.8,289.5 175.8,293.9"/><polygon points="172.9,291.8 176.8,289.6 176.8,294"/><polygon points="173.9,291.8 177.8,289.6 177.8,294"/><polygon points="174.9,292 178.8,289.8 178.8,294.2"/><polygon points="175.9,291.8 179.8,289.6 179.8,294"/><polygon points="176.9,291.9 180.8,289.7 180.8,294.1"/><polygon points="177.9,291.6 181.8,289.4 181.8,293.8"/><polygon points="178.8,291.6 182.7,289.4 182.7,293.8"/><polygon points="179.8,291.5 183.7,289.3 183.7,293.7"/><polygon points="180.8,291.3 184.7,289.1 184.7,293.5"/><polygon points="181.8,291.8 185.7,289.6 185.7,294"/><polygon points="182.8,292.4 186.7,290.2 186.7,294.6"/><polygon points="183.8,292.7 187.7,290.5 187.7,294.9"/><polygon points="184.8,293 188.7,290.8 188.7,295.2"/><polygon points="185.8,293.4 189.7,291.2 189.7,295.6"/><polygon points="186.8,293.7 190.7,291.5 190.7,295.9"/><polygon points="187.7,293.6 191.6,291.4 191.6,295.8"/><polygon points="188.7,293.4 192.6,291.2 192.6,295.6"/><polygon points="189.7,293.6 193.6,291.4 193.6,295.8"/><polygon points="190.7,293.5 194.6,291.3 194.6,295.7"/><polygon points="191.7,293.5 195.6,291.3 195.6,295.7"/><polygon points="192.7,294.2 196.6,292 196.6,296.4"/><polygon points="193.7,294.4 197.6,292.2 197.6,296.6"/><polygon points="194.7,294.6 198.6,292.4 198.6,296.8"/><polygon points="195.6,295 199.5,292.8 199.5,297.2"/><polygon points="196.6,294.7 200.5,292.5 200.5,296.9"/><polygon points="197.6,295 201.5,292.8 201.5,297.2"/><polygon points="198.6,295 202.5,292.8 202.5,297.2"/><polygon points="199.6,295 203.5,292.8 203.5,297.2"/><polygon points="200.6,294.8 204.5,292.6 204.5,297"/><polygon points="201.6,294.9 205.5,292.7 205.5,297.1"/><polygon points="202.6,295.2 206.5,293 206.5,297.4"/><polygon points="203.6,295.3 207.5,293.1 207.5,297.5"/><polygon points="204.5,295.7 208.4,293.5 208.4,297.9"/><polygon points="205.5,295.4 209.4,293.2 209.4,297.6"/><polygon points="206.5,295.2 210.4,293 210.4,297.4"/><polygon points="207.5,295.7 211.4,293.5 211.4,297.9"/><polygon points="208.5,296.2 212.4,294 212.4,298.4"/><polygon points="209.5,296.4 213.4,294.2 213.4,298.6"/><polygon points="210.5,296.5 214.4,294.3 214.4,298.7"/><polygon points="211.5,296.2 215.4,294 215.4,298.4"/><polygon points="212.5,296 216.4,293.8 216.4,298.2"/><polygon points="213.4,296 217.3,293.8 217.3,298.2"/><polygon points="214.4,296.5 218.3,294.3 218.3,298.7"/><polygon points="215.4,296.4 219.3,294.2 219.3,298.6"/><polygon points="216.4,296.4 220.3,294.2 220.3,298.6"/><polygon points="217.4,296.5 221.3,294.3 221.3,298.7"/><polygon points="218.4,296.3 222.3,294.1 222.3,298.5"/><polygon points="219.4,296.8 223.3,294.6 223.3,299"/><polygon points="220.4,297.1 224.3,294.9 224.3,299.3"/><polygon points="221.3,296.9 225.2,294.7 225.2,299.1"/><polygon points="222.3,296.6 226.2,294.4 226.2,298.8"/><polygon points="223.3,296.5 227.2,294.3 227.2,298.7"/><polygon points="224.3,296.8 228.2,294.6 228.2,299"/><polygon points="225.3,296.8 229.2,294.6 229.2,299"/><polygon points="226.3,296.6 230.2,294.4 230.2,298.8"/><polygon points="227.3,297 231.2,294.8 231.2,299.2"/><polygon points="228.3,297.1 232.2,294.9 232.2,299.3"/><polygon points="229.3,297.1 233.2,294.9 233.2,299.3"/><polygon points="230.2,297.1 234.1,294.9 234.1,299.3"/><polygon points="231.2,296.8 235.1,294.6 235.1,299"/><polygon points="232.2,296.6 236.1,294.4 236.1,298.8"/><polygon points="233.2,296.3 237.1,294.1 237.1,298.5"/><polygon points="234.2,296.1 238.1,293.9 238.1,298.3"/></g>
<g fill="#86861a"><circle cx="39.8" cy="220.4" r="2.1"/><circle cx="40.8" cy="272.3" r="2.1"/><circle cx="41.8" cy="272.5" r="2.1"/><circle cx="42.8" cy="282.2" r="2.1"/><circle cx="43.7" cy="286.1" r="2.1"/><circle cx="44.7" cy="288.7" r="2.1"/><circle cx="45.7" cy="290.5" r="2.1"/><circle cx="46.7" cy="291.5" r="2.1"/><circle cx="47.7" cy="292.3" r="2.1"/><circle cx="48.7" cy="293.2" r="2.1"/><circle cx="49.7" cy="294.4" r="2.1"/><circle cx="50.7" cy="294.9" r="2.1"/><circle cx="51.7" cy="295.6" r="2.1"/><circle cx="52.6" cy="295.9" r="2.1"/><circle cx="53.6" cy="296.1" r="2.1"/><circle cx="54.6" cy="296.3" r="2.1"/><circle cx="55.6" cy="296.6" r="2.1"/><circle cx="56.6" cy="296.9" r="2.1"/><circle cx="57.6" cy="297" r="2.1"/><circle cx="58.6" cy="297.3" r="2.1"/><circle cx="59.6" cy="297.4" r="2.1"/><circle cx="60.5" cy="297.6" r="2.1"/><circle cx="61.5" cy="297.8" r="2.1"/><circle cx="62.5" cy="298.1" r="2.1"/><circle cx="63.5" cy="298" r="2.1"/><circle cx="64.5" cy="298" r="2.1"/><circle cx="65.5" cy="298.3" r="2.1"/><circle cx="66.5" cy="298.1" r="2.1"/><circle cx="67.5" cy="298.3" r="2.1"/><circle cx="68.5" cy="298.4" r="2.1"/><circle cx="69.4" cy="298.6" r="2.1"/><circle cx="70.4" cy="298.8" r="2.1"/><circle cx="71.4" cy="298.6" r="2.1"/><circle cx="72.4" cy="298.8" r="2.1"/><circle cx="73.4" cy="299" r="2.1"/><circle cx="74.4" cy="299" r="2.1"/><circle cx="75.4" cy="299.1" r="2.1"/><circle cx="76.4" cy="299" r="2.1"/><circle cx="77.4" cy="299.3" r="2.1"/><circle cx="78.3" cy="299.1" r="2.1"/><circle cx="79.3" cy="299.4" r="2.1"/><circle cx="80.3" cy="299.3" r="2.1"/><circle cx="81.3" cy="299.3" r="2.1"/><circle cx="82.3" cy="299.6" r="2.1"/><circle cx="83.3" cy="299.7" r="2.1"/><circle cx="84.3" cy="299.8" r="2.1"/><circle cx="85.3" cy="300" r="2.1"/><circle cx="86.2" cy="300.1" r="2.1"/><circle cx="87.2" cy="300.2" r="2.1"/><circle cx="88.2" cy="300" r="2.1"/><circle cx="89.2" cy="299.9" r="2.1"/><circle cx="90.2" cy="299.9" r="2.1"/><circle cx="91.2" cy="300.2" r="2.1"/><circle cx="92.2" cy="300.4" r="2.1"/><circle cx="93.2" cy="300.3" r="2.1"/><circle cx="94.2" cy="300.6" r="2.1"/><circle cx="95.1" cy="300.6" r="2.1"/><circle cx="96.1" cy="300.8" r="2.1"/><circle cx="97.1" cy="300.7" r="2.1"/><circle cx="98.1" cy="301" r="2.1"/><circle cx="99.1" cy="300.9" r="2.1"/><circle cx="100.1" cy="301.1" r="2.1"/><circle cx="101.1" cy="301.3" r="2.1"/><circle cx="102.1" cy="301.6" r="2.1"/><circle cx="103.1" cy="301.4" r="2.1"/><circle cx="104" cy="301.5" r="2.1"/><circle cx="105" cy="301.7" r="2.1"/><circle cx="106" cy="301.7" r="2.1"/><circle cx="107" cy="301.6" r="2.1"/><circle cx="108" cy="301.8" r="2.1"/><circle cx="109" cy="301.8" r="2.1"/><circle cx="110" cy="302.1" r="2.1"/><circle cx="111" cy="302.2" r="2.1"/><circle cx="111.9" cy="302.1" r="2.1"/><circle cx="112.9" cy="302.1" r="2.1"/><circle cx="113.9" cy="302.3" r="2.1"/><circle cx="114.9" cy="302.5" r="2.1"/><circle cx="115.9" cy="302.7" r="2.1"/><circle cx="116.9" cy="302.6" r="2.1"/><circle cx="117.9" cy="302.6" r="2.1"/><circle cx="118.9" cy="302.7" r="2.1"/><circle cx="119.9" cy="302.9" r="2.1"/><circle cx="120.8" cy="302.8" r="2.1"/><circle cx="121.8" cy="302.8" r="2.1"/><circle cx="122.8" cy="302.7" r="2.1"/><circle cx="123.8" cy="302.8" r="2.1"/><circle cx="124.8" cy="303" r="2.1"/><circle cx="125.8" cy="303.2" r="2.1"/><circle cx="126.8" cy="303.2" r="2.1"/><circle cx="127.8" cy="303.3" r="2.1"/><circle cx="128.8" cy="303.2" r="2.1"/><circle cx="129.7" cy="303.5" r="2.1"/><circle cx="130.7" cy="303.4" r="2.1"/><circle cx="131.7" cy="303.5" r="2.1"/><circle cx="132.7" cy="303.4" r="2.1"/><circle cx="133.7" cy="303.4" r="2.1"/><circle cx="134.7" cy="303.5" r="2.1"/><circle cx="135.7" cy="303.9" r="2.1"/><circle cx="136.7" cy="303.8" r="2.1"/><circle cx="137.7" cy="304" r="2.1"/><circle cx="138.6" cy="304" r="2.1"/><circle cx="139.6" cy="304.3" r="2.1"/><circle cx="140.6" cy="304.6" r="2.1"/><circle cx="141.6" cy="304.5" r="2.1"/><circle cx="142.6" cy="304.7" r="2.1"/><circle cx="143.6" cy="305" r="2.1"/><circle cx="144.6" cy="305.1" r="2.1"/><circle cx="145.6" cy="305.2" r="2.1"/><circle cx="146.5" cy="305.5" r="2.1"/><circle cx="147.5" cy="305.6" r="2.1"/><circle cx="148.5" cy="305.6" r="2.1"/><circle cx="149.5" cy="305.7" r="2.1"/><circle cx="150.5" cy="305.9" r="2.1"/><circle cx="151.5" cy="305.9" r="2.1"/><circle cx="152.5" cy="305.8" r="2.1"/><circle cx="153.5" cy="305.8" r="2.1"/><circle cx="154.5" cy="306" r="2.1"/><circle cx="155.4" cy="306.1" r="2.1"/><circle cx="156.4" cy="306.2" r="2.1"/><circle cx="157.4" cy="306.3" r="2.1"/><circle cx="158.4" cy="306.6" r="2.1"/><circle cx="159.4" cy="306.5" r="2.1"/><circle cx="160.4" cy="306.4" r="2.1"/><circle cx="161.4" cy="306.6" r="2.1"/><circle cx="162.4" cy="306.7" r="2.1"/><circle cx="163.4" cy="306.9" r="2.1"/><circle cx="164.3" cy="307" r="2.1"/><circle cx="165.3" cy="307.3" r="2.1"/><circle cx="166.3" cy="307.1" r="2.1"/><circle cx="167.3" cy="307.4" r="2.1"/><circle cx="168.3" cy="307.6" r="2.1"/><circle cx="169.3" cy="307.8" r="2.1"/><circle cx="170.3" cy="307.9" r="2.1"/><circle cx="171.3" cy="307.8" r="2.1"/><circle cx="172.2" cy="308.1" r="2.1"/><circle cx="173.2" cy="308.2" r="2.1"/><circle cx="174.2" cy="308.1" r="2.1"/><circle cx="175.2" cy="308.3" r="2.1"/><circle cx="176.2" cy="308.5" r="2.1"/><circle cx="177.2" cy="308.4" r="2.1"/><circle cx="178.2" cy="308.4" r="2.1"/><circle cx="179.2" cy="308.5" r="2.1"/><circle cx="180.2" cy="308.4" r="2.1"/><circle cx="181.1" cy="308.7" r="2.1"/><circle cx="182.1" cy="308.6" r="2.1"/><circle cx="183.1" cy="308.6" r="2.1"/><circle cx="184.1" cy="308.9" r="2.1"/><circle cx="185.1" cy="309.1" r="2.1"/><circle cx="186.1" cy="309.1" r="2.1"/><circle cx="187.1" cy="309.1" r="2.1"/><circle cx="188.1" cy="309.2" r="2.1"/><circle cx="189.1" cy="309.4" r="2.1"/><circle cx="190" cy="309.4" r="2.1"/><circle cx="191" cy="309.5" r="2.1"/><circle cx="192" cy="309.4" r="2.1"/><circle cx="193" cy="309.3" r="2.1"/><circle cx="194" cy="309.5" r="2.1"/><circle cx="195" cy="309.5" r="2.1"/><circle cx="196" cy="309.4" r="2.1"/><circle cx="197" cy="309.6" r="2.1"/><circle cx="197.9" cy="309.4" r="2.1"/><circle cx="198.9" cy="309.3" r="2.1"/><circle cx="199.9" cy="309.4" r="2.1"/><circle cx="200.9" cy="309.5" r="2.1"/><circle cx="201.9" cy="309.4" r="2.1"/><circle cx="202.9" cy="309.5" r="2.1"/><circle cx="203.9" cy="309.6" r="2.1"/><circle cx="204.9" cy="309.4" r="2.1"/><circle cx="205.9" cy="309.4" r="2.1"/><circle cx="206.8" cy="309.5" r="2.1"/><circle cx="207.8" cy="309.7" r="2.1"/><circle cx="208.8" cy="309.8" r="2.1"/><circle cx="209.8" cy="309.7" r="2.1"/><circle cx="210.8" cy="309.5" r="2.1"/><circle cx="211.8" cy="309.3" r="2.1"/><circle cx="212.8" cy="309.2" r="2.1"/><circle cx="213.8" cy="309.1" r="2.1"/><circle cx="214.8" cy="309" r="2.1"/><circle cx="215.7" cy="309.3" r="2.1"/><circle cx="216.7" cy="309.3" r="2.1"/><circle cx="217.7" cy="309.1" r="2.1"/><circle cx="218.7" cy="308.9" r="2.1"/><circle cx="219.7" cy="309.1" r="2.1"/><circle cx="220.7" cy="309.1" r="2.1"/><circle cx="221.7" cy="309.1" r="2.1"/><circle cx="222.7" cy="309.3" r="2.1"/><circle cx="223.6" cy="309.3" r="2.1"/><circle cx="224.6" cy="309.5" r="2.1"/><circle cx="225.6" cy="309.5" r="2.1"/><circle cx="226.6" cy="309.5" r="2.1"/><circle cx="227.6" cy="309.7" r="2.1"/><circle cx="228.6" cy="309.8" r="2.1"/><circle cx="229.6" cy="309.5" r="2.1"/><circle cx="230.6" cy="309.4" r="2.1"/><circle cx="231.6" cy="309.3" r="2.1"/><circle cx="232.5" cy="309.4" r="2.1"/><circle cx="233.5" cy="309.4" r="2.1"/><circle cx="234.5" cy="309.4" r="2.1"/><circle cx="235.5" cy="309.4" r="2.1"/><circle cx="236.5" cy="309.8" r="2.1"/></g>
<rect x="38.8" y="207" width="197.7" height="144.9" fill="none" stroke="#585858" stroke-width="1.5"/>
<path d="M38.8 351.9v3M88.22 351.9v3M137.65 351.9v3M187.07 351.9v3M236.5 351.9v3" stroke="#585858" stroke-width="1.275" fill="none"/>
<path d="M63.51 351.9v1.3M112.94 351.9v1.3M162.36 351.9v1.3M211.79 351.9v1.3" stroke="#585858" stroke-width="1.275" fill="none"/>
<path d="M38.8 339.9h-3M38.8 315.75h-3M38.8 291.6h-3M38.8 267.45h-3M38.8 243.3h-3M38.8 219.15h-3" stroke="#585858" stroke-width="1.275" fill="none"/>
<path d="M38.8 351.97h-1.3M38.8 327.82h-1.3M38.8 303.67h-1.3M38.8 279.52h-1.3M38.8 255.38h-1.3M38.8 231.22h-1.3M38.8 207.07h-1.3" stroke="#585858" stroke-width="1.275" fill="none"/>
<text transform="translate(38.8 363.8) scale(0.96 1)" font-size="8.1" font-weight="bold" text-anchor="middle" fill="#0a0a0a" font-family='"Liberation Sans", Arial, sans-serif'  stroke="#0a0a0a" stroke-width="0.28">0</text>
<text transform="translate(88.22 363.8) scale(0.96 1)" font-size="8.1" font-weight="bold" text-anchor="middle" fill="#0a0a0a" font-family='"Liberation Sans", Arial, sans-serif'  stroke="#0a0a0a" stroke-width="0.28">50</text>
<text transform="translate(137.65 363.8) scale(0.96 1)" font-size="8.1" font-weight="bold" text-anchor="middle" fill="#0a0a0a" font-family='"Liberation Sans", Arial, sans-serif'  stroke="#0a0a0a" stroke-width="0.28">100</text>
<text transform="translate(187.07 363.8) scale(0.96 1)" font-size="8.1" font-weight="bold" text-anchor="middle" fill="#0a0a0a" font-family='"Liberation Sans", Arial, sans-serif'  stroke="#0a0a0a" stroke-width="0.28">150</text>
<text transform="translate(236.5 363.8) scale(0.96 1)" font-size="8.1" font-weight="bold" text-anchor="middle" fill="#0a0a0a" font-family='"Liberation Sans", Arial, sans-serif'  stroke="#0a0a0a" stroke-width="0.28">200</text>
<text transform="translate(34 342.8) scale(0.99 1)" font-size="8.3" font-weight="bold" text-anchor="end" fill="#0a0a0a" font-family='"Liberation Sans", Arial, sans-serif'  stroke="#0a0a0a" stroke-width="0.28">0</text>
<text transform="translate(34 318.65) scale(0.99 1)" font-size="8.3" font-weight="bold" text-anchor="end" fill="#0a0a0a" font-family='"Liberation Sans", Arial, sans-serif'  stroke="#0a0a0a" stroke-width="0.28">100</text>
<text transform="translate(34 294.5) scale(0.99 1)" font-size="8.3" font-weight="bold" text-anchor="end" fill="#0a0a0a" font-family='"Liberation Sans", Arial, sans-serif'  stroke="#0a0a0a" stroke-width="0.28">200</text>
<text transform="translate(34 270.35) scale(0.99 1)" font-size="8.3" font-weight="bold" text-anchor="end" fill="#0a0a0a" font-family='"Liberation Sans", Arial, sans-serif'  stroke="#0a0a0a" stroke-width="0.28">300</text>
<text transform="translate(34 246.2) scale(0.99 1)" font-size="8.3" font-weight="bold" text-anchor="end" fill="#0a0a0a" font-family='"Liberation Sans", Arial, sans-serif'  stroke="#0a0a0a" stroke-width="0.28">400</text>
<text transform="translate(34 222.05) scale(0.99 1)" font-size="8.3" font-weight="bold" text-anchor="end" fill="#0a0a0a" font-family='"Liberation Sans", Arial, sans-serif'  stroke="#0a0a0a" stroke-width="0.28">500</text>
<text transform="translate(13.4 286.8) rotate(-90) scale(1.09 1)" font-size="8.6" font-weight="bold" text-anchor="middle" fill="#0a0a0a" stroke="#0a0a0a" stroke-width="0.28" font-family='"Liberation Sans", Arial, sans-serif'>Specific Capacity(mAh/g)</text>
<text transform="translate(137.4 378.5) scale(1.04 1)" font-size="9.0" font-weight="bold" text-anchor="middle" fill="#0a0a0a" font-family='"Liberation Sans", Arial, sans-serif'  stroke="#0a0a0a" stroke-width="0.28">Cycle Number</text>
<text transform="translate(123.8 395.2) scale(1.06 1)" font-size="10.6" font-weight="normal" text-anchor="middle" fill="#222" font-family='"Liberation Serif", "DejaVu Serif", serif'  stroke="#222" stroke-width="0.4">(c)</text>
<rect x="105.8" y="215.9" width="3" height="3" fill="#111111"/>
<circle cx="124" cy="217.4" r="2.1" fill="#f01820"/>
<text transform="translate(135.3 220.1) scale(1.05 1)" font-size="8.7" font-weight="bold" text-anchor="start" fill="#0a0a0a" font-family='"Liberation Sans", Arial, sans-serif' xml:space="preserve" stroke="#0a0a0a" stroke-width="0.28">pure TiO<tspan font-size="8.7" dy="2.7">2</tspan><tspan dy="-2.7"> nanotubes</tspan></text>
<polygon points="107.3,229.5 105.1,233.4 109.5,233.4" fill="#1a28f0"/>
<polygon points="124,234.2 121.7,230.1 126.3,230.1" fill="#f218e8"/>
<text transform="translate(135.3 234.5) scale(1.05 1)" font-size="8.7" font-weight="bold" text-anchor="start" fill="#0a0a0a" font-family='"Liberation Sans", Arial, sans-serif' xml:space="preserve" stroke="#0a0a0a" stroke-width="0.28">Na<tspan font-size="8.7" dy="2.7">2</tspan><tspan dy="-2.7">MoO</tspan><tspan font-size="8.7" dy="2.7">4</tspan><tspan dy="-2.7">-15.4%-TiO</tspan><tspan font-size="8.7" dy="2.7">2</tspan></text>
<polygon points="107.3,243.8 109.7,246.2 107.3,248.6 104.9,246.2" fill="#10881a"/>
<polygon points="121.6,246.2 125.7,243.9 125.7,248.5" fill="#10108a"/>
<text transform="translate(135.3 248.9) scale(1.05 1)" font-size="8.7" font-weight="bold" text-anchor="start" fill="#0a0a0a" font-family='"Liberation Sans", Arial, sans-serif' xml:space="preserve" stroke="#0a0a0a" stroke-width="0.28">Na<tspan font-size="8.7" dy="2.7">2</tspan><tspan dy="-2.7">MoO</tspan><tspan font-size="8.7" dy="2.7">4</tspan><tspan dy="-2.7">-41.4%-TiO</tspan><tspan font-size="8.7" dy="2.7">2</tspan></text>
<polygon points="109.6,260.6 105.7,258.4 105.7,262.8" fill="#8a18f0"/>
<circle cx="124" cy="260.6" r="2.1" fill="#8a0f8a"/>
<text transform="translate(135.3 263.3) scale(1.05 1)" font-size="8.7" font-weight="bold" text-anchor="start" fill="#0a0a0a" font-family='"Liberation Sans", Arial, sans-serif' xml:space="preserve" stroke="#0a0a0a" stroke-width="0.28">Na<tspan font-size="8.7" dy="2.7">2</tspan><tspan dy="-2.7">MoO</tspan><tspan font-size="8.7" dy="2.7">4</tspan><tspan dy="-2.7">-24.1%-TiO</tspan><tspan font-size="8.7" dy="2.7">2</tspan></text>
<polygon points="107.3,272.4 107.9,274.1 109.8,274.2 108.3,275.3 108.8,277.1 107.3,276.1 105.8,277.1 106.3,275.3 104.8,274.2 106.7,274.1" fill="#9a1818"/>
<circle cx="124" cy="275" r="2.1" fill="#86861a"/>
<text transform="translate(135.3 277.7) scale(1.05 1)" font-size="8.7" font-weight="bold" text-anchor="start" fill="#0a0a0a" font-family='"Liberation Sans", Arial, sans-serif' xml:space="preserve" stroke="#0a0a0a" stroke-width="0.28">pure Na<tspan font-size="8.7" dy="2.7">2</tspan><tspan dy="-2.7">MoO</tspan><tspan font-size="8.7" dy="2.7">4</tspan><tspan dy="-2.7"> powder</tspan></text>
</g>
<g id="panel-d">
<clipPath id="clipd"><rect x="337.7" y="210.1" width="203.5" height="148.4"/></clipPath><g clip-path="url(#clipd)">
<g fill="#111111"><rect x="341.4" y="309.5" width="2.9" height="2.9"/><rect x="343.9" y="311.4" width="2.9" height="2.9"/><rect x="346.4" y="313.3" width="2.9" height="2.9"/><rect x="348.9" y="314" width="2.9" height="2.9"/><rect x="351.4" y="314.4" width="2.9" height="2.9"/><rect x="353.9" y="314.8" width="2.9" height="2.9"/><rect x="356.4" y="315.2" width="2.9" height="2.9"/><rect x="358.9" y="315.5" width="2.9" height="2.9"/><rect x="361.4" y="315.8" width="2.9" height="2.9"/><rect x="363.9" y="316" width="2.9" height="2.9"/><rect x="366.4" y="316.2" width="2.9" height="2.9"/><rect x="368.9" y="320.6" width="2.9" height="2.9"/><rect x="371.4" y="320.8" width="2.9" height="2.9"/><rect x="373.9" y="321.2" width="2.9" height="2.9"/><rect x="376.4" y="321.4" width="2.9" height="2.9"/><rect x="378.9" y="321.5" width="2.9" height="2.9"/><rect x="381.4" y="321.7" width="2.9" height="2.9"/><rect x="383.9" y="321.8" width="2.9" height="2.9"/><rect x="386.4" y="321.9" width="2.9" height="2.9"/><rect x="388.9" y="322" width="2.9" height="2.9"/><rect x="391.4" y="322.1" width="2.9" height="2.9"/><rect x="393.9" y="322.2" width="2.9" height="2.9"/><rect x="396.4" y="328.6" width="2.9" height="2.9"/><rect x="398.9" y="328.4" width="2.9" height="2.9"/><rect x="401.4" y="328.5" width="2.9" height="2.9"/><rect x="403.9" y="328.6" width="2.9" height="2.9"/><rect x="406.4" y="328.6" width="2.9" height="2.9"/><rect x="408.9" y="328.7" width="2.9" height="2.9"/><rect x="411.4" y="328.7" width="2.9" height="2.9"/><rect x="413.9" y="328.8" width="2.9" height="2.9"/><rect x="416.5" y="328.8" width="2.9" height="2.9"/><rect x="419" y="328.9" width="2.9" height="2.9"/><rect x="421.5" y="328.9" width="2.9" height="2.9"/><rect x="424" y="333.5" width="2.9" height="2.9"/><rect x="426.5" y="333.2" width="2.9" height="2.9"/><rect x="429" y="333.4" width="2.9" height="2.9"/><rect x="431.5" y="333.4" width="2.9" height="2.9"/><rect x="434" y="333.5" width="2.9" height="2.9"/><rect x="436.5" y="333.6" width="2.9" height="2.9"/><rect x="439" y="333.6" width="2.9" height="2.9"/><rect x="441.5" y="333.6" width="2.9" height="2.9"/><rect x="444" y="333.7" width="2.9" height="2.9"/><rect x="446.5" y="333.7" width="2.9" height="2.9"/><rect x="449" y="333.8" width="2.9" height="2.9"/><rect x="451.5" y="337" width="2.9" height="2.9"/><rect x="454" y="336.7" width="2.9" height="2.9"/><rect x="456.5" y="336.8" width="2.9" height="2.9"/><rect x="459" y="336.8" width="2.9" height="2.9"/><rect x="461.5" y="336.9" width="2.9" height="2.9"/><rect x="464" y="336.9" width="2.9" height="2.9"/><rect x="466.5" y="336.9" width="2.9" height="2.9"/><rect x="469" y="336.9" width="2.9" height="2.9"/><rect x="471.5" y="337" width="2.9" height="2.9"/><rect x="474" y="337" width="2.9" height="2.9"/><rect x="476.5" y="337" width="2.9" height="2.9"/><rect x="479" y="338.6" width="2.9" height="2.9"/><rect x="481.5" y="338.6" width="2.9" height="2.9"/><rect x="484" y="338.7" width="2.9" height="2.9"/><rect x="486.5" y="338.7" width="2.9" height="2.9"/><rect x="489" y="338.7" width="2.9" height="2.9"/><rect x="491.5" y="338.8" width="2.9" height="2.9"/><rect x="494" y="338.8" width="2.9" height="2.9"/><rect x="496.5" y="338.8" width="2.9" height="2.9"/><rect x="499.1" y="338.8" width="2.9" height="2.9"/><rect x="501.6" y="338.9" width="2.9" height="2.9"/><rect x="504.1" y="338.9" width="2.9" height="2.9"/><rect x="506.6" y="330" width="2.9" height="2.9"/><rect x="509.1" y="320.3" width="2.9" height="2.9"/><rect x="511.6" y="320.3" width="2.9" height="2.9"/><rect x="514.1" y="320.3" width="2.9" height="2.9"/><rect x="516.6" y="320.3" width="2.9" height="2.9"/><rect x="519.1" y="320.3" width="2.9" height="2.9"/><rect x="521.6" y="320.3" width="2.9" height="2.9"/><rect x="524.1" y="320.3" width="2.9" height="2.9"/><rect x="526.6" y="320.3" width="2.9" height="2.9"/><rect x="529.1" y="320.3" width="2.9" height="2.9"/><rect x="531.6" y="320.3" width="2.9" height="2.9"/><rect x="534.1" y="320.3" width="2.9" height="2.9"/><rect x="536.6" y="320.3" width="2.9" height="2.9"/><rect x="539.1" y="320.3" width="2.9" height="2.9"/></g>
<g fill="#f01820"><circle cx="342.8" cy="312" r="2"/><circle cx="345.3" cy="312.8" r="2"/><circle cx="347.8" cy="314.7" r="2"/><circle cx="350.3" cy="315.3" r="2"/><circle cx="352.8" cy="315.7" r="2"/><circle cx="355.3" cy="316.1" r="2"/><circle cx="357.8" cy="316.4" r="2"/><circle cx="360.3" cy="316.7" r="2"/><circle cx="362.8" cy="317" r="2"/><circle cx="365.3" cy="317.2" r="2"/><circle cx="367.8" cy="317.4" r="2"/><circle cx="370.3" cy="321.7" r="2"/><circle cx="372.8" cy="322" r="2"/><circle cx="375.3" cy="322.4" r="2"/><circle cx="377.8" cy="322.5" r="2"/><circle cx="380.3" cy="322.7" r="2"/><circle cx="382.9" cy="322.8" r="2"/><circle cx="385.4" cy="322.9" r="2"/><circle cx="387.9" cy="323" r="2"/><circle cx="390.4" cy="323.2" r="2"/><circle cx="392.9" cy="323.2" r="2"/><circle cx="395.4" cy="323.3" r="2"/><circle cx="397.9" cy="329.3" r="2"/><circle cx="400.4" cy="329.3" r="2"/><circle cx="402.9" cy="329.4" r="2"/><circle cx="405.4" cy="329.5" r="2"/><circle cx="407.9" cy="329.5" r="2"/><circle cx="410.4" cy="329.6" r="2"/><circle cx="412.9" cy="329.6" r="2"/><circle cx="415.4" cy="329.7" r="2"/><circle cx="417.9" cy="329.7" r="2"/><circle cx="420.4" cy="329.8" r="2"/><circle cx="422.9" cy="329.8" r="2"/><circle cx="425.4" cy="333.9" r="2"/><circle cx="427.9" cy="334.1" r="2"/><circle cx="430.4" cy="334.3" r="2"/><circle cx="432.9" cy="334.3" r="2"/><circle cx="435.4" cy="334.4" r="2"/><circle cx="437.9" cy="334.5" r="2"/><circle cx="440.4" cy="334.5" r="2"/><circle cx="442.9" cy="334.5" r="2"/><circle cx="445.4" cy="334.6" r="2"/><circle cx="447.9" cy="334.6" r="2"/><circle cx="450.4" cy="334.7" r="2"/><circle cx="452.9" cy="337.6" r="2"/><circle cx="455.4" cy="337.6" r="2"/><circle cx="457.9" cy="337.7" r="2"/><circle cx="460.4" cy="337.7" r="2"/><circle cx="462.9" cy="337.8" r="2"/><circle cx="465.5" cy="337.8" r="2"/><circle cx="468" cy="337.8" r="2"/><circle cx="470.5" cy="337.8" r="2"/><circle cx="473" cy="337.9" r="2"/><circle cx="475.5" cy="337.9" r="2"/><circle cx="478" cy="337.9" r="2"/><circle cx="480.5" cy="339.8" r="2"/><circle cx="483" cy="339.8" r="2"/><circle cx="485.5" cy="339.9" r="2"/><circle cx="488" cy="339.9" r="2"/><circle cx="490.5" cy="339.9" r="2"/><circle cx="493" cy="339.9" r="2"/><circle cx="495.5" cy="340" r="2"/><circle cx="498" cy="340" r="2"/><circle cx="500.5" cy="340" r="2"/><circle cx="503" cy="340" r="2"/><circle cx="505.5" cy="340" r="2"/><circle cx="508" cy="330.9" r="2"/><circle cx="510.5" cy="321.5" r="2"/><circle cx="513" cy="321.5" r="2"/><circle cx="515.5" cy="321.5" r="2"/><circle cx="518" cy="321.6" r="2"/><circle cx="520.5" cy="321.6" r="2"/><circle cx="523" cy="321.6" r="2"/><circle cx="525.5" cy="321.6" r="2"/><circle cx="528" cy="321.6" r="2"/><circle cx="530.5" cy="321.7" r="2"/><circle cx="533" cy="321.7" r="2"/><circle cx="535.5" cy="321.7" r="2"/><circle cx="538" cy="321.7" r="2"/><circle cx="540.5" cy="321.7" r="2"/></g>
<g fill="#1a28f0"><polygon points="342.8,305.9 340.8,309.4 344.8,309.4"/><polygon points="345.3,307.8 343.3,311.3 347.3,311.3"/><polygon points="347.8,310.3 345.8,313.8 349.8,313.8"/><polygon points="350.3,311.1 348.3,314.6 352.3,314.6"/><polygon points="352.8,311.7 350.8,315.2 354.8,315.2"/><polygon points="355.3,312.2 353.3,315.7 357.3,315.7"/><polygon points="357.8,312.6 355.8,316.1 359.8,316.1"/><polygon points="360.3,313 358.3,316.5 362.3,316.5"/><polygon points="362.8,313.4 360.8,316.9 364.8,316.9"/><polygon points="365.3,313.7 363.4,317.2 367.3,317.2"/><polygon points="367.8,314 365.9,317.5 369.8,317.5"/><polygon points="370.3,316.7 368.4,320.2 372.3,320.2"/><polygon points="372.8,317.2 370.9,320.7 374.8,320.7"/><polygon points="375.3,317.9 373.4,321.5 377.3,321.5"/><polygon points="377.8,318.3 375.9,321.8 379.8,321.8"/><polygon points="380.3,318.6 378.4,322.1 382.3,322.1"/><polygon points="382.9,318.9 380.9,322.4 384.8,322.4"/><polygon points="385.4,319.1 383.4,322.6 387.3,322.6"/><polygon points="387.9,319.3 385.9,322.9 389.8,322.9"/><polygon points="390.4,319.5 388.4,323.1 392.3,323.1"/><polygon points="392.9,319.7 390.9,323.2 394.8,323.2"/><polygon points="395.4,319.9 393.4,323.4 397.3,323.4"/><polygon points="397.9,324 395.9,327.5 399.8,327.5"/><polygon points="400.4,324.5 398.4,328 402.4,328"/><polygon points="402.9,324.9 400.9,328.4 404.9,328.4"/><polygon points="405.4,325.2 403.4,328.7 407.4,328.7"/><polygon points="407.9,325.3 405.9,328.9 409.9,328.9"/><polygon points="410.4,325.5 408.4,329 412.4,329"/><polygon points="412.9,325.6 410.9,329.2 414.9,329.2"/><polygon points="415.4,325.8 413.4,329.3 417.4,329.3"/><polygon points="417.9,325.9 415.9,329.4 419.9,329.4"/><polygon points="420.4,326 418.4,329.5 422.4,329.5"/><polygon points="422.9,326.1 420.9,329.6 424.9,329.6"/><polygon points="425.4,329.4 423.4,332.9 427.4,332.9"/><polygon points="427.9,329.9 425.9,333.4 429.9,333.4"/><polygon points="430.4,330.1 428.4,333.6 432.4,333.6"/><polygon points="432.9,330.2 430.9,333.7 434.9,333.7"/><polygon points="435.4,330.3 433.4,333.8 437.4,333.8"/><polygon points="437.9,330.4 435.9,333.9 439.9,333.9"/><polygon points="440.4,330.5 438.4,334 442.4,334"/><polygon points="442.9,330.5 440.9,334 444.9,334"/><polygon points="445.4,330.6 443.4,334.1 447.4,334.1"/><polygon points="447.9,330.6 445.9,334.2 449.9,334.2"/><polygon points="450.4,330.7 448.5,334.2 452.4,334.2"/><polygon points="452.9,333.1 451,336.6 454.9,336.6"/><polygon points="455.4,333.7 453.5,337.2 457.4,337.2"/><polygon points="457.9,333.8 456,337.3 459.9,337.3"/><polygon points="460.4,333.9 458.5,337.4 462.4,337.4"/><polygon points="462.9,333.9 461,337.5 464.9,337.5"/><polygon points="465.5,334 463.5,337.5 467.4,337.5"/><polygon points="468,334 466,337.6 469.9,337.6"/><polygon points="470.5,334.1 468.5,337.6 472.4,337.6"/><polygon points="473,334.1 471,337.6 474.9,337.6"/><polygon points="475.5,334.2 473.5,337.7 477.4,337.7"/><polygon points="478,334.2 476,337.7 479.9,337.7"/><polygon points="480.5,336.4 478.5,339.9 482.4,339.9"/><polygon points="483,336.6 481,340.1 485,340.1"/><polygon points="485.5,336.7 483.5,340.2 487.5,340.2"/><polygon points="488,336.7 486,340.3 490,340.3"/><polygon points="490.5,336.8 488.5,340.3 492.5,340.3"/><polygon points="493,336.8 491,340.3 495,340.3"/><polygon points="495.5,336.8 493.5,340.3 497.5,340.3"/><polygon points="498,336.8 496,340.4 500,340.4"/><polygon points="500.5,336.9 498.5,340.4 502.5,340.4"/><polygon points="503,336.9 501,340.4 505,340.4"/><polygon points="505.5,336.9 503.5,340.4 507.5,340.4"/><polygon points="508,324 506,327.5 510,327.5"/><polygon points="510.5,317 508.5,320.5 512.5,320.5"/><polygon points="513,317.1 511,320.6 515,320.6"/><polygon points="515.5,317.1 513.5,320.7 517.5,320.7"/><polygon points="518,317.2 516,320.7 520,320.7"/><polygon points="520.5,317.2 518.5,320.7 522.5,320.7"/><polygon points="523,317.3 521,320.8 525,320.8"/><polygon points="525.5,317.3 523.5,320.8 527.5,320.8"/><polygon points="528,317.3 526,320.9 530,320.9"/><polygon points="530.5,317.4 528.5,320.9 532.5,320.9"/><polygon points="533,317.4 531.1,320.9 535,320.9"/><polygon points="535.5,317.4 533.6,321 537.5,321"/><polygon points="538,317.5 536.1,321 540,321"/><polygon points="540.5,317.5 538.6,321 542.5,321"/></g>
<g fill="#f218e8"><polygon points="342.8,311.6 340.6,307.7 345,307.7"/><polygon points="345.3,308.7 343.1,304.8 347.5,304.8"/><polygon points="347.8,312 345.6,308.1 350,308.1"/><polygon points="350.3,313.1 348.1,309.2 352.5,309.2"/><polygon points="352.8,313.9 350.6,310 355,310"/><polygon points="355.3,314.6 353.1,310.7 357.5,310.7"/><polygon points="357.8,315.2 355.6,311.3 360,311.3"/><polygon points="360.3,315.7 358.1,311.8 362.5,311.8"/><polygon points="362.8,316.2 360.6,312.3 365,312.3"/><polygon points="365.3,316.6 363.1,312.7 367.5,312.7"/><polygon points="367.8,317 365.6,313.1 370,313.1"/><polygon points="370.3,320.2 368.1,316.3 372.5,316.3"/><polygon points="372.8,320.8 370.6,316.9 375,316.9"/><polygon points="375.3,321.6 373.1,317.7 377.5,317.7"/><polygon points="377.8,322 375.6,318.1 380,318.1"/><polygon points="380.3,322.3 378.1,318.4 382.5,318.4"/><polygon points="382.9,322.6 380.7,318.7 385.1,318.7"/><polygon points="385.4,322.9 383.2,319 387.6,319"/><polygon points="387.9,323.1 385.7,319.2 390.1,319.2"/><polygon points="390.4,323.3 388.2,319.4 392.6,319.4"/><polygon points="392.9,323.6 390.7,319.7 395.1,319.7"/><polygon points="395.4,323.8 393.2,319.9 397.6,319.9"/><polygon points="397.9,327.8 395.7,323.9 400.1,323.9"/><polygon points="400.4,328.6 398.2,324.7 402.6,324.7"/><polygon points="402.9,329 400.7,325.1 405.1,325.1"/><polygon points="405.4,329.3 403.2,325.4 407.6,325.4"/><polygon points="407.9,329.4 405.7,325.5 410.1,325.5"/><polygon points="410.4,329.6 408.2,325.7 412.6,325.7"/><polygon points="412.9,329.7 410.7,325.8 415.1,325.8"/><polygon points="415.4,329.9 413.2,326 417.6,326"/><polygon points="417.9,330 415.7,326.1 420.1,326.1"/><polygon points="420.4,330.1 418.2,326.2 422.6,326.2"/><polygon points="422.9,330.2 420.7,326.3 425.1,326.3"/><polygon points="425.4,333.7 423.2,329.8 427.6,329.8"/><polygon points="427.9,334.3 425.7,330.4 430.1,330.4"/><polygon points="430.4,334.5 428.2,330.6 432.6,330.6"/><polygon points="432.9,334.6 430.7,330.7 435.1,330.7"/><polygon points="435.4,334.7 433.2,330.8 437.6,330.8"/><polygon points="437.9,334.8 435.7,330.9 440.1,330.9"/><polygon points="440.4,334.8 438.2,330.9 442.6,330.9"/><polygon points="442.9,334.9 440.7,331 445.1,331"/><polygon points="445.4,335 443.2,331.1 447.6,331.1"/><polygon points="447.9,335 445.7,331.1 450.1,331.1"/><polygon points="450.4,335.1 448.2,331.2 452.6,331.2"/><polygon points="452.9,337.8 450.7,333.9 455.1,333.9"/><polygon points="455.4,338.3 453.2,334.4 457.6,334.4"/><polygon points="457.9,338.5 455.7,334.6 460.1,334.6"/><polygon points="460.4,338.5 458.2,334.6 462.6,334.6"/><polygon points="462.9,338.6 460.7,334.7 465.1,334.7"/><polygon points="465.5,338.6 463.3,334.7 467.7,334.7"/><polygon points="468,338.7 465.8,334.8 470.2,334.8"/><polygon points="470.5,338.7 468.3,334.8 472.7,334.8"/><polygon points="473,338.8 470.8,334.9 475.2,334.9"/><polygon points="475.5,338.8 473.3,334.9 477.7,334.9"/><polygon points="478,338.8 475.8,334.9 480.2,334.9"/><polygon points="480.5,340.7 478.3,336.8 482.7,336.8"/><polygon points="483,341.3 480.8,337.4 485.2,337.4"/><polygon points="485.5,341.3 483.3,337.4 487.7,337.4"/><polygon points="488,341.4 485.8,337.5 490.2,337.5"/><polygon points="490.5,341.4 488.3,337.5 492.7,337.5"/><polygon points="493,341.4 490.8,337.5 495.2,337.5"/><polygon points="495.5,341.5 493.3,337.6 497.7,337.6"/><polygon points="498,341.5 495.8,337.6 500.2,337.6"/><polygon points="500.5,341.5 498.3,337.6 502.7,337.6"/><polygon points="503,341.5 500.8,337.6 505.2,337.6"/><polygon points="505.5,341.5 503.3,337.6 507.7,337.6"/><polygon points="508,329.1 505.8,325.2 510.2,325.2"/><polygon points="510.5,321.9 508.3,318 512.7,318"/><polygon points="513,322 510.8,318.1 515.2,318.1"/><polygon points="515.5,322.1 513.3,318.2 517.7,318.2"/><polygon points="518,322.1 515.8,318.2 520.2,318.2"/><polygon points="520.5,322.1 518.3,318.2 522.7,318.2"/><polygon points="523,322.2 520.8,318.3 525.2,318.3"/><polygon points="525.5,322.2 523.3,318.3 527.7,318.3"/><polygon points="528,322.3 525.8,318.4 530.2,318.4"/><polygon points="530.5,322.3 528.3,318.4 532.7,318.4"/><polygon points="533,322.3 530.8,318.4 535.2,318.4"/><polygon points="535.5,322.4 533.3,318.5 537.7,318.5"/><polygon points="538,322.4 535.8,318.5 540.2,318.5"/><polygon points="540.5,322.4 538.3,318.5 542.7,318.5"/></g>
<g fill="#10881a"><polygon points="342.8,272.1 345,274.3 342.8,276.5 340.6,274.3"/><polygon points="345.3,272.4 347.5,274.6 345.3,276.7 343.1,274.6"/><polygon points="347.8,275.5 350,277.7 347.8,279.8 345.6,277.7"/><polygon points="350.3,276.6 352.5,278.7 350.3,280.9 348.2,278.7"/><polygon points="352.8,277.3 355,279.5 352.8,281.6 350.7,279.5"/><polygon points="355.3,278 357.5,280.1 355.3,282.3 353.2,280.1"/><polygon points="357.8,278.5 360,280.7 357.8,282.8 355.7,280.7"/><polygon points="360.3,279 362.5,281.2 360.3,283.3 358.2,281.2"/><polygon points="362.8,279.4 365,281.6 362.8,283.8 360.7,281.6"/><polygon points="365.3,279.8 367.5,282 365.3,284.2 363.2,282"/><polygon points="367.8,280.2 370,282.4 367.8,284.5 365.7,282.4"/><polygon points="370.3,288.8 372.5,291 370.3,293.2 368.2,291"/><polygon points="372.8,292.1 375,294.2 372.8,296.4 370.7,294.2"/><polygon points="375.3,292.7 377.5,294.8 375.3,297 373.2,294.8"/><polygon points="377.8,292.9 380,295.1 377.8,297.3 375.7,295.1"/><polygon points="380.3,293.2 382.5,295.3 380.3,297.5 378.2,295.3"/><polygon points="382.9,293.4 385,295.6 382.9,297.7 380.7,295.6"/><polygon points="385.4,293.6 387.5,295.7 385.4,297.9 383.2,295.7"/><polygon points="387.9,293.8 390,295.9 387.9,298.1 385.7,295.9"/><polygon points="390.4,293.9 392.5,296.1 390.4,298.2 388.2,296.1"/><polygon points="392.9,294.1 395,296.2 392.9,298.4 390.7,296.2"/><polygon points="395.4,294.2 397.5,296.4 395.4,298.6 393.2,296.4"/><polygon points="397.9,305.5 400,307.7 397.9,309.9 395.7,307.7"/><polygon points="400.4,309.1 402.5,311.2 400.4,313.4 398.2,311.2"/><polygon points="402.9,309.9 405,312.1 402.9,314.2 400.7,312.1"/><polygon points="405.4,310.4 407.5,312.5 405.4,314.7 403.2,312.5"/><polygon points="407.9,310.7 410,312.9 407.9,315 405.7,312.9"/><polygon points="410.4,311 412.5,313.2 410.4,315.4 408.2,313.2"/><polygon points="412.9,311.3 415,313.5 412.9,315.6 410.7,313.5"/><polygon points="415.4,311.6 417.6,313.7 415.4,315.9 413.2,313.7"/><polygon points="417.9,311.8 420.1,314 417.9,316.2 415.7,314"/><polygon points="420.4,312.1 422.6,314.2 420.4,316.4 418.2,314.2"/><polygon points="422.9,312.3 425.1,314.4 422.9,316.6 420.7,314.4"/><polygon points="425.4,318.5 427.6,320.6 425.4,322.8 423.2,320.6"/><polygon points="427.9,322 430.1,324.1 427.9,326.3 425.7,324.1"/><polygon points="430.4,322.3 432.6,324.4 430.4,326.6 428.2,324.4"/><polygon points="432.9,322.4 435.1,324.6 432.9,326.7 430.8,324.6"/><polygon points="435.4,322.5 437.6,324.7 435.4,326.9 433.3,324.7"/><polygon points="437.9,322.7 440.1,324.8 437.9,327 435.8,324.8"/><polygon points="440.4,322.7 442.6,324.9 440.4,327.1 438.3,324.9"/><polygon points="442.9,322.8 445.1,325 442.9,327.2 440.8,325"/><polygon points="445.4,322.9 447.6,325.1 445.4,327.2 443.3,325.1"/><polygon points="447.9,323 450.1,325.2 447.9,327.3 445.8,325.2"/><polygon points="450.4,323.1 452.6,325.2 450.4,327.4 448.3,325.2"/><polygon points="452.9,330.3 455.1,332.5 452.9,334.7 450.8,332.5"/><polygon points="455.4,332.5 457.6,334.7 455.4,336.8 453.3,334.7"/><polygon points="457.9,332.6 460.1,334.8 457.9,337 455.8,334.8"/><polygon points="460.4,332.7 462.6,334.9 460.4,337 458.3,334.9"/><polygon points="462.9,332.8 465.1,334.9 462.9,337.1 460.8,334.9"/><polygon points="465.5,332.8 467.6,335 465.5,337.2 463.3,335"/><polygon points="468,332.9 470.1,335 468,337.2 465.8,335"/><polygon points="470.5,332.9 472.6,335.1 470.5,337.2 468.3,335.1"/><polygon points="473,333 475.1,335.1 473,337.3 470.8,335.1"/><polygon points="475.5,333 477.6,335.2 475.5,337.3 473.3,335.2"/><polygon points="478,333 480.1,335.2 478,337.4 475.8,335.2"/><polygon points="480.5,336.3 482.6,338.4 480.5,340.6 478.3,338.4"/><polygon points="483,336.8 485.1,339 483,341.1 480.8,339"/><polygon points="485.5,337 487.6,339.1 485.5,341.3 483.3,339.1"/><polygon points="488,337 490.1,339.2 488,341.3 485.8,339.2"/><polygon points="490.5,337.1 492.6,339.2 490.5,341.4 488.3,339.2"/><polygon points="493,337.1 495.1,339.3 493,341.5 490.8,339.3"/><polygon points="495.5,337.2 497.6,339.3 495.5,341.5 493.3,339.3"/><polygon points="498,337.2 500.1,339.4 498,341.6 495.8,339.4"/><polygon points="500.5,337.3 502.7,339.4 500.5,341.6 498.3,339.4"/><polygon points="503,337.3 505.2,339.5 503,341.6 500.8,339.5"/><polygon points="505.5,337.3 507.7,339.5 505.5,341.7 503.3,339.5"/><polygon points="508,288 510.2,290.2 508,292.4 505.8,290.2"/><polygon points="510.5,286.7 512.7,288.8 510.5,291 508.3,288.8"/><polygon points="513,286.8 515.2,289 513,291.1 510.8,289"/><polygon points="515.5,286.9 517.7,289 515.5,291.2 513.4,289"/><polygon points="518,286.9 520.2,289.1 518,291.2 515.9,289.1"/><polygon points="520.5,287 522.7,289.1 520.5,291.3 518.4,289.1"/><polygon points="523,287 525.2,289.2 523,291.3 520.9,289.2"/><polygon points="525.5,287 527.7,289.2 525.5,291.4 523.4,289.2"/><polygon points="528,287.1 530.2,289.2 528,291.4 525.9,289.2"/><polygon points="530.5,287.1 532.7,289.3 530.5,291.4 528.4,289.3"/><polygon points="533,287.1 535.2,289.3 533,291.5 530.9,289.3"/><polygon points="535.5,287.2 537.7,289.3 535.5,291.5 533.4,289.3"/><polygon points="538,287.2 540.2,289.4 538,291.5 535.9,289.4"/><polygon points="540.5,287.2 542.7,289.4 540.5,291.5 538.4,289.4"/></g>
<g fill="#10108a"><polygon points="340.4,224.4 344.4,222.2 344.4,226.7"/><polygon points="342.9,268.1 346.9,265.8 346.9,270.3"/><polygon points="345.5,273.2 349.4,271 349.4,275.5"/><polygon points="348,275 352,272.7 352,277.2"/><polygon points="350.5,276.2 354.5,274 354.5,278.5"/><polygon points="353,277.3 357,275 357,279.5"/><polygon points="355.5,278.2 359.5,275.9 359.5,280.5"/><polygon points="358,279 362,276.7 362,281.3"/><polygon points="360.5,279.7 364.5,277.5 364.5,282"/><polygon points="363,280.4 367,278.1 367,282.7"/><polygon points="365.5,281 369.5,278.8 369.5,283.3"/><polygon points="368,289.4 372,287.1 372,291.6"/><polygon points="370.5,293.7 374.5,291.4 374.5,295.9"/><polygon points="373,294.3 377,292 377,296.5"/><polygon points="375.5,294.6 379.5,292.3 379.5,296.8"/><polygon points="378,294.8 382,292.6 382,297.1"/><polygon points="380.5,295 384.5,292.8 384.5,297.3"/><polygon points="383,295.2 387,293 387,297.5"/><polygon points="385.5,295.4 389.5,293.1 389.5,297.6"/><polygon points="388,295.5 392,293.3 392,297.8"/><polygon points="390.5,295.7 394.5,293.4 394.5,298"/><polygon points="393,295.9 397,293.6 397,298.1"/><polygon points="395.5,306.9 399.5,304.6 399.5,309.2"/><polygon points="398,310.7 402,308.4 402,312.9"/><polygon points="400.5,311.5 404.5,309.3 404.5,313.8"/><polygon points="403,312 407,309.7 407,314.2"/><polygon points="405.5,312.3 409.5,310.1 409.5,314.6"/><polygon points="408,312.7 412,310.4 412,314.9"/><polygon points="410.5,312.9 414.5,310.7 414.5,315.2"/><polygon points="413,313.2 417,311 417,315.5"/><polygon points="415.5,313.5 419.5,311.2 419.5,315.7"/><polygon points="418,313.7 422,311.4 422,315.9"/><polygon points="420.5,313.9 424.5,311.7 424.5,316.2"/><polygon points="423,319.6 427,317.3 427,321.8"/><polygon points="425.5,323.6 429.5,321.4 429.5,325.9"/><polygon points="428.1,323.9 432,321.6 432,326.2"/><polygon points="430.6,324 434.6,321.8 434.6,326.3"/><polygon points="433.1,324.2 437.1,321.9 437.1,326.4"/><polygon points="435.6,324.3 439.6,322 439.6,326.5"/><polygon points="438.1,324.4 442.1,322.1 442.1,326.6"/><polygon points="440.6,324.5 444.6,322.2 444.6,326.7"/><polygon points="443.1,324.5 447.1,322.3 447.1,326.8"/><polygon points="445.6,324.6 449.6,322.4 449.6,326.9"/><polygon points="448.1,324.7 452.1,322.4 452.1,326.9"/><polygon points="450.6,332 454.6,329.7 454.6,334.2"/><polygon points="453.1,334.1 457.1,331.9 457.1,336.4"/><polygon points="455.6,334.3 459.6,332 459.6,336.5"/><polygon points="458.1,334.3 462.1,332.1 462.1,336.6"/><polygon points="460.6,334.4 464.6,332.1 464.6,336.7"/><polygon points="463.1,334.5 467.1,332.2 467.1,336.7"/><polygon points="465.6,334.5 469.6,332.2 469.6,336.8"/><polygon points="468.1,334.5 472.1,332.3 472.1,336.8"/><polygon points="470.6,334.6 474.6,332.3 474.6,336.8"/><polygon points="473.1,334.6 477.1,332.4 477.1,336.9"/><polygon points="475.6,334.7 479.6,332.4 479.6,336.9"/><polygon points="478.1,338.2 482.1,335.9 482.1,340.4"/><polygon points="480.6,338.7 484.6,336.4 484.6,341"/><polygon points="483.1,338.8 487.1,336.6 487.1,341.1"/><polygon points="485.6,338.9 489.6,336.7 489.6,341.2"/><polygon points="488.1,339 492.1,336.7 492.1,341.2"/><polygon points="490.6,339 494.6,336.8 494.6,341.3"/><polygon points="493.1,339.1 497.1,336.8 497.1,341.3"/><polygon points="495.6,339.1 499.6,336.9 499.6,341.4"/><polygon points="498.1,339.2 502.1,336.9 502.1,341.4"/><polygon points="500.6,339.2 504.6,336.9 504.6,341.5"/><polygon points="503.1,339.2 507.1,337 507.1,341.5"/><polygon points="505.6,289.7 509.6,287.4 509.6,291.9"/><polygon points="508.1,288.3 512.1,286 512.1,290.6"/><polygon points="510.6,288.4 514.6,286.2 514.6,290.7"/><polygon points="513.2,288.5 517.1,286.2 517.1,290.7"/><polygon points="515.7,288.5 519.7,286.3 519.7,290.8"/><polygon points="518.2,288.6 522.2,286.3 522.2,290.8"/><polygon points="520.7,288.6 524.7,286.4 524.7,290.9"/><polygon points="523.2,288.7 527.2,286.4 527.2,290.9"/><polygon points="525.7,288.7 529.7,286.4 529.7,291"/><polygon points="528.2,288.7 532.2,286.5 532.2,291"/><polygon points="530.7,288.8 534.7,286.5 534.7,291"/><polygon points="533.2,288.8 537.2,286.5 537.2,291"/><polygon points="535.7,288.8 539.7,286.6 539.7,291.1"/><polygon points="538.2,288.8 542.2,286.6 542.2,291.1"/></g>
<g fill="#8a18f0"><polygon points="344.9,286.7 341.4,284.7 341.4,288.7"/><polygon points="347.4,291 343.9,289 343.9,293"/><polygon points="349.9,292.9 346.4,290.9 346.4,294.9"/><polygon points="352.4,293.6 348.9,291.6 348.9,295.6"/><polygon points="354.9,294.1 351.4,292.1 351.4,296"/><polygon points="357.4,294.5 353.9,292.5 353.9,296.4"/><polygon points="359.9,294.8 356.4,292.8 356.4,296.8"/><polygon points="362.4,295.1 358.9,293.1 358.9,297.1"/><polygon points="364.9,295.4 361.4,293.4 361.4,297.3"/><polygon points="367.4,295.6 363.9,293.6 363.9,297.6"/><polygon points="369.9,295.9 366.4,293.9 366.4,297.8"/><polygon points="372.4,305.6 368.9,303.6 368.9,307.5"/><polygon points="374.9,306.4 371.4,304.4 371.4,308.3"/><polygon points="377.4,307.3 373.9,305.3 373.9,309.3"/><polygon points="379.9,307.8 376.4,305.8 376.4,309.8"/><polygon points="382.4,308.2 378.9,306.2 378.9,310.2"/><polygon points="384.9,308.5 381.4,306.5 381.4,310.5"/><polygon points="387.4,308.8 383.9,306.8 383.9,310.8"/><polygon points="389.9,309.1 386.4,307.1 386.4,311.1"/><polygon points="392.4,309.4 388.9,307.4 388.9,311.4"/><polygon points="394.9,309.6 391.4,307.6 391.4,311.6"/><polygon points="397.4,309.9 393.9,307.9 393.9,311.8"/><polygon points="399.9,317.9 396.4,316 396.4,319.9"/><polygon points="402.4,320.4 398.9,318.4 398.9,322.4"/><polygon points="404.9,321.1 401.4,319.1 401.4,323.1"/><polygon points="407.4,321.5 403.9,319.5 403.9,323.4"/><polygon points="410,321.8 406.4,319.8 406.4,323.7"/><polygon points="412.5,322 408.9,320.1 408.9,324"/><polygon points="415,322.3 411.4,320.3 411.4,324.2"/><polygon points="417.5,322.5 413.9,320.5 413.9,324.5"/><polygon points="420,322.7 416.5,320.7 416.5,324.7"/><polygon points="422.5,322.9 419,320.9 419,324.9"/><polygon points="425,323.1 421.5,321.1 421.5,325.1"/><polygon points="427.5,328.7 424,326.7 424,330.7"/><polygon points="430,330.3 426.5,328.4 426.5,332.3"/><polygon points="432.5,330.8 429,328.8 429,332.8"/><polygon points="435,331 431.5,329 431.5,333"/><polygon points="437.5,331.2 434,329.2 434,333.2"/><polygon points="440,331.3 436.5,329.4 436.5,333.3"/><polygon points="442.5,331.5 439,329.5 439,333.5"/><polygon points="445,331.6 441.5,329.6 441.5,333.6"/><polygon points="447.5,331.7 444,329.8 444,333.7"/><polygon points="450,331.9 446.5,329.9 446.5,333.8"/><polygon points="452.5,332 449,330 449,333.9"/><polygon points="455,336.8 451.5,334.8 451.5,338.8"/><polygon points="457.5,337.9 454,335.9 454,339.9"/><polygon points="460,338 456.5,336.1 456.5,340"/><polygon points="462.5,338.1 459,336.1 459,340.1"/><polygon points="465,338.2 461.5,336.2 461.5,340.2"/><polygon points="467.5,338.2 464,336.2 464,340.2"/><polygon points="470,338.3 466.5,336.3 466.5,340.3"/><polygon points="472.5,338.3 469,336.3 469,340.3"/><polygon points="475,338.4 471.5,336.4 471.5,340.3"/><polygon points="477.5,338.4 474,336.4 474,340.4"/><polygon points="480,338.4 476.5,336.5 476.5,340.4"/><polygon points="482.5,340.3 479,338.3 479,342.3"/><polygon points="485,340.6 481.5,338.6 481.5,342.6"/><polygon points="487.5,340.7 484,338.7 484,342.6"/><polygon points="490,340.7 486.5,338.7 486.5,342.7"/><polygon points="492.6,340.7 489,338.7 489,342.7"/><polygon points="495.1,340.8 491.5,338.8 491.5,342.7"/><polygon points="497.6,340.8 494,338.8 494,342.8"/><polygon points="500.1,340.8 496.5,338.8 496.5,342.8"/><polygon points="502.6,340.8 499.1,338.8 499.1,342.8"/><polygon points="505.1,340.8 501.6,338.9 501.6,342.8"/><polygon points="507.6,340.9 504.1,338.9 504.1,342.8"/><polygon points="510.1,301.2 506.6,299.3 506.6,303.2"/><polygon points="512.6,293.7 509.1,291.7 509.1,295.7"/><polygon points="515.1,295.7 511.6,293.7 511.6,297.7"/><polygon points="517.6,296.7 514.1,294.8 514.1,298.7"/><polygon points="520.1,297.6 516.6,295.6 516.6,299.5"/><polygon points="522.6,298.3 519.1,296.3 519.1,300.3"/><polygon points="525.1,299 521.6,297 521.6,300.9"/><polygon points="527.6,299.6 524.1,297.6 524.1,301.5"/><polygon points="530.1,300.1 526.6,298.2 526.6,302.1"/><polygon points="532.6,300.7 529.1,298.7 529.1,302.6"/><polygon points="535.1,301.2 531.6,299.2 531.6,303.2"/><polygon points="537.6,301.7 534.1,299.7 534.1,303.6"/><polygon points="540.1,302.1 536.6,300.2 536.6,304.1"/><polygon points="542.6,302.6 539.1,300.6 539.1,304.6"/></g>
<g fill="#8a0f8a"><circle cx="342.8" cy="240.6" r="2.1"/><circle cx="345.3" cy="283.7" r="2.1"/><circle cx="347.8" cy="288.2" r="2.1"/><circle cx="350.3" cy="289.7" r="2.1"/><circle cx="352.8" cy="290.9" r="2.1"/><circle cx="355.3" cy="291.8" r="2.1"/><circle cx="357.8" cy="292.6" r="2.1"/><circle cx="360.3" cy="293.3" r="2.1"/><circle cx="362.8" cy="293.9" r="2.1"/><circle cx="365.3" cy="294.5" r="2.1"/><circle cx="367.8" cy="295" r="2.1"/><circle cx="370.3" cy="301.5" r="2.1"/><circle cx="372.8" cy="305.6" r="2.1"/><circle cx="375.3" cy="306.6" r="2.1"/><circle cx="377.8" cy="307.2" r="2.1"/><circle cx="380.3" cy="307.6" r="2.1"/><circle cx="382.9" cy="308" r="2.1"/><circle cx="385.4" cy="308.4" r="2.1"/><circle cx="387.9" cy="308.7" r="2.1"/><circle cx="390.4" cy="309" r="2.1"/><circle cx="392.9" cy="309.3" r="2.1"/><circle cx="395.4" cy="309.6" r="2.1"/><circle cx="397.9" cy="316.9" r="2.1"/><circle cx="400.4" cy="319.6" r="2.1"/><circle cx="402.9" cy="320.4" r="2.1"/><circle cx="405.4" cy="320.9" r="2.1"/><circle cx="407.9" cy="321.2" r="2.1"/><circle cx="410.4" cy="321.6" r="2.1"/><circle cx="412.9" cy="321.8" r="2.1"/><circle cx="415.4" cy="322.1" r="2.1"/><circle cx="417.9" cy="322.3" r="2.1"/><circle cx="420.4" cy="322.6" r="2.1"/><circle cx="422.9" cy="322.8" r="2.1"/><circle cx="425.4" cy="327.9" r="2.1"/><circle cx="427.9" cy="329.8" r="2.1"/><circle cx="430.4" cy="330.3" r="2.1"/><circle cx="432.9" cy="330.6" r="2.1"/><circle cx="435.4" cy="330.8" r="2.1"/><circle cx="437.9" cy="331" r="2.1"/><circle cx="440.4" cy="331.1" r="2.1"/><circle cx="442.9" cy="331.3" r="2.1"/><circle cx="445.4" cy="331.4" r="2.1"/><circle cx="447.9" cy="331.6" r="2.1"/><circle cx="450.4" cy="331.7" r="2.1"/><circle cx="452.9" cy="336.3" r="2.1"/><circle cx="455.4" cy="337.6" r="2.1"/><circle cx="457.9" cy="337.8" r="2.1"/><circle cx="460.4" cy="337.8" r="2.1"/><circle cx="462.9" cy="337.9" r="2.1"/><circle cx="465.5" cy="338" r="2.1"/><circle cx="468" cy="338" r="2.1"/><circle cx="470.5" cy="338" r="2.1"/><circle cx="473" cy="338.1" r="2.1"/><circle cx="475.5" cy="338.1" r="2.1"/><circle cx="478" cy="338.2" r="2.1"/><circle cx="480.5" cy="340" r="2.1"/><circle cx="483" cy="340.6" r="2.1"/><circle cx="485.5" cy="340.7" r="2.1"/><circle cx="488" cy="340.7" r="2.1"/><circle cx="490.5" cy="340.7" r="2.1"/><circle cx="493" cy="340.8" r="2.1"/><circle cx="495.5" cy="340.8" r="2.1"/><circle cx="498" cy="340.8" r="2.1"/><circle cx="500.5" cy="340.8" r="2.1"/><circle cx="503" cy="340.8" r="2.1"/><circle cx="505.5" cy="340.9" r="2.1"/><circle cx="508" cy="312" r="2.1"/><circle cx="510.5" cy="294" r="2.1"/><circle cx="513" cy="295.8" r="2.1"/><circle cx="515.5" cy="296.8" r="2.1"/><circle cx="518" cy="297.6" r="2.1"/><circle cx="520.5" cy="298.3" r="2.1"/><circle cx="523" cy="298.9" r="2.1"/><circle cx="525.5" cy="299.5" r="2.1"/><circle cx="528" cy="300" r="2.1"/><circle cx="530.5" cy="300.5" r="2.1"/><circle cx="533" cy="301" r="2.1"/><circle cx="535.5" cy="301.5" r="2.1"/><circle cx="538" cy="301.9" r="2.1"/><circle cx="540.5" cy="302.3" r="2.1"/></g>
<g fill="#9a1818"><polygon points="342.8,309.9 343.3,311.3 344.8,311.4 343.6,312.3 344,313.7 342.8,312.9 341.6,313.7 342,312.3 340.8,311.4 342.3,311.3"/><polygon points="345.3,311 345.8,312.4 347.3,312.5 346.1,313.4 346.5,314.8 345.3,314 344.1,314.8 344.5,313.4 343.3,312.5 344.8,312.4"/><polygon points="347.8,313.1 348.3,314.4 349.8,314.5 348.6,315.4 349,316.8 347.8,316 346.6,316.8 347,315.4 345.8,314.5 347.3,314.4"/><polygon points="350.3,313.7 350.8,315.1 352.3,315.2 351.1,316.1 351.5,317.5 350.3,316.7 349.1,317.5 349.5,316.1 348.3,315.2 349.8,315.1"/><polygon points="352.8,314.2 353.3,315.6 354.8,315.7 353.7,316.6 354,318 352.8,317.2 351.6,318 352,316.6 350.8,315.7 352.3,315.6"/><polygon points="355.3,314.7 355.8,316 357.3,316.1 356.2,317 356.5,318.4 355.3,317.6 354.1,318.4 354.5,317 353.3,316.1 354.8,316"/><polygon points="357.8,315 358.3,316.4 359.8,316.5 358.7,317.4 359,318.8 357.8,318 356.6,318.8 357,317.4 355.8,316.5 357.3,316.4"/><polygon points="360.3,315.3 360.8,316.7 362.3,316.8 361.2,317.7 361.5,319.1 360.3,318.3 359.1,319.1 359.5,317.7 358.3,316.8 359.8,316.7"/><polygon points="362.8,315.6 363.3,317 364.8,317.1 363.7,318 364,319.4 362.8,318.6 361.6,319.4 362,318 360.8,317.1 362.3,317"/><polygon points="365.3,315.9 365.8,317.3 367.3,317.3 366.2,318.2 366.6,319.7 365.3,318.9 364.1,319.7 364.5,318.2 363.4,317.3 364.8,317.3"/><polygon points="367.8,316.1 368.4,317.5 369.8,317.6 368.7,318.5 369.1,319.9 367.8,319.1 366.6,319.9 367,318.5 365.9,317.6 367.3,317.5"/><polygon points="370.3,319.6 370.9,321 372.3,321.1 371.2,322 371.6,323.4 370.3,322.6 369.1,323.4 369.5,322 368.4,321.1 369.8,321"/><polygon points="372.8,320.2 373.4,321.6 374.8,321.6 373.7,322.5 374.1,323.9 372.8,323.1 371.6,323.9 372,322.5 370.9,321.6 372.3,321.6"/><polygon points="375.3,320.6 375.9,322 377.3,322.1 376.2,323 376.6,324.4 375.3,323.6 374.1,324.4 374.5,323 373.4,322.1 374.8,322"/><polygon points="377.8,320.8 378.4,322.2 379.8,322.3 378.7,323.2 379.1,324.6 377.8,323.8 376.6,324.6 377,323.2 375.9,322.3 377.3,322.2"/><polygon points="380.3,321 380.9,322.4 382.3,322.5 381.2,323.4 381.6,324.8 380.3,324 379.1,324.8 379.5,323.4 378.4,322.5 379.8,322.4"/><polygon points="382.9,321.2 383.4,322.5 384.8,322.6 383.7,323.5 384.1,324.9 382.9,324.1 381.6,324.9 382,323.5 380.9,322.6 382.3,322.5"/><polygon points="385.4,321.3 385.9,322.7 387.3,322.8 386.2,323.7 386.6,325.1 385.4,324.3 384.1,325.1 384.5,323.7 383.4,322.8 384.8,322.7"/><polygon points="387.9,321.4 388.4,322.8 389.8,322.9 388.7,323.8 389.1,325.2 387.9,324.4 386.6,325.2 387,323.8 385.9,322.9 387.3,322.8"/><polygon points="390.4,321.6 390.9,322.9 392.3,323 391.2,323.9 391.6,325.3 390.4,324.5 389.1,325.3 389.5,323.9 388.4,323 389.8,322.9"/><polygon points="392.9,321.7 393.4,323.1 394.8,323.1 393.7,324 394.1,325.5 392.9,324.6 391.6,325.5 392,324 390.9,323.1 392.3,323.1"/><polygon points="395.4,321.8 395.9,323.2 397.3,323.2 396.2,324.2 396.6,325.6 395.4,324.8 394.1,325.6 394.5,324.2 393.4,323.2 394.8,323.2"/><polygon points="397.9,326.6 398.4,328 399.8,328.1 398.7,329 399.1,330.4 397.9,329.6 396.6,330.4 397,329 395.9,328.1 397.4,328"/><polygon points="400.4,326.6 400.9,328 402.4,328.1 401.2,329 401.6,330.4 400.4,329.6 399.1,330.4 399.5,329 398.4,328.1 399.9,328"/><polygon points="402.9,326.8 403.4,328.2 404.9,328.2 403.7,329.1 404.1,330.6 402.9,329.8 401.7,330.6 402,329.1 400.9,328.2 402.4,328.2"/><polygon points="405.4,326.9 405.9,328.2 407.4,328.3 406.2,329.2 406.6,330.6 405.4,329.8 404.2,330.6 404.5,329.2 403.4,328.3 404.9,328.2"/><polygon points="407.9,326.9 408.4,328.3 409.9,328.4 408.7,329.3 409.1,330.7 407.9,329.9 406.7,330.7 407,329.3 405.9,328.4 407.4,328.3"/><polygon points="410.4,327 410.9,328.3 412.4,328.4 411.2,329.3 411.6,330.7 410.4,329.9 409.2,330.7 409.5,329.3 408.4,328.4 409.9,328.3"/><polygon points="412.9,327 413.4,328.4 414.9,328.5 413.7,329.4 414.1,330.8 412.9,330 411.7,330.8 412.1,329.4 410.9,328.5 412.4,328.4"/><polygon points="415.4,327.1 415.9,328.4 417.4,328.5 416.2,329.4 416.6,330.8 415.4,330 414.2,330.8 414.6,329.4 413.4,328.5 414.9,328.4"/><polygon points="417.9,327.1 418.4,328.5 419.9,328.6 418.7,329.5 419.1,330.9 417.9,330.1 416.7,330.9 417.1,329.5 415.9,328.6 417.4,328.5"/><polygon points="420.4,327.2 420.9,328.5 422.4,328.6 421.2,329.5 421.6,330.9 420.4,330.1 419.2,330.9 419.6,329.5 418.4,328.6 419.9,328.5"/><polygon points="422.9,327.2 423.4,328.6 424.9,328.6 423.7,329.5 424.1,331 422.9,330.1 421.7,331 422.1,329.5 420.9,328.6 422.4,328.6"/><polygon points="425.4,331.5 425.9,332.9 427.4,332.9 426.2,333.9 426.6,335.3 425.4,334.5 424.2,335.3 424.6,333.9 423.4,332.9 424.9,332.9"/><polygon points="427.9,331.5 428.4,332.9 429.9,332.9 428.7,333.9 429.1,335.3 427.9,334.5 426.7,335.3 427.1,333.9 425.9,332.9 427.4,332.9"/><polygon points="430.4,331.6 430.9,333 432.4,333.1 431.2,334 431.6,335.4 430.4,334.6 429.2,335.4 429.6,334 428.4,333.1 429.9,333"/><polygon points="432.9,331.7 433.4,333.1 434.9,333.2 433.7,334.1 434.1,335.5 432.9,334.7 431.7,335.5 432.1,334.1 430.9,333.2 432.4,333.1"/><polygon points="435.4,331.8 435.9,333.1 437.4,333.2 436.3,334.1 436.6,335.5 435.4,334.7 434.2,335.5 434.6,334.1 433.4,333.2 434.9,333.1"/><polygon points="437.9,331.8 438.4,333.2 439.9,333.3 438.8,334.2 439.1,335.6 437.9,334.8 436.7,335.6 437.1,334.2 435.9,333.3 437.4,333.2"/><polygon points="440.4,331.9 440.9,333.2 442.4,333.3 441.3,334.2 441.6,335.6 440.4,334.8 439.2,335.6 439.6,334.2 438.4,333.3 439.9,333.2"/><polygon points="442.9,331.9 443.4,333.3 444.9,333.4 443.8,334.3 444.1,335.7 442.9,334.9 441.7,335.7 442.1,334.3 440.9,333.4 442.4,333.3"/><polygon points="445.4,332 445.9,333.3 447.4,333.4 446.3,334.3 446.6,335.7 445.4,334.9 444.2,335.7 444.6,334.3 443.4,333.4 444.9,333.3"/><polygon points="447.9,332 448.4,333.4 449.9,333.4 448.8,334.4 449.2,335.8 447.9,335 446.7,335.8 447.1,334.4 446,333.4 447.4,333.4"/><polygon points="450.4,332 450.9,333.4 452.4,333.5 451.3,334.4 451.7,335.8 450.4,335 449.2,335.8 449.6,334.4 448.5,333.5 449.9,333.4"/><polygon points="452.9,335 453.5,336.4 454.9,336.4 453.8,337.4 454.2,338.8 452.9,338 451.7,338.8 452.1,337.4 451,336.4 452.4,336.4"/><polygon points="455.4,335 456,336.4 457.4,336.4 456.3,337.4 456.7,338.8 455.4,338 454.2,338.8 454.6,337.4 453.5,336.4 454.9,336.4"/><polygon points="457.9,335.1 458.5,336.4 459.9,336.5 458.8,337.4 459.2,338.8 457.9,338 456.7,338.8 457.1,337.4 456,336.5 457.4,336.4"/><polygon points="460.4,335.1 461,336.5 462.4,336.6 461.3,337.5 461.7,338.9 460.4,338.1 459.2,338.9 459.6,337.5 458.5,336.6 459.9,336.5"/><polygon points="462.9,335.1 463.5,336.5 464.9,336.6 463.8,337.5 464.2,338.9 462.9,338.1 461.7,338.9 462.1,337.5 461,336.6 462.4,336.5"/><polygon points="465.5,335.2 466,336.5 467.4,336.6 466.3,337.5 466.7,338.9 465.5,338.1 464.2,338.9 464.6,337.5 463.5,336.6 464.9,336.5"/><polygon points="468,335.2 468.5,336.6 469.9,336.6 468.8,337.5 469.2,339 468,338.2 466.7,339 467.1,337.5 466,336.6 467.4,336.6"/><polygon points="470.5,335.2 471,336.6 472.4,336.7 471.3,337.6 471.7,339 470.5,338.2 469.2,339 469.6,337.6 468.5,336.7 469.9,336.6"/><polygon points="473,335.2 473.5,336.6 474.9,336.7 473.8,337.6 474.2,339 473,338.2 471.7,339 472.1,337.6 471,336.7 472.4,336.6"/><polygon points="475.5,335.3 476,336.6 477.4,336.7 476.3,337.6 476.7,339 475.5,338.2 474.2,339 474.6,337.6 473.5,336.7 474.9,336.6"/><polygon points="478,335.3 478.5,336.6 479.9,336.7 478.8,337.6 479.2,339 478,338.2 476.7,339 477.1,337.6 476,336.7 477.4,336.6"/><polygon points="480.5,336.4 481,337.7 482.4,337.8 481.3,338.7 481.7,340.1 480.5,339.3 479.2,340.1 479.6,338.7 478.5,337.8 480,337.7"/><polygon points="483,336.4 483.5,337.7 484.9,337.8 483.8,338.7 484.2,340.1 483,339.3 481.7,340.1 482.1,338.7 481,337.8 482.5,337.7"/><polygon points="485.5,336.4 486,337.8 487.5,337.9 486.3,338.8 486.7,340.2 485.5,339.4 484.3,340.2 484.6,338.8 483.5,337.9 485,337.8"/><polygon points="488,336.5 488.5,337.8 490,337.9 488.8,338.8 489.2,340.2 488,339.4 486.8,340.2 487.1,338.8 486,337.9 487.5,337.8"/><polygon points="490.5,336.5 491,337.9 492.5,337.9 491.3,338.8 491.7,340.3 490.5,339.5 489.3,340.3 489.6,338.8 488.5,337.9 490,337.9"/><polygon points="493,336.5 493.5,337.9 495,338 493.8,338.9 494.2,340.3 493,339.5 491.8,340.3 492.1,338.9 491,338 492.5,337.9"/><polygon points="495.5,336.5 496,337.9 497.5,338 496.3,338.9 496.7,340.3 495.5,339.5 494.3,340.3 494.6,338.9 493.5,338 495,337.9"/><polygon points="498,336.6 498.5,337.9 500,338 498.8,338.9 499.2,340.3 498,339.5 496.8,340.3 497.2,338.9 496,338 497.5,337.9"/><polygon points="500.5,336.6 501,338 502.5,338 501.3,338.9 501.7,340.3 500.5,339.5 499.3,340.3 499.7,338.9 498.5,338 500,338"/><polygon points="503,336.6 503.5,338 505,338 503.8,339 504.2,340.4 503,339.6 501.8,340.4 502.2,339 501,338 502.5,338"/><polygon points="505.5,336.6 506,338 507.5,338.1 506.3,339 506.7,340.4 505.5,339.6 504.3,340.4 504.7,339 503.5,338.1 505,338"/><polygon points="508,319.9 508.5,321.3 510,321.3 508.8,322.3 509.2,323.7 508,322.9 506.8,323.7 507.2,322.3 506,321.3 507.5,321.3"/><polygon points="510.5,315.6 511,317 512.5,317 511.3,318 511.7,319.4 510.5,318.6 509.3,319.4 509.7,318 508.5,317 510,317"/><polygon points="513,315.5 513.5,316.9 515,317 513.8,317.9 514.2,319.3 513,318.5 511.8,319.3 512.2,317.9 511,317 512.5,316.9"/><polygon points="515.5,315.5 516,316.9 517.5,316.9 516.3,317.9 516.7,319.3 515.5,318.5 514.3,319.3 514.7,317.9 513.5,316.9 515,316.9"/><polygon points="518,315.5 518.5,316.9 520,316.9 518.8,317.8 519.2,319.2 518,318.4 516.8,319.2 517.2,317.8 516,316.9 517.5,316.9"/><polygon points="520.5,315.5 521,316.8 522.5,316.9 521.4,317.8 521.7,319.2 520.5,318.4 519.3,319.2 519.7,317.8 518.5,316.9 520,316.8"/><polygon points="523,315.4 523.5,316.8 525,316.9 523.9,317.8 524.2,319.2 523,318.4 521.8,319.2 522.2,317.8 521,316.9 522.5,316.8"/><polygon points="525.5,315.4 526,316.8 527.5,316.9 526.4,317.8 526.7,319.2 525.5,318.4 524.3,319.2 524.7,317.8 523.5,316.9 525,316.8"/><polygon points="528,315.4 528.5,316.8 530,316.8 528.9,317.8 529.2,319.2 528,318.4 526.8,319.2 527.2,317.8 526,316.8 527.5,316.8"/><polygon points="530.5,315.4 531,316.8 532.5,316.8 531.4,317.7 531.8,319.2 530.5,318.3 529.3,319.2 529.7,317.7 528.5,316.8 530,316.8"/><polygon points="533,315.4 533.5,316.7 535,316.8 533.9,317.7 534.3,319.1 533,318.3 531.8,319.1 532.2,317.7 531.1,316.8 532.5,316.7"/><polygon points="535.5,315.4 536.1,316.7 537.5,316.8 536.4,317.7 536.8,319.1 535.5,318.3 534.3,319.1 534.7,317.7 533.6,316.8 535,316.7"/><polygon points="538,315.3 538.6,316.7 540,316.8 538.9,317.7 539.3,319.1 538,318.3 536.8,319.1 537.2,317.7 536.1,316.8 537.5,316.7"/><polygon points="540.5,315.3 541.1,316.7 542.5,316.8 541.4,317.7 541.8,319.1 540.5,318.3 539.3,319.1 539.7,317.7 538.6,316.8 540,316.7"/></g>
<g fill="#86861a"><circle cx="342.8" cy="279.7" r="2.1"/><circle cx="345.3" cy="312" r="2.1"/><circle cx="347.8" cy="314.4" r="2.1"/><circle cx="350.3" cy="315.2" r="2.1"/><circle cx="352.8" cy="315.8" r="2.1"/><circle cx="355.3" cy="316.2" r="2.1"/><circle cx="357.8" cy="316.7" r="2.1"/><circle cx="360.3" cy="317" r="2.1"/><circle cx="362.8" cy="317.4" r="2.1"/><circle cx="365.3" cy="317.7" r="2.1"/><circle cx="367.8" cy="317.9" r="2.1"/><circle cx="370.3" cy="321.5" r="2.1"/><circle cx="372.8" cy="321.7" r="2.1"/><circle cx="375.3" cy="322.2" r="2.1"/><circle cx="377.8" cy="322.4" r="2.1"/><circle cx="380.3" cy="322.6" r="2.1"/><circle cx="382.9" cy="322.7" r="2.1"/><circle cx="385.4" cy="322.9" r="2.1"/><circle cx="387.9" cy="323" r="2.1"/><circle cx="390.4" cy="323.1" r="2.1"/><circle cx="392.9" cy="323.2" r="2.1"/><circle cx="395.4" cy="323.3" r="2.1"/><circle cx="397.9" cy="328.2" r="2.1"/><circle cx="400.4" cy="328.2" r="2.1"/><circle cx="402.9" cy="328.4" r="2.1"/><circle cx="405.4" cy="328.5" r="2.1"/><circle cx="407.9" cy="328.6" r="2.1"/><circle cx="410.4" cy="328.7" r="2.1"/><circle cx="412.9" cy="328.8" r="2.1"/><circle cx="415.4" cy="328.8" r="2.1"/><circle cx="417.9" cy="328.9" r="2.1"/><circle cx="420.4" cy="328.9" r="2.1"/><circle cx="422.9" cy="329" r="2.1"/><circle cx="425.4" cy="333" r="2.1"/><circle cx="427.9" cy="333.3" r="2.1"/><circle cx="430.4" cy="333.4" r="2.1"/><circle cx="432.9" cy="333.4" r="2.1"/><circle cx="435.4" cy="333.5" r="2.1"/><circle cx="437.9" cy="333.5" r="2.1"/><circle cx="440.4" cy="333.5" r="2.1"/><circle cx="442.9" cy="333.5" r="2.1"/><circle cx="445.4" cy="333.5" r="2.1"/><circle cx="447.9" cy="333.6" r="2.1"/><circle cx="450.4" cy="333.6" r="2.1"/><circle cx="452.9" cy="336.5" r="2.1"/><circle cx="455.4" cy="336.8" r="2.1"/><circle cx="457.9" cy="336.9" r="2.1"/><circle cx="460.4" cy="336.9" r="2.1"/><circle cx="462.9" cy="337" r="2.1"/><circle cx="465.5" cy="337" r="2.1"/><circle cx="468" cy="337" r="2.1"/><circle cx="470.5" cy="337" r="2.1"/><circle cx="473" cy="337" r="2.1"/><circle cx="475.5" cy="337.1" r="2.1"/><circle cx="478" cy="337.1" r="2.1"/><circle cx="480.5" cy="337.9" r="2.1"/><circle cx="483" cy="338.2" r="2.1"/><circle cx="485.5" cy="338.2" r="2.1"/><circle cx="488" cy="338.2" r="2.1"/><circle cx="490.5" cy="338.2" r="2.1"/><circle cx="493" cy="338.2" r="2.1"/><circle cx="495.5" cy="338.2" r="2.1"/><circle cx="498" cy="338.2" r="2.1"/><circle cx="500.5" cy="338.2" r="2.1"/><circle cx="503" cy="338.2" r="2.1"/><circle cx="505.5" cy="338.2" r="2.1"/><circle cx="508" cy="320.9" r="2.1"/><circle cx="510.5" cy="316.9" r="2.1"/><circle cx="513" cy="316.9" r="2.1"/><circle cx="515.5" cy="316.9" r="2.1"/><circle cx="518" cy="316.9" r="2.1"/><circle cx="520.5" cy="316.9" r="2.1"/><circle cx="523" cy="316.9" r="2.1"/><circle cx="525.5" cy="316.9" r="2.1"/><circle cx="528" cy="316.9" r="2.1"/><circle cx="530.5" cy="316.9" r="2.1"/><circle cx="533" cy="316.9" r="2.1"/><circle cx="535.5" cy="316.9" r="2.1"/><circle cx="538" cy="316.9" r="2.1"/><circle cx="540.5" cy="316.9" r="2.1"/></g>
</g>
<rect x="340.7" y="210.1" width="199.9" height="148.4" fill="none" stroke="#333333" stroke-width="1.05"/>
<path d="M340.3 358.5v3.1M390.36 358.5v3.1M440.42 358.5v3.1M490.48 358.5v3.1M540.54 358.5v3.1" stroke="#333333" stroke-width="0.8925" fill="none"/>
<path d="M365.33 358.5v1.7M415.39 358.5v1.7M465.45 358.5v1.7M515.51 358.5v1.7" stroke="#333333" stroke-width="0.8925" fill="none"/>
<path d="M340.7 344.9h-3.2M340.7 317.95h-3.2M340.7 291h-3.2M340.7 264.05h-3.2M340.7 237.1h-3.2M340.7 210.15h-3.2" stroke="#333333" stroke-width="0.8925" fill="none"/>
<path d="M340.7 358.38h-1.7M340.7 331.42h-1.7M340.7 304.47h-1.7M340.7 277.52h-1.7M340.7 250.57h-1.7M340.7 223.62h-1.7" stroke="#333333" stroke-width="0.8925" fill="none"/>
<text transform="translate(340.3 370.4) scale(0.95 1)" font-size="8.8" font-weight="bold" text-anchor="middle" fill="#0a0a0a" font-family='"Liberation Sans", Arial, sans-serif'  stroke="#0a0a0a" stroke-width="0.28">0</text>
<text transform="translate(390.36 370.4) scale(0.95 1)" font-size="8.8" font-weight="bold" text-anchor="middle" fill="#0a0a0a" font-family='"Liberation Sans", Arial, sans-serif'  stroke="#0a0a0a" stroke-width="0.28">20</text>
<text transform="translate(440.42 370.4) scale(0.95 1)" font-size="8.8" font-weight="bold" text-anchor="middle" fill="#0a0a0a" font-family='"Liberation Sans", Arial, sans-serif'  stroke="#0a0a0a" stroke-width="0.28">40</text>
<text transform="translate(490.48 370.4) scale(0.95 1)" font-size="8.8" font-weight="bold" text-anchor="middle" fill="#0a0a0a" font-family='"Liberation Sans", Arial, sans-serif'  stroke="#0a0a0a" stroke-width="0.28">60</text>
<text transform="translate(540.54 370.4) scale(0.95 1)" font-size="8.8" font-weight="bold" text-anchor="middle" fill="#0a0a0a" font-family='"Liberation Sans", Arial, sans-serif'  stroke="#0a0a0a" stroke-width="0.28">80</text>
<text transform="translate(335.8 348) scale(0.97 1)" font-size="8.8" font-weight="bold" text-anchor="end" fill="#0a0a0a" font-family='"Liberation Sans", Arial, sans-serif'  stroke="#0a0a0a" stroke-width="0.28">0</text>
<text transform="translate(335.8 321.05) scale(0.97 1)" font-size="8.8" font-weight="bold" text-anchor="end" fill="#0a0a0a" font-family='"Liberation Sans", Arial, sans-serif'  stroke="#0a0a0a" stroke-width="0.28">100</text>
<text transform="translate(335.8 294.1) scale(0.97 1)" font-size="8.8" font-weight="bold" text-anchor="end" fill="#0a0a0a" font-family='"Liberation Sans", Arial, sans-serif'  stroke="#0a0a0a" stroke-width="0.28">200</text>
<text transform="translate(335.8 267.15) scale(0.97 1)" font-size="8.8" font-weight="bold" text-anchor="end" fill="#0a0a0a" font-family='"Liberation Sans", Arial, sans-serif'  stroke="#0a0a0a" stroke-width="0.28">300</text>
<text transform="translate(335.8 240.2) scale(0.97 1)" font-size="8.8" font-weight="bold" text-anchor="end" fill="#0a0a0a" font-family='"Liberation Sans", Arial, sans-serif'  stroke="#0a0a0a" stroke-width="0.28">400</text>
<text transform="translate(335.8 213.25) scale(0.97 1)" font-size="8.8" font-weight="bold" text-anchor="end" fill="#0a0a0a" font-family='"Liberation Sans", Arial, sans-serif'  stroke="#0a0a0a" stroke-width="0.28">500</text>
<text transform="translate(314.4 290.4) rotate(-90) scale(1.13 1)" font-size="8.6" font-weight="bold" text-anchor="middle" fill="#0a0a0a" stroke="#0a0a0a" stroke-width="0.28" font-family='"Liberation Sans", Arial, sans-serif'>Specific Capacity(mAh/g)</text>
<text transform="translate(440.7 381.7) scale(1.06 1)" font-size="9.0" font-weight="bold" text-anchor="middle" fill="#0a0a0a" font-family='"Liberation Sans", Arial, sans-serif'  stroke="#0a0a0a" stroke-width="0.28">Cycle Number</text>
<text transform="translate(427.2 395.4) scale(1.15 1)" font-size="10.8" font-weight="normal" text-anchor="middle" fill="#222" font-family='"Liberation Serif", "DejaVu Serif", serif'  stroke="#222" stroke-width="0.4">(d)</text>
<rect x="383.9" y="217.1" width="2.6" height="2.6" fill="#111111"/>
<circle cx="401.8" cy="218.4" r="1.8" fill="#f01820"/>
<text transform="translate(412.7 221.19) scale(1.031 1)" font-size="9.0" font-weight="bold" text-anchor="start" fill="#0a0a0a" font-family='"Liberation Sans", Arial, sans-serif' xml:space="preserve" stroke="#0a0a0a" stroke-width="0.28">pure TiO<tspan font-size="9" dy="2.79">2</tspan><tspan dy="-2.79">  nanotubes</tspan></text>
<polygon points="385.2,231.2 383.3,234.6 387.1,234.6" fill="#1a28f0"/>
<polygon points="401.8,235.3 399.8,231.8 403.8,231.8" fill="#f218e8"/>
<text transform="translate(412.7 235.99) scale(1.045 1)" font-size="9.0" font-weight="bold" text-anchor="start" fill="#0a0a0a" font-family='"Liberation Sans", Arial, sans-serif' xml:space="preserve" stroke="#0a0a0a" stroke-width="0.28">Na<tspan font-size="9" dy="2.79">2</tspan><tspan dy="-2.79">MoO</tspan><tspan font-size="9" dy="2.79">4</tspan><tspan dy="-2.79">-15.4%-TiO</tspan><tspan font-size="9" dy="2.79">2</tspan></text>
<polygon points="385.2,246 387.2,248 385.2,250 383.2,248" fill="#10881a"/>
<polygon points="399.7,248 403.2,246 403.2,250" fill="#10108a"/>
<text transform="translate(412.7 250.79) scale(1.045 1)" font-size="9.0" font-weight="bold" text-anchor="start" fill="#0a0a0a" font-family='"Liberation Sans", Arial, sans-serif' xml:space="preserve" stroke="#0a0a0a" stroke-width="0.28">Na<tspan font-size="9" dy="2.79">2</tspan><tspan dy="-2.79">MoO</tspan><tspan font-size="9" dy="2.79">4</tspan><tspan dy="-2.79">-41.4%-TiO</tspan><tspan font-size="9" dy="2.79">2</tspan></text>
<polygon points="387.2,262.6 383.8,260.7 383.8,264.5" fill="#8a18f0"/>
<circle cx="401.8" cy="262.6" r="1.8" fill="#8a0f8a"/>
<text transform="translate(412.7 265.39) scale(1.045 1)" font-size="9.0" font-weight="bold" text-anchor="start" fill="#0a0a0a" font-family='"Liberation Sans", Arial, sans-serif' xml:space="preserve" stroke="#0a0a0a" stroke-width="0.28">Na<tspan font-size="9" dy="2.79">2</tspan><tspan dy="-2.79">MoO</tspan><tspan font-size="9" dy="2.79">4</tspan><tspan dy="-2.79">-24.1%-TiO</tspan><tspan font-size="9" dy="2.79">2</tspan></text>
<polygon points="385.2,275.8 385.6,276.9 386.8,277 385.9,277.7 386.2,278.8 385.2,278.2 384.2,278.8 384.5,277.7 383.6,277 384.8,276.9" fill="#9a1818"/>
<circle cx="401.8" cy="277.5" r="1.8" fill="#86861a"/>
<text transform="translate(412.7 280.29) scale(1.025 1)" font-size="9.0" font-weight="bold" text-anchor="start" fill="#0a0a0a" font-family='"Liberation Sans", Arial, sans-serif' xml:space="preserve" stroke="#0a0a0a" stroke-width="0.28">pure Na<tspan font-size="9" dy="2.79">2</tspan><tspan dy="-2.79">MoO</tspan><tspan font-size="9" dy="2.79">4</tspan><tspan dy="-2.79"> powder</tspan></text>
<text transform="translate(353 268.3) scale(1.0 1)" font-size="8.3" font-weight="normal" text-anchor="start" fill="#222" font-family='"Liberation Sans", Arial, sans-serif' >0.1 A g<tspan font-size="5.4" dy="-3.2">-1</tspan></text>
<text transform="translate(373.8 289) scale(1.0 1)" font-size="8.3" font-weight="normal" text-anchor="start" fill="#222" font-family='"Liberation Sans", Arial, sans-serif' >0.2 A g<tspan font-size="5.4" dy="-3.2">-1</tspan></text>
<text transform="translate(401 304.4) scale(1.0 1)" font-size="8.3" font-weight="normal" text-anchor="start" fill="#222" font-family='"Liberation Sans", Arial, sans-serif' >0.5 A g<tspan font-size="5.4" dy="-3.2">-1</tspan></text>
<text transform="translate(431 317.2) scale(1.0 1)" font-size="8.3" font-weight="normal" text-anchor="start" fill="#222" font-family='"Liberation Sans", Arial, sans-serif' >1 A g<tspan font-size="5.4" dy="-3.2">-1</tspan></text>
<text transform="translate(456 325.2) scale(1.0 1)" font-size="8.3" font-weight="normal" text-anchor="start" fill="#222" font-family='"Liberation Sans", Arial, sans-serif' >2 A g<tspan font-size="5.4" dy="-3.2">-1</tspan></text>
<text transform="translate(480.6 330.8) scale(1.0 1)" font-size="8.3" font-weight="normal" text-anchor="start" fill="#222" font-family='"Liberation Sans", Arial, sans-serif' >3 A g<tspan font-size="5.4" dy="-3.2">-1</tspan></text>
<text transform="translate(514.6 281.7) scale(1.0 1)" font-size="7.8" font-weight="normal" text-anchor="start" fill="#222" font-family='"Liberation Sans", Arial, sans-serif' >0.1 A g<tspan font-size="5.4" dy="-3.2">-1</tspan></text>
</g>
</g>
</svg>
</body></html>
